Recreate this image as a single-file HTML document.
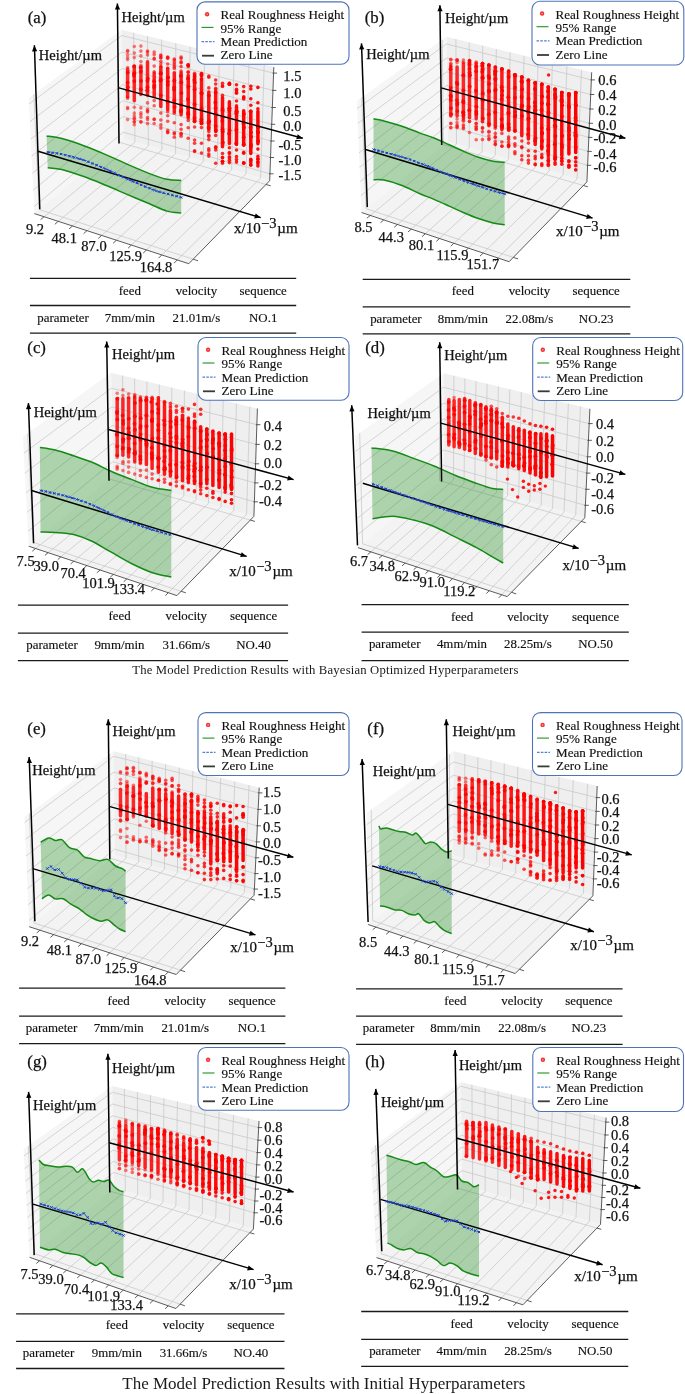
<!DOCTYPE html>
<html><head><meta charset="utf-8"><title>Model Prediction Results</title>
<style>html,body{margin:0;padding:0;background:#fff;width:685px;height:1394px;overflow:hidden}svg{display:block}text{font-family:"Liberation Serif","Times New Roman",serif}</style>
</head><body>
<svg width="685" height="1394" viewBox="0 0 685 1394" font-family="&quot;Liberation Serif&quot;,&quot;Times New Roman&quot;,serif">
<polygon points="28.7,97.9 121.6,29.8 123.4,138.8 34.4,213.6" fill="#f6f6f6"/>
<polygon points="121.6,29.8 273.8,67.1 269.7,180.7 123.4,138.8" fill="#efefef"/>
<polygon points="34.4,213.6 123.4,138.8 269.7,180.7 188.8,263.7" fill="#f3f3f3"/>
<g><line x1="135.0" y1="142.1" x2="133.6" y2="32.7" stroke="#c4c4c4" stroke-width="0.7"/><line x1="44.0" y1="216.8" x2="135.0" y2="142.1" stroke="#c4c4c4" stroke-width="0.7"/><line x1="148.4" y1="146.0" x2="147.5" y2="36.1" stroke="#c4c4c4" stroke-width="0.7"/><line x1="58.2" y1="221.4" x2="148.4" y2="146.0" stroke="#c4c4c4" stroke-width="0.7"/><line x1="161.9" y1="149.8" x2="161.6" y2="39.6" stroke="#c4c4c4" stroke-width="0.7"/><line x1="72.5" y1="226.0" x2="161.9" y2="149.8" stroke="#c4c4c4" stroke-width="0.7"/><line x1="175.6" y1="153.7" x2="175.8" y2="43.1" stroke="#c4c4c4" stroke-width="0.7"/><line x1="86.9" y1="230.7" x2="175.6" y2="153.7" stroke="#c4c4c4" stroke-width="0.7"/><line x1="189.4" y1="157.7" x2="190.1" y2="46.6" stroke="#c4c4c4" stroke-width="0.7"/><line x1="101.6" y1="235.4" x2="189.4" y2="157.7" stroke="#c4c4c4" stroke-width="0.7"/><line x1="203.3" y1="161.7" x2="204.6" y2="50.1" stroke="#c4c4c4" stroke-width="0.7"/><line x1="116.4" y1="240.2" x2="203.3" y2="161.7" stroke="#c4c4c4" stroke-width="0.7"/><line x1="217.4" y1="165.7" x2="219.3" y2="53.7" stroke="#c4c4c4" stroke-width="0.7"/><line x1="131.3" y1="245.1" x2="217.4" y2="165.7" stroke="#c4c4c4" stroke-width="0.7"/><line x1="231.6" y1="169.8" x2="234.1" y2="57.4" stroke="#c4c4c4" stroke-width="0.7"/><line x1="146.4" y1="250.0" x2="231.6" y2="169.8" stroke="#c4c4c4" stroke-width="0.7"/><line x1="246.0" y1="173.9" x2="249.1" y2="61.1" stroke="#c4c4c4" stroke-width="0.7"/><line x1="161.7" y1="255.0" x2="246.0" y2="173.9" stroke="#c4c4c4" stroke-width="0.7"/><line x1="260.6" y1="178.1" x2="264.2" y2="64.8" stroke="#c4c4c4" stroke-width="0.7"/><line x1="177.2" y1="260.0" x2="260.6" y2="178.1" stroke="#c4c4c4" stroke-width="0.7"/><line x1="123.3" y1="132.2" x2="270.0" y2="173.8" stroke="#c4c4c4" stroke-width="0.7"/><line x1="34.1" y1="206.6" x2="123.3" y2="132.2" stroke="#c4c4c4" stroke-width="0.7"/><line x1="123.0" y1="116.5" x2="270.6" y2="157.5" stroke="#c4c4c4" stroke-width="0.7"/><line x1="33.2" y1="190.1" x2="123.0" y2="116.5" stroke="#c4c4c4" stroke-width="0.7"/><line x1="122.8" y1="100.7" x2="271.1" y2="141.0" stroke="#c4c4c4" stroke-width="0.7"/><line x1="32.4" y1="173.3" x2="122.8" y2="100.7" stroke="#c4c4c4" stroke-width="0.7"/><line x1="122.5" y1="84.7" x2="271.7" y2="124.3" stroke="#c4c4c4" stroke-width="0.7"/><line x1="31.6" y1="156.3" x2="122.5" y2="84.7" stroke="#c4c4c4" stroke-width="0.7"/><line x1="122.2" y1="68.5" x2="272.3" y2="107.5" stroke="#c4c4c4" stroke-width="0.7"/><line x1="30.8" y1="139.1" x2="122.2" y2="68.5" stroke="#c4c4c4" stroke-width="0.7"/><line x1="122.0" y1="52.1" x2="272.9" y2="90.4" stroke="#c4c4c4" stroke-width="0.7"/><line x1="29.9" y1="121.7" x2="122.0" y2="52.1" stroke="#c4c4c4" stroke-width="0.7"/><line x1="121.7" y1="35.5" x2="273.5" y2="73.1" stroke="#c4c4c4" stroke-width="0.7"/><line x1="29.0" y1="104.0" x2="121.7" y2="35.5" stroke="#c4c4c4" stroke-width="0.7"/><line x1="39.2" y1="209.6" x2="33.8" y2="94.2" stroke="#c4c4c4" stroke-width="0.7"/><line x1="39.2" y1="209.6" x2="193.2" y2="259.2" stroke="#c4c4c4" stroke-width="0.7"/><line x1="119.3" y1="142.3" x2="117.3" y2="32.9" stroke="#c4c4c4" stroke-width="0.7"/><line x1="119.3" y1="142.3" x2="266.0" y2="184.5" stroke="#c4c4c4" stroke-width="0.7"/></g>
<line x1="34.4" y1="213.6" x2="188.8" y2="263.7" stroke="#4a4a4a" stroke-width="0.9"/>
<line x1="188.8" y1="263.7" x2="269.7" y2="180.7" stroke="#4a4a4a" stroke-width="0.9"/>
<line x1="269.7" y1="180.7" x2="273.8" y2="67.1" stroke="#4a4a4a" stroke-width="0.9"/>
<line x1="44.0" y1="216.8" x2="40.6" y2="219.6" stroke="#4a4a4a" stroke-width="0.9"/>
<line x1="58.2" y1="221.4" x2="54.8" y2="224.3" stroke="#4a4a4a" stroke-width="0.9"/>
<line x1="72.5" y1="226.0" x2="69.1" y2="228.9" stroke="#4a4a4a" stroke-width="0.9"/>
<line x1="86.9" y1="230.7" x2="83.6" y2="233.7" stroke="#4a4a4a" stroke-width="0.9"/>
<line x1="101.6" y1="235.4" x2="98.3" y2="238.4" stroke="#4a4a4a" stroke-width="0.9"/>
<line x1="116.4" y1="240.2" x2="113.1" y2="243.3" stroke="#4a4a4a" stroke-width="0.9"/>
<line x1="131.3" y1="245.1" x2="128.1" y2="248.2" stroke="#4a4a4a" stroke-width="0.9"/>
<line x1="146.4" y1="250.0" x2="143.2" y2="253.1" stroke="#4a4a4a" stroke-width="0.9"/>
<line x1="161.7" y1="255.0" x2="158.6" y2="258.1" stroke="#4a4a4a" stroke-width="0.9"/>
<line x1="177.2" y1="260.0" x2="174.1" y2="263.2" stroke="#4a4a4a" stroke-width="0.9"/>
<line x1="269.0" y1="173.8" x2="273.5" y2="173.8" stroke="#4a4a4a" stroke-width="0.9"/>
<line x1="269.6" y1="157.5" x2="274.1" y2="157.5" stroke="#4a4a4a" stroke-width="0.9"/>
<line x1="270.1" y1="141.0" x2="274.6" y2="141.0" stroke="#4a4a4a" stroke-width="0.9"/>
<line x1="270.7" y1="124.3" x2="275.2" y2="124.3" stroke="#4a4a4a" stroke-width="0.9"/>
<line x1="271.3" y1="107.5" x2="275.8" y2="107.5" stroke="#4a4a4a" stroke-width="0.9"/>
<line x1="271.9" y1="90.4" x2="276.4" y2="90.4" stroke="#4a4a4a" stroke-width="0.9"/>
<line x1="272.5" y1="73.1" x2="277.0" y2="73.1" stroke="#4a4a4a" stroke-width="0.9"/>
<line x1="193.2" y1="259.2" x2="198.1" y2="260.8" stroke="#4a4a4a" stroke-width="0.9"/>
<line x1="266.0" y1="184.5" x2="270.7" y2="185.8" stroke="#4a4a4a" stroke-width="0.9"/>
<path d="M46.6,136.0 C49.1,136.4 55.7,137.0 61.9,138.6 C68.1,140.2 76.5,143.1 83.8,145.8 C91.1,148.5 98.4,151.5 105.7,154.6 C113.0,157.7 120.3,161.2 127.6,164.4 C134.9,167.6 142.9,171.1 149.5,173.6 C156.1,176.1 161.7,178.2 167.0,179.3 C172.3,180.4 178.8,180.2 181.2,180.4 L181.2,213.0 L181.2,213.0 C178.8,212.7 172.3,212.6 167.0,211.1 C161.7,209.6 156.1,206.6 149.5,203.8 C142.9,201.1 134.9,197.7 127.6,194.6 C120.3,191.5 113.0,188.2 105.7,185.2 C98.4,182.2 91.1,179.1 83.8,176.5 C76.5,173.9 67.9,171.0 61.9,169.5 C55.9,168.0 50.1,168.0 47.7,167.7 Z" fill="rgb(0,128,0)" fill-opacity="0.3"/>
<path d="M46.6,136.0 C49.1,136.4 55.7,137.0 61.9,138.6 C68.1,140.2 76.5,143.1 83.8,145.8 C91.1,148.5 98.4,151.5 105.7,154.6 C113.0,157.7 120.3,161.2 127.6,164.4 C134.9,167.6 142.9,171.1 149.5,173.6 C156.1,176.1 161.7,178.2 167.0,179.3 C172.3,180.4 178.8,180.2 181.2,180.4" fill="none" stroke="#158a15" stroke-width="1.5"/>
<path d="M47.7,167.7 C50.1,168.0 55.9,168.0 61.9,169.5 C67.9,171.0 76.5,173.9 83.8,176.5 C91.1,179.1 98.4,182.2 105.7,185.2 C113.0,188.2 120.3,191.5 127.6,194.6 C134.9,197.7 142.9,201.1 149.5,203.8 C156.1,206.6 161.7,209.6 167.0,211.1 C172.3,212.6 178.8,212.7 181.2,213.0" fill="none" stroke="#158a15" stroke-width="1.5"/>
<g><line x1="127.6" y1="69.0" x2="127.6" y2="96.6" stroke="rgba(255,0,0,0.82)" stroke-width="3.5" stroke-linecap="round"/><circle cx="127.8" cy="72.4" r="1.95" fill="rgba(255,0,0,0.82)"/><circle cx="127.4" cy="90.4" r="1.95" fill="rgba(255,0,0,0.82)"/><circle cx="127.6" cy="82.7" r="1.95" fill="rgba(255,0,0,0.82)"/><circle cx="127.8" cy="87.2" r="1.95" fill="rgba(255,0,0,0.82)"/><circle cx="127.6" cy="67.5" r="1.8" fill="rgba(255,0,0,0.50)"/><circle cx="127.6" cy="108.7" r="1.8" fill="rgba(255,0,0,0.50)"/><circle cx="127.6" cy="97.3" r="1.8" fill="rgba(255,0,0,0.50)"/><circle cx="127.6" cy="54.8" r="1.8" fill="rgba(255,0,0,0.50)"/><circle cx="127.6" cy="51.4" r="1.8" fill="rgba(255,0,0,0.50)"/><circle cx="127.6" cy="98.5" r="1.8" fill="rgba(255,0,0,0.50)"/><circle cx="127.6" cy="57.6" r="1.8" fill="rgba(255,0,0,0.50)"/><circle cx="127.6" cy="107.5" r="1.8" fill="rgba(255,0,0,0.50)"/><circle cx="127.6" cy="59.6" r="1.8" fill="rgba(255,0,0,0.50)"/><circle cx="127.6" cy="50.6" r="1.8" fill="rgba(255,0,0,0.50)"/><circle cx="127.6" cy="119.6" r="1.8" fill="rgba(255,0,0,0.50)"/><line x1="134.3" y1="65.9" x2="134.3" y2="100.7" stroke="rgba(255,0,0,0.83)" stroke-width="3.5" stroke-linecap="round"/><circle cx="134.1" cy="66.4" r="1.95" fill="rgba(255,0,0,0.83)"/><circle cx="134.3" cy="81.1" r="1.95" fill="rgba(255,0,0,0.83)"/><circle cx="134.1" cy="73.7" r="1.95" fill="rgba(255,0,0,0.83)"/><circle cx="134.3" cy="73.2" r="1.95" fill="rgba(255,0,0,0.83)"/><circle cx="134.0" cy="75.8" r="1.95" fill="rgba(255,0,0,0.83)"/><circle cx="134.3" cy="115.9" r="1.8" fill="rgba(255,0,0,0.52)"/><circle cx="134.3" cy="107.3" r="1.8" fill="rgba(255,0,0,0.52)"/><circle cx="134.3" cy="122.0" r="1.8" fill="rgba(255,0,0,0.52)"/><circle cx="134.3" cy="57.6" r="1.8" fill="rgba(255,0,0,0.52)"/><circle cx="134.3" cy="119.1" r="1.8" fill="rgba(255,0,0,0.52)"/><circle cx="134.3" cy="113.0" r="1.8" fill="rgba(255,0,0,0.52)"/><circle cx="134.3" cy="118.3" r="1.8" fill="rgba(255,0,0,0.52)"/><circle cx="134.3" cy="53.1" r="1.8" fill="rgba(255,0,0,0.52)"/><circle cx="134.3" cy="121.8" r="1.8" fill="rgba(255,0,0,0.52)"/><circle cx="134.3" cy="46.5" r="1.8" fill="rgba(255,0,0,0.52)"/><circle cx="134.3" cy="124.7" r="1.8" fill="rgba(255,0,0,0.52)"/><line x1="140.9" y1="66.9" x2="140.9" y2="94.5" stroke="rgba(255,0,0,0.84)" stroke-width="3.5" stroke-linecap="round"/><circle cx="141.0" cy="80.9" r="1.95" fill="rgba(255,0,0,0.84)"/><circle cx="140.7" cy="67.4" r="1.95" fill="rgba(255,0,0,0.84)"/><circle cx="140.8" cy="89.2" r="1.95" fill="rgba(255,0,0,0.84)"/><circle cx="140.9" cy="71.4" r="1.95" fill="rgba(255,0,0,0.84)"/><circle cx="140.9" cy="114.8" r="1.8" fill="rgba(255,0,0,0.55)"/><circle cx="140.9" cy="55.9" r="1.8" fill="rgba(255,0,0,0.55)"/><circle cx="140.9" cy="117.2" r="1.8" fill="rgba(255,0,0,0.55)"/><circle cx="140.9" cy="107.9" r="1.8" fill="rgba(255,0,0,0.55)"/><circle cx="140.9" cy="65.2" r="1.8" fill="rgba(255,0,0,0.55)"/><circle cx="140.9" cy="51.1" r="1.8" fill="rgba(255,0,0,0.55)"/><circle cx="140.9" cy="112.9" r="1.8" fill="rgba(255,0,0,0.55)"/><circle cx="140.9" cy="61.5" r="1.8" fill="rgba(255,0,0,0.55)"/><circle cx="140.9" cy="121.7" r="1.8" fill="rgba(255,0,0,0.55)"/><circle cx="140.9" cy="46.1" r="1.8" fill="rgba(255,0,0,0.55)"/><circle cx="140.9" cy="122.1" r="1.8" fill="rgba(255,0,0,0.55)"/><line x1="147.5" y1="61.8" x2="147.5" y2="94.5" stroke="rgba(255,0,0,0.85)" stroke-width="3.5" stroke-linecap="round"/><circle cx="147.5" cy="87.2" r="1.95" fill="rgba(255,0,0,0.85)"/><circle cx="147.3" cy="90.3" r="1.95" fill="rgba(255,0,0,0.85)"/><circle cx="147.8" cy="78.6" r="1.95" fill="rgba(255,0,0,0.85)"/><circle cx="147.5" cy="80.7" r="1.95" fill="rgba(255,0,0,0.85)"/><circle cx="147.5" cy="54.9" r="1.8" fill="rgba(255,0,0,0.57)"/><circle cx="147.5" cy="95.4" r="1.8" fill="rgba(255,0,0,0.57)"/><circle cx="147.5" cy="119.4" r="1.8" fill="rgba(255,0,0,0.57)"/><circle cx="147.5" cy="117.5" r="1.8" fill="rgba(255,0,0,0.57)"/><circle cx="147.5" cy="111.9" r="1.8" fill="rgba(255,0,0,0.57)"/><circle cx="147.5" cy="109.4" r="1.8" fill="rgba(255,0,0,0.57)"/><circle cx="147.5" cy="52.1" r="1.8" fill="rgba(255,0,0,0.57)"/><circle cx="147.5" cy="102.9" r="1.8" fill="rgba(255,0,0,0.57)"/><circle cx="147.5" cy="111.0" r="1.8" fill="rgba(255,0,0,0.57)"/><circle cx="147.5" cy="51.0" r="1.8" fill="rgba(255,0,0,0.57)"/><circle cx="147.5" cy="123.6" r="1.8" fill="rgba(255,0,0,0.57)"/><line x1="154.2" y1="72.9" x2="154.2" y2="96.4" stroke="rgba(255,0,0,0.86)" stroke-width="3.5" stroke-linecap="round"/><circle cx="154.1" cy="81.2" r="1.95" fill="rgba(255,0,0,0.86)"/><circle cx="154.3" cy="85.6" r="1.95" fill="rgba(255,0,0,0.86)"/><circle cx="154.2" cy="87.4" r="1.95" fill="rgba(255,0,0,0.86)"/><circle cx="154.2" cy="66.1" r="1.8" fill="rgba(255,0,0,0.59)"/><circle cx="154.2" cy="59.1" r="1.8" fill="rgba(255,0,0,0.59)"/><circle cx="154.2" cy="119.1" r="1.8" fill="rgba(255,0,0,0.59)"/><circle cx="154.2" cy="119.5" r="1.8" fill="rgba(255,0,0,0.59)"/><circle cx="154.2" cy="54.6" r="1.8" fill="rgba(255,0,0,0.59)"/><circle cx="154.2" cy="100.6" r="1.8" fill="rgba(255,0,0,0.59)"/><circle cx="154.2" cy="71.7" r="1.8" fill="rgba(255,0,0,0.59)"/><circle cx="154.2" cy="105.7" r="1.8" fill="rgba(255,0,0,0.59)"/><circle cx="154.2" cy="58.4" r="1.8" fill="rgba(255,0,0,0.59)"/><circle cx="154.2" cy="52.0" r="1.8" fill="rgba(255,0,0,0.59)"/><circle cx="154.2" cy="123.5" r="1.8" fill="rgba(255,0,0,0.59)"/><line x1="160.8" y1="67.3" x2="160.8" y2="106.6" stroke="rgba(255,0,0,0.87)" stroke-width="3.5" stroke-linecap="round"/><circle cx="160.5" cy="80.6" r="1.95" fill="rgba(255,0,0,0.87)"/><circle cx="160.8" cy="73.2" r="1.95" fill="rgba(255,0,0,0.87)"/><circle cx="160.6" cy="73.5" r="1.95" fill="rgba(255,0,0,0.87)"/><circle cx="160.8" cy="95.4" r="1.95" fill="rgba(255,0,0,0.87)"/><circle cx="160.8" cy="79.7" r="1.95" fill="rgba(255,0,0,0.87)"/><circle cx="160.8" cy="61.2" r="1.8" fill="rgba(255,0,0,0.62)"/><circle cx="160.8" cy="63.7" r="1.8" fill="rgba(255,0,0,0.62)"/><circle cx="160.8" cy="55.9" r="1.8" fill="rgba(255,0,0,0.62)"/><circle cx="160.8" cy="113.1" r="1.8" fill="rgba(255,0,0,0.62)"/><circle cx="160.8" cy="124.9" r="1.8" fill="rgba(255,0,0,0.62)"/><circle cx="160.8" cy="66.3" r="1.8" fill="rgba(255,0,0,0.62)"/><circle cx="160.8" cy="57.7" r="1.8" fill="rgba(255,0,0,0.62)"/><circle cx="160.8" cy="57.8" r="1.8" fill="rgba(255,0,0,0.62)"/><circle cx="160.8" cy="120.0" r="1.8" fill="rgba(255,0,0,0.62)"/><circle cx="160.8" cy="55.0" r="1.8" fill="rgba(255,0,0,0.62)"/><circle cx="160.8" cy="128.1" r="1.8" fill="rgba(255,0,0,0.62)"/><line x1="167.7" y1="68.8" x2="167.7" y2="109.7" stroke="rgba(255,0,0,0.88)" stroke-width="3.5" stroke-linecap="round"/><circle cx="168.0" cy="77.5" r="1.95" fill="rgba(255,0,0,0.88)"/><circle cx="167.7" cy="101.7" r="1.95" fill="rgba(255,0,0,0.88)"/><circle cx="167.8" cy="77.6" r="1.95" fill="rgba(255,0,0,0.88)"/><circle cx="167.8" cy="84.8" r="1.95" fill="rgba(255,0,0,0.88)"/><circle cx="167.8" cy="81.7" r="1.95" fill="rgba(255,0,0,0.88)"/><circle cx="167.7" cy="64.0" r="1.8" fill="rgba(255,0,0,0.64)"/><circle cx="167.7" cy="130.4" r="1.8" fill="rgba(255,0,0,0.64)"/><circle cx="167.7" cy="58.4" r="1.8" fill="rgba(255,0,0,0.64)"/><circle cx="167.7" cy="57.6" r="1.8" fill="rgba(255,0,0,0.64)"/><circle cx="167.7" cy="121.3" r="1.8" fill="rgba(255,0,0,0.64)"/><circle cx="167.7" cy="68.0" r="1.8" fill="rgba(255,0,0,0.64)"/><circle cx="167.7" cy="111.8" r="1.8" fill="rgba(255,0,0,0.64)"/><circle cx="167.7" cy="132.0" r="1.8" fill="rgba(255,0,0,0.64)"/><circle cx="167.7" cy="115.7" r="1.8" fill="rgba(255,0,0,0.64)"/><circle cx="167.7" cy="57.1" r="1.8" fill="rgba(255,0,0,0.64)"/><circle cx="167.7" cy="132.7" r="1.8" fill="rgba(255,0,0,0.64)"/><line x1="174.3" y1="72.8" x2="174.3" y2="111.7" stroke="rgba(255,0,0,0.89)" stroke-width="3.5" stroke-linecap="round"/><circle cx="174.6" cy="106.9" r="1.95" fill="rgba(255,0,0,0.89)"/><circle cx="174.3" cy="100.4" r="1.95" fill="rgba(255,0,0,0.89)"/><circle cx="174.2" cy="87.4" r="1.95" fill="rgba(255,0,0,0.89)"/><circle cx="174.4" cy="80.5" r="1.95" fill="rgba(255,0,0,0.89)"/><circle cx="174.1" cy="89.6" r="1.95" fill="rgba(255,0,0,0.89)"/><circle cx="174.3" cy="62.7" r="1.8" fill="rgba(255,0,0,0.67)"/><circle cx="174.3" cy="64.7" r="1.8" fill="rgba(255,0,0,0.67)"/><circle cx="174.3" cy="60.4" r="1.8" fill="rgba(255,0,0,0.67)"/><circle cx="174.3" cy="113.2" r="1.8" fill="rgba(255,0,0,0.67)"/><circle cx="174.3" cy="66.8" r="1.8" fill="rgba(255,0,0,0.67)"/><circle cx="174.3" cy="132.7" r="1.8" fill="rgba(255,0,0,0.67)"/><circle cx="174.3" cy="68.4" r="1.8" fill="rgba(255,0,0,0.67)"/><circle cx="174.3" cy="133.9" r="1.8" fill="rgba(255,0,0,0.67)"/><circle cx="174.3" cy="122.8" r="1.8" fill="rgba(255,0,0,0.67)"/><circle cx="174.3" cy="59.0" r="1.8" fill="rgba(255,0,0,0.67)"/><circle cx="174.3" cy="137.2" r="1.8" fill="rgba(255,0,0,0.67)"/><line x1="181.1" y1="72.8" x2="181.1" y2="114.7" stroke="rgba(255,0,0,0.90)" stroke-width="3.5" stroke-linecap="round"/><circle cx="181.2" cy="110.1" r="1.95" fill="rgba(255,0,0,0.90)"/><circle cx="181.4" cy="93.1" r="1.95" fill="rgba(255,0,0,0.90)"/><circle cx="181.3" cy="82.3" r="1.95" fill="rgba(255,0,0,0.90)"/><circle cx="180.9" cy="75.9" r="1.95" fill="rgba(255,0,0,0.90)"/><circle cx="180.9" cy="111.4" r="1.95" fill="rgba(255,0,0,0.90)"/><circle cx="181.2" cy="104.8" r="1.95" fill="rgba(255,0,0,0.90)"/><circle cx="181.1" cy="124.6" r="1.8" fill="rgba(255,0,0,0.69)"/><circle cx="181.1" cy="66.6" r="1.8" fill="rgba(255,0,0,0.69)"/><circle cx="181.1" cy="129.2" r="1.8" fill="rgba(255,0,0,0.69)"/><circle cx="181.1" cy="134.3" r="1.8" fill="rgba(255,0,0,0.69)"/><circle cx="181.1" cy="62.8" r="1.8" fill="rgba(255,0,0,0.69)"/><circle cx="181.1" cy="71.1" r="1.8" fill="rgba(255,0,0,0.69)"/><circle cx="181.1" cy="58.6" r="1.8" fill="rgba(255,0,0,0.69)"/><circle cx="181.1" cy="133.2" r="1.8" fill="rgba(255,0,0,0.69)"/><circle cx="181.1" cy="61.9" r="1.8" fill="rgba(255,0,0,0.69)"/><circle cx="181.1" cy="57.0" r="1.8" fill="rgba(255,0,0,0.69)"/><circle cx="181.1" cy="136.2" r="1.8" fill="rgba(255,0,0,0.69)"/><line x1="188.2" y1="75.5" x2="188.2" y2="116.9" stroke="rgba(255,0,0,0.91)" stroke-width="3.5" stroke-linecap="round"/><circle cx="188.1" cy="108.1" r="1.95" fill="rgba(255,0,0,0.91)"/><circle cx="188.0" cy="99.2" r="1.95" fill="rgba(255,0,0,0.91)"/><circle cx="188.0" cy="78.4" r="1.95" fill="rgba(255,0,0,0.91)"/><circle cx="188.2" cy="112.7" r="1.95" fill="rgba(255,0,0,0.91)"/><circle cx="188.2" cy="114.2" r="1.95" fill="rgba(255,0,0,0.91)"/><circle cx="188.4" cy="86.7" r="1.95" fill="rgba(255,0,0,0.91)"/><circle cx="188.2" cy="118.0" r="1.8" fill="rgba(255,0,0,0.71)"/><circle cx="188.2" cy="120.4" r="1.8" fill="rgba(255,0,0,0.71)"/><circle cx="188.2" cy="65.6" r="1.8" fill="rgba(255,0,0,0.71)"/><circle cx="188.2" cy="71.7" r="1.8" fill="rgba(255,0,0,0.71)"/><circle cx="188.2" cy="127.8" r="1.8" fill="rgba(255,0,0,0.71)"/><circle cx="188.2" cy="72.5" r="1.8" fill="rgba(255,0,0,0.71)"/><circle cx="188.2" cy="66.8" r="1.8" fill="rgba(255,0,0,0.71)"/><circle cx="188.2" cy="65.4" r="1.8" fill="rgba(255,0,0,0.71)"/><circle cx="188.2" cy="64.9" r="1.8" fill="rgba(255,0,0,0.71)"/><circle cx="188.2" cy="64.7" r="1.8" fill="rgba(255,0,0,0.71)"/><circle cx="188.2" cy="138.3" r="1.8" fill="rgba(255,0,0,0.71)"/><line x1="194.6" y1="78.6" x2="194.6" y2="121.4" stroke="rgba(255,0,0,0.91)" stroke-width="3.5" stroke-linecap="round"/><circle cx="194.5" cy="118.0" r="1.95" fill="rgba(255,0,0,0.91)"/><circle cx="194.6" cy="89.2" r="1.95" fill="rgba(255,0,0,0.91)"/><circle cx="194.7" cy="82.5" r="1.95" fill="rgba(255,0,0,0.91)"/><circle cx="194.3" cy="79.9" r="1.95" fill="rgba(255,0,0,0.91)"/><circle cx="194.5" cy="121.2" r="1.95" fill="rgba(255,0,0,0.91)"/><circle cx="194.6" cy="104.3" r="1.95" fill="rgba(255,0,0,0.91)"/><circle cx="194.6" cy="77.6" r="1.8" fill="rgba(255,0,0,0.74)"/><circle cx="194.6" cy="150.8" r="1.8" fill="rgba(255,0,0,0.74)"/><circle cx="194.6" cy="127.0" r="1.8" fill="rgba(255,0,0,0.74)"/><circle cx="194.6" cy="74.8" r="1.8" fill="rgba(255,0,0,0.74)"/><circle cx="194.6" cy="140.1" r="1.8" fill="rgba(255,0,0,0.74)"/><circle cx="194.6" cy="143.2" r="1.8" fill="rgba(255,0,0,0.74)"/><circle cx="194.6" cy="75.1" r="1.8" fill="rgba(255,0,0,0.74)"/><circle cx="194.6" cy="76.5" r="1.8" fill="rgba(255,0,0,0.74)"/><circle cx="194.6" cy="76.4" r="1.8" fill="rgba(255,0,0,0.74)"/><circle cx="194.6" cy="73.2" r="1.8" fill="rgba(255,0,0,0.74)"/><circle cx="194.6" cy="151.5" r="1.8" fill="rgba(255,0,0,0.74)"/><line x1="201.5" y1="79.7" x2="201.5" y2="123.6" stroke="rgba(255,0,0,0.92)" stroke-width="3.5" stroke-linecap="round"/><circle cx="201.5" cy="123.4" r="1.95" fill="rgba(255,0,0,0.92)"/><circle cx="201.6" cy="108.5" r="1.95" fill="rgba(255,0,0,0.92)"/><circle cx="201.4" cy="121.5" r="1.95" fill="rgba(255,0,0,0.92)"/><circle cx="201.4" cy="93.0" r="1.95" fill="rgba(255,0,0,0.92)"/><circle cx="201.7" cy="93.5" r="1.95" fill="rgba(255,0,0,0.92)"/><circle cx="201.4" cy="119.4" r="1.95" fill="rgba(255,0,0,0.92)"/><circle cx="201.5" cy="75.6" r="1.8" fill="rgba(255,0,0,0.76)"/><circle cx="201.5" cy="143.3" r="1.8" fill="rgba(255,0,0,0.76)"/><circle cx="201.5" cy="79.0" r="1.8" fill="rgba(255,0,0,0.76)"/><circle cx="201.5" cy="78.5" r="1.8" fill="rgba(255,0,0,0.76)"/><circle cx="201.5" cy="127.6" r="1.8" fill="rgba(255,0,0,0.76)"/><circle cx="201.5" cy="75.1" r="1.8" fill="rgba(255,0,0,0.76)"/><circle cx="201.5" cy="74.3" r="1.8" fill="rgba(255,0,0,0.76)"/><circle cx="201.5" cy="73.9" r="1.8" fill="rgba(255,0,0,0.76)"/><circle cx="201.5" cy="75.8" r="1.8" fill="rgba(255,0,0,0.76)"/><circle cx="201.5" cy="73.2" r="1.8" fill="rgba(255,0,0,0.76)"/><circle cx="201.5" cy="153.1" r="1.8" fill="rgba(255,0,0,0.76)"/><line x1="208.8" y1="92.0" x2="208.8" y2="129.3" stroke="rgba(255,0,0,0.93)" stroke-width="3.5" stroke-linecap="round"/><circle cx="208.5" cy="121.9" r="1.95" fill="rgba(255,0,0,0.93)"/><circle cx="208.6" cy="127.8" r="1.95" fill="rgba(255,0,0,0.93)"/><circle cx="209.1" cy="121.2" r="1.95" fill="rgba(255,0,0,0.93)"/><circle cx="208.7" cy="122.9" r="1.95" fill="rgba(255,0,0,0.93)"/><circle cx="208.8" cy="95.6" r="1.95" fill="rgba(255,0,0,0.93)"/><circle cx="208.8" cy="139.6" r="1.8" fill="rgba(255,0,0,0.78)"/><circle cx="208.8" cy="135.3" r="1.8" fill="rgba(255,0,0,0.78)"/><circle cx="208.8" cy="131.4" r="1.8" fill="rgba(255,0,0,0.78)"/><circle cx="208.8" cy="77.3" r="1.8" fill="rgba(255,0,0,0.78)"/><circle cx="208.8" cy="154.1" r="1.8" fill="rgba(255,0,0,0.78)"/><circle cx="208.8" cy="150.6" r="1.8" fill="rgba(255,0,0,0.78)"/><circle cx="208.8" cy="136.4" r="1.8" fill="rgba(255,0,0,0.78)"/><circle cx="208.8" cy="87.9" r="1.8" fill="rgba(255,0,0,0.78)"/><circle cx="208.8" cy="148.8" r="1.8" fill="rgba(255,0,0,0.78)"/><circle cx="208.8" cy="76.1" r="1.8" fill="rgba(255,0,0,0.78)"/><circle cx="208.8" cy="156.1" r="1.8" fill="rgba(255,0,0,0.78)"/><line x1="215.7" y1="93.0" x2="215.7" y2="131.5" stroke="rgba(255,0,0,0.94)" stroke-width="3.5" stroke-linecap="round"/><circle cx="215.4" cy="102.5" r="1.95" fill="rgba(255,0,0,0.94)"/><circle cx="215.9" cy="130.5" r="1.95" fill="rgba(255,0,0,0.94)"/><circle cx="215.7" cy="114.2" r="1.95" fill="rgba(255,0,0,0.94)"/><circle cx="215.7" cy="126.1" r="1.95" fill="rgba(255,0,0,0.94)"/><circle cx="215.6" cy="108.1" r="1.95" fill="rgba(255,0,0,0.94)"/><circle cx="215.7" cy="91.8" r="1.8" fill="rgba(255,0,0,0.81)"/><circle cx="215.7" cy="147.5" r="1.8" fill="rgba(255,0,0,0.81)"/><circle cx="215.7" cy="135.4" r="1.8" fill="rgba(255,0,0,0.81)"/><circle cx="215.7" cy="89.9" r="1.8" fill="rgba(255,0,0,0.81)"/><circle cx="215.7" cy="88.2" r="1.8" fill="rgba(255,0,0,0.81)"/><circle cx="215.7" cy="146.9" r="1.8" fill="rgba(255,0,0,0.81)"/><circle cx="215.7" cy="84.0" r="1.8" fill="rgba(255,0,0,0.81)"/><circle cx="215.7" cy="92.2" r="1.8" fill="rgba(255,0,0,0.81)"/><circle cx="215.7" cy="149.9" r="1.8" fill="rgba(255,0,0,0.81)"/><circle cx="215.7" cy="80.0" r="1.8" fill="rgba(255,0,0,0.81)"/><circle cx="215.7" cy="163.2" r="1.8" fill="rgba(255,0,0,0.81)"/><line x1="222.5" y1="97.4" x2="222.5" y2="146.8" stroke="rgba(255,0,0,0.95)" stroke-width="3.5" stroke-linecap="round"/><circle cx="222.5" cy="129.6" r="1.95" fill="rgba(255,0,0,0.95)"/><circle cx="222.7" cy="131.5" r="1.95" fill="rgba(255,0,0,0.95)"/><circle cx="222.5" cy="108.9" r="1.95" fill="rgba(255,0,0,0.95)"/><circle cx="222.3" cy="121.0" r="1.95" fill="rgba(255,0,0,0.95)"/><circle cx="222.5" cy="117.6" r="1.95" fill="rgba(255,0,0,0.95)"/><circle cx="222.8" cy="142.6" r="1.95" fill="rgba(255,0,0,0.95)"/><circle cx="222.6" cy="110.7" r="1.95" fill="rgba(255,0,0,0.95)"/><circle cx="222.5" cy="95.2" r="1.8" fill="rgba(255,0,0,0.83)"/><circle cx="222.5" cy="161.6" r="1.8" fill="rgba(255,0,0,0.83)"/><circle cx="222.5" cy="85.8" r="1.8" fill="rgba(255,0,0,0.83)"/><circle cx="222.5" cy="153.5" r="1.8" fill="rgba(255,0,0,0.83)"/><circle cx="222.5" cy="161.2" r="1.8" fill="rgba(255,0,0,0.83)"/><circle cx="222.5" cy="86.5" r="1.8" fill="rgba(255,0,0,0.83)"/><circle cx="222.5" cy="157.8" r="1.8" fill="rgba(255,0,0,0.83)"/><circle cx="222.5" cy="161.8" r="1.8" fill="rgba(255,0,0,0.83)"/><circle cx="222.5" cy="157.4" r="1.8" fill="rgba(255,0,0,0.83)"/><circle cx="222.5" cy="83.2" r="1.8" fill="rgba(255,0,0,0.83)"/><circle cx="222.5" cy="163.2" r="1.8" fill="rgba(255,0,0,0.83)"/><line x1="229.4" y1="101.8" x2="229.4" y2="143.5" stroke="rgba(255,0,0,0.96)" stroke-width="3.5" stroke-linecap="round"/><circle cx="229.2" cy="108.8" r="1.95" fill="rgba(255,0,0,0.96)"/><circle cx="229.4" cy="110.6" r="1.95" fill="rgba(255,0,0,0.96)"/><circle cx="229.1" cy="133.6" r="1.95" fill="rgba(255,0,0,0.96)"/><circle cx="229.6" cy="130.4" r="1.95" fill="rgba(255,0,0,0.96)"/><circle cx="229.4" cy="116.1" r="1.95" fill="rgba(255,0,0,0.96)"/><circle cx="229.6" cy="108.3" r="1.95" fill="rgba(255,0,0,0.96)"/><circle cx="229.4" cy="83.4" r="1.8" fill="rgba(255,0,0,0.86)"/><circle cx="229.4" cy="156.8" r="1.8" fill="rgba(255,0,0,0.86)"/><circle cx="229.4" cy="84.4" r="1.8" fill="rgba(255,0,0,0.86)"/><circle cx="229.4" cy="147.8" r="1.8" fill="rgba(255,0,0,0.86)"/><circle cx="229.4" cy="160.2" r="1.8" fill="rgba(255,0,0,0.86)"/><circle cx="229.4" cy="158.0" r="1.8" fill="rgba(255,0,0,0.86)"/><circle cx="229.4" cy="84.3" r="1.8" fill="rgba(255,0,0,0.86)"/><circle cx="229.4" cy="152.6" r="1.8" fill="rgba(255,0,0,0.86)"/><circle cx="229.4" cy="153.5" r="1.8" fill="rgba(255,0,0,0.86)"/><circle cx="229.4" cy="83.2" r="1.8" fill="rgba(255,0,0,0.86)"/><circle cx="229.4" cy="162.6" r="1.8" fill="rgba(255,0,0,0.86)"/><line x1="236.5" y1="107.3" x2="236.5" y2="144.6" stroke="rgba(255,0,0,0.97)" stroke-width="3.5" stroke-linecap="round"/><circle cx="236.4" cy="113.2" r="1.95" fill="rgba(255,0,0,0.97)"/><circle cx="236.8" cy="111.7" r="1.95" fill="rgba(255,0,0,0.97)"/><circle cx="236.2" cy="143.6" r="1.95" fill="rgba(255,0,0,0.97)"/><circle cx="236.4" cy="129.8" r="1.95" fill="rgba(255,0,0,0.97)"/><circle cx="236.4" cy="111.4" r="1.95" fill="rgba(255,0,0,0.97)"/><circle cx="236.5" cy="89.3" r="1.8" fill="rgba(255,0,0,0.88)"/><circle cx="236.5" cy="101.0" r="1.8" fill="rgba(255,0,0,0.88)"/><circle cx="236.5" cy="105.8" r="1.8" fill="rgba(255,0,0,0.88)"/><circle cx="236.5" cy="156.5" r="1.8" fill="rgba(255,0,0,0.88)"/><circle cx="236.5" cy="150.0" r="1.8" fill="rgba(255,0,0,0.88)"/><circle cx="236.5" cy="93.3" r="1.8" fill="rgba(255,0,0,0.88)"/><circle cx="236.5" cy="92.4" r="1.8" fill="rgba(255,0,0,0.88)"/><circle cx="236.5" cy="90.5" r="1.8" fill="rgba(255,0,0,0.88)"/><circle cx="236.5" cy="159.5" r="1.8" fill="rgba(255,0,0,0.88)"/><circle cx="236.5" cy="84.7" r="1.8" fill="rgba(255,0,0,0.88)"/><circle cx="236.5" cy="162.1" r="1.8" fill="rgba(255,0,0,0.88)"/><line x1="243.7" y1="110.7" x2="243.7" y2="144.7" stroke="rgba(255,0,0,0.98)" stroke-width="3.5" stroke-linecap="round"/><circle cx="243.7" cy="144.3" r="1.95" fill="rgba(255,0,0,0.98)"/><circle cx="243.9" cy="127.4" r="1.95" fill="rgba(255,0,0,0.98)"/><circle cx="243.7" cy="137.2" r="1.95" fill="rgba(255,0,0,0.98)"/><circle cx="243.5" cy="123.7" r="1.95" fill="rgba(255,0,0,0.98)"/><circle cx="243.9" cy="114.0" r="1.95" fill="rgba(255,0,0,0.98)"/><circle cx="243.7" cy="91.5" r="1.8" fill="rgba(255,0,0,0.90)"/><circle cx="243.7" cy="162.8" r="1.8" fill="rgba(255,0,0,0.90)"/><circle cx="243.7" cy="163.0" r="1.8" fill="rgba(255,0,0,0.90)"/><circle cx="243.7" cy="96.7" r="1.8" fill="rgba(255,0,0,0.90)"/><circle cx="243.7" cy="152.4" r="1.8" fill="rgba(255,0,0,0.90)"/><circle cx="243.7" cy="153.2" r="1.8" fill="rgba(255,0,0,0.90)"/><circle cx="243.7" cy="145.3" r="1.8" fill="rgba(255,0,0,0.90)"/><circle cx="243.7" cy="97.8" r="1.8" fill="rgba(255,0,0,0.90)"/><circle cx="243.7" cy="98.9" r="1.8" fill="rgba(255,0,0,0.90)"/><circle cx="243.7" cy="86.6" r="1.8" fill="rgba(255,0,0,0.90)"/><circle cx="243.7" cy="163.3" r="1.8" fill="rgba(255,0,0,0.90)"/><line x1="250.8" y1="111.9" x2="250.8" y2="153.6" stroke="rgba(255,0,0,0.99)" stroke-width="3.5" stroke-linecap="round"/><circle cx="250.9" cy="144.8" r="1.95" fill="rgba(255,0,0,0.99)"/><circle cx="250.9" cy="132.4" r="1.95" fill="rgba(255,0,0,0.99)"/><circle cx="250.6" cy="127.5" r="1.95" fill="rgba(255,0,0,0.99)"/><circle cx="250.6" cy="111.6" r="1.95" fill="rgba(255,0,0,0.99)"/><circle cx="251.1" cy="136.9" r="1.95" fill="rgba(255,0,0,0.99)"/><circle cx="250.8" cy="146.8" r="1.95" fill="rgba(255,0,0,0.99)"/><circle cx="250.8" cy="160.0" r="1.8" fill="rgba(255,0,0,0.93)"/><circle cx="250.8" cy="159.4" r="1.8" fill="rgba(255,0,0,0.93)"/><circle cx="250.8" cy="164.9" r="1.8" fill="rgba(255,0,0,0.93)"/><circle cx="250.8" cy="105.3" r="1.8" fill="rgba(255,0,0,0.93)"/><circle cx="250.8" cy="160.7" r="1.8" fill="rgba(255,0,0,0.93)"/><circle cx="250.8" cy="111.1" r="1.8" fill="rgba(255,0,0,0.93)"/><circle cx="250.8" cy="98.7" r="1.8" fill="rgba(255,0,0,0.93)"/><circle cx="250.8" cy="89.0" r="1.8" fill="rgba(255,0,0,0.93)"/><circle cx="250.8" cy="162.6" r="1.8" fill="rgba(255,0,0,0.93)"/><circle cx="250.8" cy="86.2" r="1.8" fill="rgba(255,0,0,0.93)"/><circle cx="250.8" cy="165.0" r="1.8" fill="rgba(255,0,0,0.93)"/><line x1="257.9" y1="111.4" x2="257.9" y2="143.8" stroke="rgba(255,0,0,1.00)" stroke-width="3.5" stroke-linecap="round"/><circle cx="258.1" cy="140.9" r="1.95" fill="rgba(255,0,0,1.00)"/><circle cx="258.1" cy="127.3" r="1.95" fill="rgba(255,0,0,1.00)"/><circle cx="258.0" cy="132.3" r="1.95" fill="rgba(255,0,0,1.00)"/><circle cx="257.8" cy="131.9" r="1.95" fill="rgba(255,0,0,1.00)"/><circle cx="257.9" cy="159.3" r="1.8" fill="rgba(255,0,0,0.95)"/><circle cx="257.9" cy="162.1" r="1.8" fill="rgba(255,0,0,0.95)"/><circle cx="257.9" cy="161.8" r="1.8" fill="rgba(255,0,0,0.95)"/><circle cx="257.9" cy="158.8" r="1.8" fill="rgba(255,0,0,0.95)"/><circle cx="257.9" cy="102.8" r="1.8" fill="rgba(255,0,0,0.95)"/><circle cx="257.9" cy="163.8" r="1.8" fill="rgba(255,0,0,0.95)"/><circle cx="257.9" cy="149.1" r="1.8" fill="rgba(255,0,0,0.95)"/><circle cx="257.9" cy="156.4" r="1.8" fill="rgba(255,0,0,0.95)"/><circle cx="257.9" cy="108.9" r="1.8" fill="rgba(255,0,0,0.95)"/><circle cx="257.9" cy="87.4" r="1.8" fill="rgba(255,0,0,0.95)"/><circle cx="257.9" cy="166.0" r="1.8" fill="rgba(255,0,0,0.95)"/></g>
<line x1="39.8" y1="209.2" x2="34.4" y2="45.3" stroke="#000" stroke-width="1.5"/>
<polygon points="34.4,45.3 37.2,51.2 32.0,51.4" fill="#000"/>
<line x1="119.0" y1="143.5" x2="117.4" y2="3.5" stroke="#000" stroke-width="1.5"/>
<polygon points="117.4,3.5 120.1,9.5 114.9,9.5" fill="#000"/>
<line x1="38.0" y1="151.2" x2="260.7" y2="217.6" stroke="#000" stroke-width="1.5"/>
<polygon points="260.7,217.6 254.2,218.4 255.7,213.4" fill="#000"/>
<line x1="118.0" y1="87.6" x2="302.8" y2="138.3" stroke="#000" stroke-width="1.5"/>
<polygon points="302.8,138.3 296.3,139.2 297.7,134.2" fill="#000"/>
<path d="M47.7,152.0 C50.1,152.4 55.9,152.8 61.9,154.2 C67.9,155.5 76.5,157.6 83.8,160.1 C91.1,162.6 99.1,166.1 105.7,168.9 C112.3,171.8 117.7,174.7 123.2,177.2 C128.7,179.7 132.7,181.4 138.5,183.8 C144.3,186.2 151.1,189.2 158.2,191.5 C165.3,193.8 177.4,196.4 181.2,197.4" fill="none" stroke="#2a44d4" stroke-width="1.5" stroke-dasharray="2.6 1.5"/>
<path d="M46.6,150.9l2.2,2.2m0,-2.2l-2.2,2.2M51.1,151.6l2.2,2.2m0,-2.2l-2.2,2.2M55.5,152.3l2.2,2.2m0,-2.2l-2.2,2.2M60.0,153.0l2.2,2.2m0,-2.2l-2.2,2.2M64.4,154.1l2.2,2.2m0,-2.2l-2.2,2.2M68.9,155.3l2.2,2.2m0,-2.2l-2.2,2.2M73.3,156.5l2.2,2.2m0,-2.2l-2.2,2.2M77.8,157.7l2.2,2.2m0,-2.2l-2.2,2.2M82.2,158.9l2.2,2.2m0,-2.2l-2.2,2.2M86.7,160.6l2.2,2.2m0,-2.2l-2.2,2.2M91.1,162.4l2.2,2.2m0,-2.2l-2.2,2.2M95.6,164.2l2.2,2.2m0,-2.2l-2.2,2.2M100.0,166.0l2.2,2.2m0,-2.2l-2.2,2.2M104.5,167.7l2.2,2.2m0,-2.2l-2.2,2.2M108.9,169.8l2.2,2.2m0,-2.2l-2.2,2.2M113.4,172.0l2.2,2.2m0,-2.2l-2.2,2.2M117.8,174.1l2.2,2.2m0,-2.2l-2.2,2.2M122.3,176.2l2.2,2.2m0,-2.2l-2.2,2.2M126.7,178.1l2.2,2.2m0,-2.2l-2.2,2.2M131.2,180.0l2.2,2.2m0,-2.2l-2.2,2.2M135.6,181.9l2.2,2.2m0,-2.2l-2.2,2.2M140.1,183.7l2.2,2.2m0,-2.2l-2.2,2.2M144.5,185.5l2.2,2.2m0,-2.2l-2.2,2.2M149.0,187.2l2.2,2.2m0,-2.2l-2.2,2.2M153.4,189.0l2.2,2.2m0,-2.2l-2.2,2.2M157.8,190.6l2.2,2.2m0,-2.2l-2.2,2.2M162.3,191.7l2.2,2.2m0,-2.2l-2.2,2.2M166.8,192.9l2.2,2.2m0,-2.2l-2.2,2.2M171.2,194.0l2.2,2.2m0,-2.2l-2.2,2.2M175.7,195.2l2.2,2.2m0,-2.2l-2.2,2.2M180.1,196.3l2.2,2.2m0,-2.2l-2.2,2.2" stroke="#2040d0" stroke-width="1.0" fill="none"/>
<g fill="#111" stroke="#111" stroke-width="0.25"><text x="27.7" y="22.9" font-size="16.8" text-anchor="start">(a)</text><text x="38.8" y="59.6" font-size="14.5" text-anchor="start">Height/µm</text><text x="121.6" y="22.4" font-size="14.5" text-anchor="start">Height/µm</text><text x="25.9" y="233.7" font-size="14.5" text-anchor="start">9.2</text><text x="51.6" y="243.0" font-size="14.5" text-anchor="start">48.1</text><text x="81.3" y="251.2" font-size="14.5" text-anchor="start">87.0</text><text x="109.3" y="260.5" font-size="14.5" text-anchor="start">125.9</text><text x="139.7" y="271.8" font-size="14.5" text-anchor="start">164.8</text><text x="301.4" y="80.7" font-size="14.5" text-anchor="end">1.5</text><text x="301.4" y="98.4" font-size="14.5" text-anchor="end">1.0</text><text x="301.4" y="116.0" font-size="14.5" text-anchor="end">0.5</text><text x="301.4" y="131.4" font-size="14.5" text-anchor="end">0.0</text><text x="301.4" y="150.0" font-size="14.5" text-anchor="end">-0.5</text><text x="301.4" y="165.4" font-size="14.5" text-anchor="end">-1.0</text><text x="301.4" y="180.3" font-size="14.5" text-anchor="end">-1.5</text></g>
<text x="234.1" y="232.7" font-size="15" fill="#111" stroke="#111" stroke-width="0.25">x/10<tspan dy="-5" dx="0.3" font-size="14.5">−3</tspan><tspan dy="5" dx="0.8" font-size="15">µm</tspan></text>
<rect x="197.0" y="1.9" width="152.0" height="62.3" rx="8" ry="8" fill="#fff" stroke="#4f73b8" stroke-width="1.1"/><circle cx="207.1" cy="14.2" r="2.2" fill="#f43030"/><circle cx="207.1" cy="14.2" r="0.8" fill="#f9a0a0"/><text x="220.5" y="19.2" font-size="13.1" fill="#111" stroke="#111" stroke-width="0.15">Real Roughness Height</text><line x1="201.5" y1="27.4" x2="213.5" y2="27.4" stroke="#229022" stroke-width="1.1"/><text x="220.5" y="32.6" font-size="13.1" fill="#111" stroke="#111" stroke-width="0.15">95% Range</text><line x1="201.5" y1="41.6" x2="214.5" y2="41.6" stroke="#4f7fdc" stroke-width="1.2" stroke-dasharray="2.6 1.2"/><text x="220.5" y="46.0" font-size="13.1" fill="#111" stroke="#111" stroke-width="0.15">Mean Prediction</text><line x1="202.0" y1="55.7" x2="214.0" y2="55.7" stroke="#3a3a3a" stroke-width="1.8"/><text x="220.5" y="59.4" font-size="13.1" fill="#111" stroke="#111" stroke-width="0.15">Zero Line</text>
<line x1="29.9" y1="278.3" x2="296.2" y2="278.3" stroke="#1a1a1a" stroke-width="1.3"/><line x1="29.9" y1="305.5" x2="296.2" y2="305.5" stroke="#1a1a1a" stroke-width="1.3"/><line x1="29.9" y1="333.2" x2="296.2" y2="333.2" stroke="#1a1a1a" stroke-width="1.3"/><g fill="#111" stroke="#111" stroke-width="0.15"><text x="129.9" y="294.5" font-size="12.9" text-anchor="middle">feed</text><text x="196.4" y="294.5" font-size="12.9" text-anchor="middle">velocity</text><text x="263.2" y="294.5" font-size="12.9" text-anchor="middle">sequence</text><text x="63.0" y="321.6" font-size="12.9" text-anchor="middle">parameter</text><text x="129.9" y="321.6" font-size="12.9" text-anchor="middle">7mm/min</text><text x="196.4" y="321.6" font-size="12.9" text-anchor="middle">21.01m/s</text><text x="263.2" y="321.6" font-size="12.9" text-anchor="middle">NO.1</text></g>
<polygon points="356.8,100.9 446.5,36.8 447.4,141.4 361.5,212.5" fill="#f6f6f6"/>
<polygon points="446.5,36.8 591.7,72.3 586.9,181.9 447.4,141.4" fill="#efefef"/>
<polygon points="361.5,212.5 447.4,141.4 586.9,181.9 509.1,261.7" fill="#f3f3f3"/>
<g><line x1="456.5" y1="144.1" x2="455.9" y2="39.1" stroke="#c4c4c4" stroke-width="0.7"/><line x1="370.2" y1="215.5" x2="456.5" y2="144.1" stroke="#c4c4c4" stroke-width="0.7"/><line x1="469.3" y1="147.8" x2="469.2" y2="42.4" stroke="#c4c4c4" stroke-width="0.7"/><line x1="383.7" y1="220.0" x2="469.3" y2="147.8" stroke="#c4c4c4" stroke-width="0.7"/><line x1="482.2" y1="151.5" x2="482.7" y2="45.7" stroke="#c4c4c4" stroke-width="0.7"/><line x1="397.4" y1="224.5" x2="482.2" y2="151.5" stroke="#c4c4c4" stroke-width="0.7"/><line x1="495.3" y1="155.3" x2="496.3" y2="49.0" stroke="#c4c4c4" stroke-width="0.7"/><line x1="411.2" y1="229.1" x2="495.3" y2="155.3" stroke="#c4c4c4" stroke-width="0.7"/><line x1="508.6" y1="159.2" x2="510.1" y2="52.4" stroke="#c4c4c4" stroke-width="0.7"/><line x1="425.2" y1="233.8" x2="508.6" y2="159.2" stroke="#c4c4c4" stroke-width="0.7"/><line x1="522.0" y1="163.0" x2="524.0" y2="55.8" stroke="#c4c4c4" stroke-width="0.7"/><line x1="439.4" y1="238.5" x2="522.0" y2="163.0" stroke="#c4c4c4" stroke-width="0.7"/><line x1="535.5" y1="167.0" x2="538.1" y2="59.2" stroke="#c4c4c4" stroke-width="0.7"/><line x1="453.8" y1="243.3" x2="535.5" y2="167.0" stroke="#c4c4c4" stroke-width="0.7"/><line x1="549.2" y1="170.9" x2="552.4" y2="62.7" stroke="#c4c4c4" stroke-width="0.7"/><line x1="468.3" y1="248.2" x2="549.2" y2="170.9" stroke="#c4c4c4" stroke-width="0.7"/><line x1="563.1" y1="175.0" x2="566.9" y2="66.3" stroke="#c4c4c4" stroke-width="0.7"/><line x1="483.1" y1="253.1" x2="563.1" y2="175.0" stroke="#c4c4c4" stroke-width="0.7"/><line x1="577.1" y1="179.0" x2="581.5" y2="69.8" stroke="#c4c4c4" stroke-width="0.7"/><line x1="498.0" y1="258.0" x2="577.1" y2="179.0" stroke="#c4c4c4" stroke-width="0.7"/><line x1="447.2" y1="125.6" x2="587.7" y2="165.3" stroke="#c4c4c4" stroke-width="0.7"/><line x1="360.8" y1="195.7" x2="447.2" y2="125.6" stroke="#c4c4c4" stroke-width="0.7"/><line x1="447.1" y1="112.3" x2="588.3" y2="151.4" stroke="#c4c4c4" stroke-width="0.7"/><line x1="360.2" y1="181.6" x2="447.1" y2="112.3" stroke="#c4c4c4" stroke-width="0.7"/><line x1="447.0" y1="98.9" x2="588.9" y2="137.4" stroke="#c4c4c4" stroke-width="0.7"/><line x1="359.6" y1="167.3" x2="447.0" y2="98.9" stroke="#c4c4c4" stroke-width="0.7"/><line x1="446.9" y1="85.4" x2="589.5" y2="123.3" stroke="#c4c4c4" stroke-width="0.7"/><line x1="359.0" y1="152.9" x2="446.9" y2="85.4" stroke="#c4c4c4" stroke-width="0.7"/><line x1="446.8" y1="71.8" x2="590.1" y2="109.0" stroke="#c4c4c4" stroke-width="0.7"/><line x1="358.4" y1="138.3" x2="446.8" y2="71.8" stroke="#c4c4c4" stroke-width="0.7"/><line x1="446.6" y1="58.0" x2="590.8" y2="94.5" stroke="#c4c4c4" stroke-width="0.7"/><line x1="357.7" y1="123.5" x2="446.6" y2="58.0" stroke="#c4c4c4" stroke-width="0.7"/><line x1="446.5" y1="44.0" x2="591.4" y2="79.9" stroke="#c4c4c4" stroke-width="0.7"/><line x1="357.1" y1="108.6" x2="446.5" y2="44.0" stroke="#c4c4c4" stroke-width="0.7"/><line x1="366.1" y1="208.7" x2="361.7" y2="97.4" stroke="#c4c4c4" stroke-width="0.7"/><line x1="366.1" y1="208.7" x2="513.3" y2="257.4" stroke="#c4c4c4" stroke-width="0.7"/><line x1="443.4" y1="144.7" x2="442.3" y2="39.8" stroke="#c4c4c4" stroke-width="0.7"/><line x1="443.4" y1="144.7" x2="583.4" y2="185.5" stroke="#c4c4c4" stroke-width="0.7"/></g>
<line x1="361.5" y1="212.5" x2="509.1" y2="261.7" stroke="#4a4a4a" stroke-width="0.9"/>
<line x1="509.1" y1="261.7" x2="586.9" y2="181.9" stroke="#4a4a4a" stroke-width="0.9"/>
<line x1="586.9" y1="181.9" x2="591.7" y2="72.3" stroke="#4a4a4a" stroke-width="0.9"/>
<line x1="370.2" y1="215.5" x2="366.9" y2="218.2" stroke="#4a4a4a" stroke-width="0.9"/>
<line x1="383.7" y1="220.0" x2="380.5" y2="222.7" stroke="#4a4a4a" stroke-width="0.9"/>
<line x1="397.4" y1="224.5" x2="394.2" y2="227.3" stroke="#4a4a4a" stroke-width="0.9"/>
<line x1="411.2" y1="229.1" x2="408.0" y2="232.0" stroke="#4a4a4a" stroke-width="0.9"/>
<line x1="425.2" y1="233.8" x2="422.1" y2="236.7" stroke="#4a4a4a" stroke-width="0.9"/>
<line x1="439.4" y1="238.5" x2="436.3" y2="241.4" stroke="#4a4a4a" stroke-width="0.9"/>
<line x1="453.8" y1="243.3" x2="450.7" y2="246.3" stroke="#4a4a4a" stroke-width="0.9"/>
<line x1="468.3" y1="248.2" x2="465.3" y2="251.1" stroke="#4a4a4a" stroke-width="0.9"/>
<line x1="483.1" y1="253.1" x2="480.0" y2="256.1" stroke="#4a4a4a" stroke-width="0.9"/>
<line x1="498.0" y1="258.0" x2="495.0" y2="261.1" stroke="#4a4a4a" stroke-width="0.9"/>
<line x1="586.7" y1="165.3" x2="591.2" y2="165.3" stroke="#4a4a4a" stroke-width="0.9"/>
<line x1="587.3" y1="151.4" x2="591.8" y2="151.4" stroke="#4a4a4a" stroke-width="0.9"/>
<line x1="587.9" y1="137.4" x2="592.4" y2="137.4" stroke="#4a4a4a" stroke-width="0.9"/>
<line x1="588.5" y1="123.3" x2="593.0" y2="123.3" stroke="#4a4a4a" stroke-width="0.9"/>
<line x1="589.1" y1="109.0" x2="593.6" y2="109.0" stroke="#4a4a4a" stroke-width="0.9"/>
<line x1="589.8" y1="94.5" x2="594.3" y2="94.5" stroke="#4a4a4a" stroke-width="0.9"/>
<line x1="590.4" y1="79.9" x2="594.9" y2="79.9" stroke="#4a4a4a" stroke-width="0.9"/>
<line x1="513.3" y1="257.4" x2="518.1" y2="258.9" stroke="#4a4a4a" stroke-width="0.9"/>
<line x1="583.4" y1="185.5" x2="587.8" y2="186.8" stroke="#4a4a4a" stroke-width="0.9"/>
<path d="M373.5,118.8 C375.2,119.2 379.3,119.7 383.9,120.9 C388.5,122.1 395.3,124.0 401.3,126.0 C407.3,128.0 414.4,131.1 420.0,133.1 C425.6,135.1 429.7,136.2 434.6,138.2 C439.5,140.1 444.3,142.6 449.2,144.8 C454.1,147.0 458.9,149.3 463.8,151.4 C468.7,153.5 473.5,155.6 478.4,157.2 C483.3,158.8 488.6,160.3 493.0,161.2 C497.4,162.0 502.8,162.1 504.7,162.3 L504.7,224.8 L504.7,224.8 C502.8,224.5 497.4,224.0 493.0,222.9 C488.6,221.8 483.3,220.2 478.4,218.5 C473.5,216.8 468.7,214.8 463.8,212.7 C458.9,210.6 454.1,208.3 449.2,206.1 C444.3,203.9 439.5,201.7 434.6,199.6 C429.7,197.5 425.6,196.1 420.0,193.7 C414.4,191.3 407.3,187.6 401.3,185.3 C395.3,183.0 388.5,181.0 383.9,180.1 C379.3,179.2 375.2,179.8 373.5,179.7 Z" fill="rgb(0,128,0)" fill-opacity="0.3"/>
<path d="M373.5,118.8 C375.2,119.2 379.3,119.7 383.9,120.9 C388.5,122.1 395.3,124.0 401.3,126.0 C407.3,128.0 414.4,131.1 420.0,133.1 C425.6,135.1 429.7,136.2 434.6,138.2 C439.5,140.1 444.3,142.6 449.2,144.8 C454.1,147.0 458.9,149.3 463.8,151.4 C468.7,153.5 473.5,155.6 478.4,157.2 C483.3,158.8 488.6,160.3 493.0,161.2 C497.4,162.0 502.8,162.1 504.7,162.3" fill="none" stroke="#158a15" stroke-width="1.5"/>
<path d="M373.5,179.7 C375.2,179.8 379.3,179.2 383.9,180.1 C388.5,181.0 395.3,183.0 401.3,185.3 C407.3,187.6 414.4,191.3 420.0,193.7 C425.6,196.1 429.7,197.5 434.6,199.6 C439.5,201.7 444.3,203.9 449.2,206.1 C454.1,208.3 458.9,210.6 463.8,212.7 C468.7,214.8 473.5,216.8 478.4,218.5 C483.3,220.2 488.6,221.8 493.0,222.9 C497.4,224.0 502.8,224.5 504.7,224.8" fill="none" stroke="#158a15" stroke-width="1.5"/>
<g><line x1="450.8" y1="67.0" x2="450.8" y2="116.0" stroke="rgba(255,0,0,0.82)" stroke-width="3.5" stroke-linecap="round"/><circle cx="451.1" cy="114.3" r="1.95" fill="rgba(255,0,0,0.82)"/><circle cx="450.5" cy="69.3" r="1.95" fill="rgba(255,0,0,0.82)"/><circle cx="451.0" cy="108.3" r="1.95" fill="rgba(255,0,0,0.82)"/><circle cx="450.7" cy="100.0" r="1.95" fill="rgba(255,0,0,0.82)"/><circle cx="450.9" cy="96.8" r="1.95" fill="rgba(255,0,0,0.82)"/><circle cx="450.6" cy="95.5" r="1.95" fill="rgba(255,0,0,0.82)"/><circle cx="450.7" cy="88.0" r="1.95" fill="rgba(255,0,0,0.82)"/><circle cx="450.8" cy="127.7" r="1.8" fill="rgba(255,0,0,0.50)"/><circle cx="450.8" cy="123.4" r="1.8" fill="rgba(255,0,0,0.50)"/><circle cx="450.8" cy="64.0" r="1.8" fill="rgba(255,0,0,0.50)"/><circle cx="450.8" cy="66.1" r="1.8" fill="rgba(255,0,0,0.50)"/><circle cx="450.8" cy="63.6" r="1.8" fill="rgba(255,0,0,0.50)"/><circle cx="450.8" cy="59.9" r="1.8" fill="rgba(255,0,0,0.50)"/><circle cx="450.8" cy="123.6" r="1.8" fill="rgba(255,0,0,0.50)"/><circle cx="450.8" cy="66.1" r="1.8" fill="rgba(255,0,0,0.50)"/><circle cx="450.8" cy="59.3" r="1.8" fill="rgba(255,0,0,0.50)"/><circle cx="450.8" cy="127.8" r="1.8" fill="rgba(255,0,0,0.50)"/><line x1="457.1" y1="66.9" x2="457.1" y2="115.9" stroke="rgba(255,0,0,0.83)" stroke-width="3.5" stroke-linecap="round"/><circle cx="456.8" cy="82.7" r="1.95" fill="rgba(255,0,0,0.83)"/><circle cx="457.4" cy="91.9" r="1.95" fill="rgba(255,0,0,0.83)"/><circle cx="456.9" cy="100.1" r="1.95" fill="rgba(255,0,0,0.83)"/><circle cx="457.3" cy="111.1" r="1.95" fill="rgba(255,0,0,0.83)"/><circle cx="457.4" cy="103.1" r="1.95" fill="rgba(255,0,0,0.83)"/><circle cx="457.3" cy="104.5" r="1.95" fill="rgba(255,0,0,0.83)"/><circle cx="457.4" cy="84.1" r="1.95" fill="rgba(255,0,0,0.83)"/><circle cx="457.1" cy="119.0" r="1.8" fill="rgba(255,0,0,0.52)"/><circle cx="457.1" cy="125.0" r="1.8" fill="rgba(255,0,0,0.52)"/><circle cx="457.1" cy="62.4" r="1.8" fill="rgba(255,0,0,0.52)"/><circle cx="457.1" cy="60.1" r="1.8" fill="rgba(255,0,0,0.52)"/><circle cx="457.1" cy="126.1" r="1.8" fill="rgba(255,0,0,0.52)"/><circle cx="457.1" cy="60.3" r="1.8" fill="rgba(255,0,0,0.52)"/><circle cx="457.1" cy="122.5" r="1.8" fill="rgba(255,0,0,0.52)"/><circle cx="457.1" cy="127.0" r="1.8" fill="rgba(255,0,0,0.52)"/><circle cx="457.1" cy="59.7" r="1.8" fill="rgba(255,0,0,0.52)"/><circle cx="457.1" cy="127.7" r="1.8" fill="rgba(255,0,0,0.52)"/><line x1="463.4" y1="63.7" x2="463.4" y2="116.8" stroke="rgba(255,0,0,0.84)" stroke-width="3.5" stroke-linecap="round"/><circle cx="463.4" cy="102.4" r="1.95" fill="rgba(255,0,0,0.84)"/><circle cx="463.3" cy="75.2" r="1.95" fill="rgba(255,0,0,0.84)"/><circle cx="463.2" cy="101.1" r="1.95" fill="rgba(255,0,0,0.84)"/><circle cx="463.2" cy="112.3" r="1.95" fill="rgba(255,0,0,0.84)"/><circle cx="463.3" cy="112.5" r="1.95" fill="rgba(255,0,0,0.84)"/><circle cx="463.5" cy="115.0" r="1.95" fill="rgba(255,0,0,0.84)"/><circle cx="463.4" cy="90.5" r="1.95" fill="rgba(255,0,0,0.84)"/><circle cx="463.4" cy="124.7" r="1.8" fill="rgba(255,0,0,0.55)"/><circle cx="463.4" cy="62.3" r="1.8" fill="rgba(255,0,0,0.55)"/><circle cx="463.4" cy="128.0" r="1.8" fill="rgba(255,0,0,0.55)"/><circle cx="463.4" cy="118.7" r="1.8" fill="rgba(255,0,0,0.55)"/><circle cx="463.4" cy="126.1" r="1.8" fill="rgba(255,0,0,0.55)"/><circle cx="463.4" cy="120.3" r="1.8" fill="rgba(255,0,0,0.55)"/><circle cx="463.4" cy="118.5" r="1.8" fill="rgba(255,0,0,0.55)"/><circle cx="463.4" cy="121.3" r="1.8" fill="rgba(255,0,0,0.55)"/><circle cx="463.4" cy="60.1" r="1.8" fill="rgba(255,0,0,0.55)"/><circle cx="463.4" cy="128.6" r="1.8" fill="rgba(255,0,0,0.55)"/><line x1="469.5" y1="63.6" x2="469.5" y2="117.8" stroke="rgba(255,0,0,0.85)" stroke-width="3.5" stroke-linecap="round"/><circle cx="469.8" cy="75.6" r="1.95" fill="rgba(255,0,0,0.85)"/><circle cx="469.5" cy="68.9" r="1.95" fill="rgba(255,0,0,0.85)"/><circle cx="469.3" cy="110.2" r="1.95" fill="rgba(255,0,0,0.85)"/><circle cx="469.8" cy="74.7" r="1.95" fill="rgba(255,0,0,0.85)"/><circle cx="469.7" cy="86.4" r="1.95" fill="rgba(255,0,0,0.85)"/><circle cx="469.4" cy="64.8" r="1.95" fill="rgba(255,0,0,0.85)"/><circle cx="469.6" cy="72.6" r="1.95" fill="rgba(255,0,0,0.85)"/><circle cx="469.5" cy="60.6" r="1.8" fill="rgba(255,0,0,0.57)"/><circle cx="469.5" cy="61.1" r="1.8" fill="rgba(255,0,0,0.57)"/><circle cx="469.5" cy="62.2" r="1.8" fill="rgba(255,0,0,0.57)"/><circle cx="469.5" cy="121.5" r="1.8" fill="rgba(255,0,0,0.57)"/><circle cx="469.5" cy="61.1" r="1.8" fill="rgba(255,0,0,0.57)"/><circle cx="469.5" cy="62.9" r="1.8" fill="rgba(255,0,0,0.57)"/><circle cx="469.5" cy="121.4" r="1.8" fill="rgba(255,0,0,0.57)"/><circle cx="469.5" cy="62.0" r="1.8" fill="rgba(255,0,0,0.57)"/><circle cx="469.5" cy="60.5" r="1.8" fill="rgba(255,0,0,0.57)"/><circle cx="469.5" cy="132.6" r="1.8" fill="rgba(255,0,0,0.57)"/><line x1="476.2" y1="65.6" x2="476.2" y2="118.8" stroke="rgba(255,0,0,0.86)" stroke-width="3.5" stroke-linecap="round"/><circle cx="476.4" cy="98.4" r="1.95" fill="rgba(255,0,0,0.86)"/><circle cx="476.1" cy="71.2" r="1.95" fill="rgba(255,0,0,0.86)"/><circle cx="476.2" cy="66.8" r="1.95" fill="rgba(255,0,0,0.86)"/><circle cx="476.4" cy="106.6" r="1.95" fill="rgba(255,0,0,0.86)"/><circle cx="476.4" cy="114.0" r="1.95" fill="rgba(255,0,0,0.86)"/><circle cx="476.3" cy="111.8" r="1.95" fill="rgba(255,0,0,0.86)"/><circle cx="476.0" cy="90.7" r="1.95" fill="rgba(255,0,0,0.86)"/><circle cx="476.2" cy="127.4" r="1.8" fill="rgba(255,0,0,0.59)"/><circle cx="476.2" cy="63.5" r="1.8" fill="rgba(255,0,0,0.59)"/><circle cx="476.2" cy="123.2" r="1.8" fill="rgba(255,0,0,0.59)"/><circle cx="476.2" cy="129.0" r="1.8" fill="rgba(255,0,0,0.59)"/><circle cx="476.2" cy="123.6" r="1.8" fill="rgba(255,0,0,0.59)"/><circle cx="476.2" cy="126.2" r="1.8" fill="rgba(255,0,0,0.59)"/><circle cx="476.2" cy="129.5" r="1.8" fill="rgba(255,0,0,0.59)"/><circle cx="476.2" cy="63.2" r="1.8" fill="rgba(255,0,0,0.59)"/><circle cx="476.2" cy="62.1" r="1.8" fill="rgba(255,0,0,0.59)"/><circle cx="476.2" cy="139.7" r="1.8" fill="rgba(255,0,0,0.59)"/><line x1="482.5" y1="64.0" x2="482.5" y2="121.8" stroke="rgba(255,0,0,0.87)" stroke-width="3.5" stroke-linecap="round"/><circle cx="482.2" cy="71.8" r="1.95" fill="rgba(255,0,0,0.87)"/><circle cx="482.3" cy="65.5" r="1.95" fill="rgba(255,0,0,0.87)"/><circle cx="482.6" cy="69.2" r="1.95" fill="rgba(255,0,0,0.87)"/><circle cx="482.8" cy="93.4" r="1.95" fill="rgba(255,0,0,0.87)"/><circle cx="482.8" cy="118.4" r="1.95" fill="rgba(255,0,0,0.87)"/><circle cx="482.5" cy="77.2" r="1.95" fill="rgba(255,0,0,0.87)"/><circle cx="482.6" cy="78.3" r="1.95" fill="rgba(255,0,0,0.87)"/><circle cx="482.7" cy="100.2" r="1.95" fill="rgba(255,0,0,0.87)"/><circle cx="482.5" cy="128.1" r="1.8" fill="rgba(255,0,0,0.62)"/><circle cx="482.5" cy="63.5" r="1.8" fill="rgba(255,0,0,0.62)"/><circle cx="482.5" cy="63.5" r="1.8" fill="rgba(255,0,0,0.62)"/><circle cx="482.5" cy="63.5" r="1.8" fill="rgba(255,0,0,0.62)"/><circle cx="482.5" cy="127.9" r="1.8" fill="rgba(255,0,0,0.62)"/><circle cx="482.5" cy="63.5" r="1.8" fill="rgba(255,0,0,0.62)"/><circle cx="482.5" cy="63.5" r="1.8" fill="rgba(255,0,0,0.62)"/><circle cx="482.5" cy="131.7" r="1.8" fill="rgba(255,0,0,0.62)"/><circle cx="482.5" cy="139.6" r="1.8" fill="rgba(255,0,0,0.62)"/><line x1="488.9" y1="65.5" x2="488.9" y2="125.8" stroke="rgba(255,0,0,0.88)" stroke-width="3.5" stroke-linecap="round"/><circle cx="489.0" cy="83.9" r="1.95" fill="rgba(255,0,0,0.88)"/><circle cx="489.2" cy="78.0" r="1.95" fill="rgba(255,0,0,0.88)"/><circle cx="489.1" cy="124.0" r="1.95" fill="rgba(255,0,0,0.88)"/><circle cx="488.9" cy="91.6" r="1.95" fill="rgba(255,0,0,0.88)"/><circle cx="488.6" cy="100.6" r="1.95" fill="rgba(255,0,0,0.88)"/><circle cx="488.9" cy="90.6" r="1.95" fill="rgba(255,0,0,0.88)"/><circle cx="488.6" cy="76.1" r="1.95" fill="rgba(255,0,0,0.88)"/><circle cx="488.8" cy="114.2" r="1.95" fill="rgba(255,0,0,0.88)"/><circle cx="488.9" cy="138.7" r="1.8" fill="rgba(255,0,0,0.64)"/><circle cx="488.9" cy="131.2" r="1.8" fill="rgba(255,0,0,0.64)"/><circle cx="488.9" cy="132.3" r="1.8" fill="rgba(255,0,0,0.64)"/><circle cx="488.9" cy="65.0" r="1.8" fill="rgba(255,0,0,0.64)"/><circle cx="488.9" cy="65.0" r="1.8" fill="rgba(255,0,0,0.64)"/><circle cx="488.9" cy="135.9" r="1.8" fill="rgba(255,0,0,0.64)"/><circle cx="488.9" cy="65.0" r="1.8" fill="rgba(255,0,0,0.64)"/><circle cx="488.9" cy="65.0" r="1.8" fill="rgba(255,0,0,0.64)"/><circle cx="488.9" cy="139.6" r="1.8" fill="rgba(255,0,0,0.64)"/><line x1="495.3" y1="67.5" x2="495.3" y2="126.8" stroke="rgba(255,0,0,0.89)" stroke-width="3.5" stroke-linecap="round"/><circle cx="495.4" cy="79.6" r="1.95" fill="rgba(255,0,0,0.89)"/><circle cx="495.1" cy="71.5" r="1.95" fill="rgba(255,0,0,0.89)"/><circle cx="495.6" cy="89.5" r="1.95" fill="rgba(255,0,0,0.89)"/><circle cx="495.5" cy="71.6" r="1.95" fill="rgba(255,0,0,0.89)"/><circle cx="495.4" cy="78.6" r="1.95" fill="rgba(255,0,0,0.89)"/><circle cx="495.3" cy="90.6" r="1.95" fill="rgba(255,0,0,0.89)"/><circle cx="495.2" cy="112.4" r="1.95" fill="rgba(255,0,0,0.89)"/><circle cx="495.0" cy="74.3" r="1.95" fill="rgba(255,0,0,0.89)"/><circle cx="495.3" cy="67.0" r="1.8" fill="rgba(255,0,0,0.67)"/><circle cx="495.3" cy="144.0" r="1.8" fill="rgba(255,0,0,0.67)"/><circle cx="495.3" cy="128.2" r="1.8" fill="rgba(255,0,0,0.67)"/><circle cx="495.3" cy="141.4" r="1.8" fill="rgba(255,0,0,0.67)"/><circle cx="495.3" cy="137.2" r="1.8" fill="rgba(255,0,0,0.67)"/><circle cx="495.3" cy="67.0" r="1.8" fill="rgba(255,0,0,0.67)"/><circle cx="495.3" cy="133.4" r="1.8" fill="rgba(255,0,0,0.67)"/><circle cx="495.3" cy="136.9" r="1.8" fill="rgba(255,0,0,0.67)"/><circle cx="495.3" cy="144.6" r="1.8" fill="rgba(255,0,0,0.67)"/><line x1="501.9" y1="69.5" x2="501.9" y2="129.8" stroke="rgba(255,0,0,0.90)" stroke-width="3.5" stroke-linecap="round"/><circle cx="502.1" cy="127.5" r="1.95" fill="rgba(255,0,0,0.90)"/><circle cx="502.1" cy="126.1" r="1.95" fill="rgba(255,0,0,0.90)"/><circle cx="501.7" cy="87.2" r="1.95" fill="rgba(255,0,0,0.90)"/><circle cx="501.7" cy="99.0" r="1.95" fill="rgba(255,0,0,0.90)"/><circle cx="502.0" cy="95.2" r="1.95" fill="rgba(255,0,0,0.90)"/><circle cx="502.0" cy="125.3" r="1.95" fill="rgba(255,0,0,0.90)"/><circle cx="501.6" cy="119.1" r="1.95" fill="rgba(255,0,0,0.90)"/><circle cx="502.2" cy="90.8" r="1.95" fill="rgba(255,0,0,0.90)"/><circle cx="501.9" cy="69.0" r="1.8" fill="rgba(255,0,0,0.69)"/><circle cx="501.9" cy="69.0" r="1.8" fill="rgba(255,0,0,0.69)"/><circle cx="501.9" cy="146.1" r="1.8" fill="rgba(255,0,0,0.69)"/><circle cx="501.9" cy="133.4" r="1.8" fill="rgba(255,0,0,0.69)"/><circle cx="501.9" cy="69.0" r="1.8" fill="rgba(255,0,0,0.69)"/><circle cx="501.9" cy="142.0" r="1.8" fill="rgba(255,0,0,0.69)"/><circle cx="501.9" cy="69.0" r="1.8" fill="rgba(255,0,0,0.69)"/><circle cx="501.9" cy="69.0" r="1.8" fill="rgba(255,0,0,0.69)"/><circle cx="501.9" cy="146.2" r="1.8" fill="rgba(255,0,0,0.69)"/><line x1="508.6" y1="71.6" x2="508.6" y2="129.8" stroke="rgba(255,0,0,0.91)" stroke-width="3.5" stroke-linecap="round"/><circle cx="508.8" cy="127.4" r="1.95" fill="rgba(255,0,0,0.91)"/><circle cx="508.6" cy="76.8" r="1.95" fill="rgba(255,0,0,0.91)"/><circle cx="508.4" cy="113.5" r="1.95" fill="rgba(255,0,0,0.91)"/><circle cx="508.6" cy="124.1" r="1.95" fill="rgba(255,0,0,0.91)"/><circle cx="508.5" cy="112.8" r="1.95" fill="rgba(255,0,0,0.91)"/><circle cx="508.8" cy="130.0" r="1.95" fill="rgba(255,0,0,0.91)"/><circle cx="508.4" cy="105.1" r="1.95" fill="rgba(255,0,0,0.91)"/><circle cx="508.3" cy="97.2" r="1.95" fill="rgba(255,0,0,0.91)"/><circle cx="508.6" cy="145.2" r="1.8" fill="rgba(255,0,0,0.71)"/><circle cx="508.6" cy="71.1" r="1.8" fill="rgba(255,0,0,0.71)"/><circle cx="508.6" cy="71.1" r="1.8" fill="rgba(255,0,0,0.71)"/><circle cx="508.6" cy="145.9" r="1.8" fill="rgba(255,0,0,0.71)"/><circle cx="508.6" cy="139.3" r="1.8" fill="rgba(255,0,0,0.71)"/><circle cx="508.6" cy="137.1" r="1.8" fill="rgba(255,0,0,0.71)"/><circle cx="508.6" cy="142.1" r="1.8" fill="rgba(255,0,0,0.71)"/><circle cx="508.6" cy="144.8" r="1.8" fill="rgba(255,0,0,0.71)"/><circle cx="508.6" cy="146.7" r="1.8" fill="rgba(255,0,0,0.71)"/><line x1="514.9" y1="75.3" x2="514.9" y2="131.3" stroke="rgba(255,0,0,0.91)" stroke-width="3.5" stroke-linecap="round"/><circle cx="515.0" cy="87.7" r="1.95" fill="rgba(255,0,0,0.91)"/><circle cx="515.0" cy="97.8" r="1.95" fill="rgba(255,0,0,0.91)"/><circle cx="515.0" cy="130.6" r="1.95" fill="rgba(255,0,0,0.91)"/><circle cx="514.9" cy="75.5" r="1.95" fill="rgba(255,0,0,0.91)"/><circle cx="515.2" cy="115.4" r="1.95" fill="rgba(255,0,0,0.91)"/><circle cx="515.1" cy="111.9" r="1.95" fill="rgba(255,0,0,0.91)"/><circle cx="515.2" cy="75.8" r="1.95" fill="rgba(255,0,0,0.91)"/><circle cx="515.0" cy="116.4" r="1.95" fill="rgba(255,0,0,0.91)"/><circle cx="514.9" cy="151.7" r="1.8" fill="rgba(255,0,0,0.74)"/><circle cx="514.9" cy="74.8" r="1.8" fill="rgba(255,0,0,0.74)"/><circle cx="514.9" cy="137.9" r="1.8" fill="rgba(255,0,0,0.74)"/><circle cx="514.9" cy="146.1" r="1.8" fill="rgba(255,0,0,0.74)"/><circle cx="514.9" cy="74.8" r="1.8" fill="rgba(255,0,0,0.74)"/><circle cx="514.9" cy="74.8" r="1.8" fill="rgba(255,0,0,0.74)"/><circle cx="514.9" cy="74.8" r="1.8" fill="rgba(255,0,0,0.74)"/><circle cx="514.9" cy="143.8" r="1.8" fill="rgba(255,0,0,0.74)"/><circle cx="514.9" cy="153.7" r="1.8" fill="rgba(255,0,0,0.74)"/><line x1="521.8" y1="77.6" x2="521.8" y2="135.7" stroke="rgba(255,0,0,0.92)" stroke-width="3.5" stroke-linecap="round"/><circle cx="522.1" cy="89.2" r="1.95" fill="rgba(255,0,0,0.92)"/><circle cx="521.5" cy="81.4" r="1.95" fill="rgba(255,0,0,0.92)"/><circle cx="522.0" cy="105.8" r="1.95" fill="rgba(255,0,0,0.92)"/><circle cx="522.0" cy="116.0" r="1.95" fill="rgba(255,0,0,0.92)"/><circle cx="521.9" cy="105.8" r="1.95" fill="rgba(255,0,0,0.92)"/><circle cx="521.6" cy="96.9" r="1.95" fill="rgba(255,0,0,0.92)"/><circle cx="521.5" cy="106.8" r="1.95" fill="rgba(255,0,0,0.92)"/><circle cx="522.0" cy="81.8" r="1.95" fill="rgba(255,0,0,0.92)"/><circle cx="521.8" cy="77.1" r="1.8" fill="rgba(255,0,0,0.76)"/><circle cx="521.8" cy="147.7" r="1.8" fill="rgba(255,0,0,0.76)"/><circle cx="521.8" cy="155.7" r="1.8" fill="rgba(255,0,0,0.76)"/><circle cx="521.8" cy="141.0" r="1.8" fill="rgba(255,0,0,0.76)"/><circle cx="521.8" cy="77.1" r="1.8" fill="rgba(255,0,0,0.76)"/><circle cx="521.8" cy="77.1" r="1.8" fill="rgba(255,0,0,0.76)"/><circle cx="521.8" cy="77.1" r="1.8" fill="rgba(255,0,0,0.76)"/><circle cx="521.8" cy="146.8" r="1.8" fill="rgba(255,0,0,0.76)"/><circle cx="521.8" cy="159.8" r="1.8" fill="rgba(255,0,0,0.76)"/><line x1="528.4" y1="80.9" x2="528.4" y2="139.0" stroke="rgba(255,0,0,0.93)" stroke-width="3.5" stroke-linecap="round"/><circle cx="528.3" cy="112.2" r="1.95" fill="rgba(255,0,0,0.93)"/><circle cx="528.7" cy="106.6" r="1.95" fill="rgba(255,0,0,0.93)"/><circle cx="528.5" cy="98.7" r="1.95" fill="rgba(255,0,0,0.93)"/><circle cx="528.4" cy="109.0" r="1.95" fill="rgba(255,0,0,0.93)"/><circle cx="528.1" cy="134.5" r="1.95" fill="rgba(255,0,0,0.93)"/><circle cx="528.3" cy="129.1" r="1.95" fill="rgba(255,0,0,0.93)"/><circle cx="528.6" cy="118.6" r="1.95" fill="rgba(255,0,0,0.93)"/><circle cx="528.3" cy="119.0" r="1.95" fill="rgba(255,0,0,0.93)"/><circle cx="528.4" cy="143.1" r="1.8" fill="rgba(255,0,0,0.78)"/><circle cx="528.4" cy="150.7" r="1.8" fill="rgba(255,0,0,0.78)"/><circle cx="528.4" cy="160.3" r="1.8" fill="rgba(255,0,0,0.78)"/><circle cx="528.4" cy="155.8" r="1.8" fill="rgba(255,0,0,0.78)"/><circle cx="528.4" cy="80.4" r="1.8" fill="rgba(255,0,0,0.78)"/><circle cx="528.4" cy="80.4" r="1.8" fill="rgba(255,0,0,0.78)"/><circle cx="528.4" cy="80.4" r="1.8" fill="rgba(255,0,0,0.78)"/><circle cx="528.4" cy="80.4" r="1.8" fill="rgba(255,0,0,0.78)"/><circle cx="528.4" cy="163.1" r="1.8" fill="rgba(255,0,0,0.78)"/><line x1="535.2" y1="83.2" x2="535.2" y2="144.6" stroke="rgba(255,0,0,0.94)" stroke-width="3.5" stroke-linecap="round"/><circle cx="535.1" cy="106.3" r="1.95" fill="rgba(255,0,0,0.94)"/><circle cx="534.9" cy="102.5" r="1.95" fill="rgba(255,0,0,0.94)"/><circle cx="535.0" cy="111.2" r="1.95" fill="rgba(255,0,0,0.94)"/><circle cx="535.1" cy="110.3" r="1.95" fill="rgba(255,0,0,0.94)"/><circle cx="535.5" cy="138.5" r="1.95" fill="rgba(255,0,0,0.94)"/><circle cx="535.3" cy="110.3" r="1.95" fill="rgba(255,0,0,0.94)"/><circle cx="535.1" cy="140.7" r="1.95" fill="rgba(255,0,0,0.94)"/><circle cx="535.0" cy="88.9" r="1.95" fill="rgba(255,0,0,0.94)"/><circle cx="535.2" cy="82.7" r="1.8" fill="rgba(255,0,0,0.81)"/><circle cx="535.2" cy="82.7" r="1.8" fill="rgba(255,0,0,0.81)"/><circle cx="535.2" cy="151.2" r="1.8" fill="rgba(255,0,0,0.81)"/><circle cx="535.2" cy="158.7" r="1.8" fill="rgba(255,0,0,0.81)"/><circle cx="535.2" cy="82.7" r="1.8" fill="rgba(255,0,0,0.81)"/><circle cx="535.2" cy="82.7" r="1.8" fill="rgba(255,0,0,0.81)"/><circle cx="535.2" cy="156.4" r="1.8" fill="rgba(255,0,0,0.81)"/><circle cx="535.2" cy="164.0" r="1.8" fill="rgba(255,0,0,0.81)"/><circle cx="535.2" cy="164.8" r="1.8" fill="rgba(255,0,0,0.81)"/><line x1="541.8" y1="84.8" x2="541.8" y2="149.0" stroke="rgba(255,0,0,0.95)" stroke-width="3.5" stroke-linecap="round"/><circle cx="542.0" cy="132.7" r="1.95" fill="rgba(255,0,0,0.95)"/><circle cx="542.1" cy="141.0" r="1.95" fill="rgba(255,0,0,0.95)"/><circle cx="542.1" cy="133.4" r="1.95" fill="rgba(255,0,0,0.95)"/><circle cx="541.9" cy="103.3" r="1.95" fill="rgba(255,0,0,0.95)"/><circle cx="541.7" cy="128.0" r="1.95" fill="rgba(255,0,0,0.95)"/><circle cx="541.6" cy="110.0" r="1.95" fill="rgba(255,0,0,0.95)"/><circle cx="541.7" cy="146.7" r="1.95" fill="rgba(255,0,0,0.95)"/><circle cx="542.1" cy="115.4" r="1.95" fill="rgba(255,0,0,0.95)"/><circle cx="542.1" cy="96.4" r="1.95" fill="rgba(255,0,0,0.95)"/><circle cx="541.8" cy="84.3" r="1.8" fill="rgba(255,0,0,0.83)"/><circle cx="541.8" cy="84.3" r="1.8" fill="rgba(255,0,0,0.83)"/><circle cx="541.8" cy="163.9" r="1.8" fill="rgba(255,0,0,0.83)"/><circle cx="541.8" cy="157.7" r="1.8" fill="rgba(255,0,0,0.83)"/><circle cx="541.8" cy="154.5" r="1.8" fill="rgba(255,0,0,0.83)"/><circle cx="541.8" cy="157.0" r="1.8" fill="rgba(255,0,0,0.83)"/><circle cx="541.8" cy="84.3" r="1.8" fill="rgba(255,0,0,0.83)"/><circle cx="541.8" cy="84.3" r="1.8" fill="rgba(255,0,0,0.83)"/><circle cx="541.8" cy="165.4" r="1.8" fill="rgba(255,0,0,0.83)"/><line x1="548.3" y1="87.6" x2="548.3" y2="155.6" stroke="rgba(255,0,0,0.96)" stroke-width="3.5" stroke-linecap="round"/><circle cx="548.0" cy="151.0" r="1.95" fill="rgba(255,0,0,0.96)"/><circle cx="548.1" cy="96.9" r="1.95" fill="rgba(255,0,0,0.96)"/><circle cx="548.2" cy="104.4" r="1.95" fill="rgba(255,0,0,0.96)"/><circle cx="548.2" cy="104.3" r="1.95" fill="rgba(255,0,0,0.96)"/><circle cx="548.1" cy="104.1" r="1.95" fill="rgba(255,0,0,0.96)"/><circle cx="548.2" cy="129.2" r="1.95" fill="rgba(255,0,0,0.96)"/><circle cx="548.5" cy="112.8" r="1.95" fill="rgba(255,0,0,0.96)"/><circle cx="548.1" cy="91.3" r="1.95" fill="rgba(255,0,0,0.96)"/><circle cx="548.3" cy="145.8" r="1.95" fill="rgba(255,0,0,0.96)"/><circle cx="548.3" cy="157.9" r="1.8" fill="rgba(255,0,0,0.86)"/><circle cx="548.3" cy="164.2" r="1.8" fill="rgba(255,0,0,0.86)"/><circle cx="548.3" cy="87.1" r="1.8" fill="rgba(255,0,0,0.86)"/><circle cx="548.3" cy="160.5" r="1.8" fill="rgba(255,0,0,0.86)"/><circle cx="548.3" cy="160.4" r="1.8" fill="rgba(255,0,0,0.86)"/><circle cx="548.3" cy="87.1" r="1.8" fill="rgba(255,0,0,0.86)"/><circle cx="548.3" cy="87.1" r="1.8" fill="rgba(255,0,0,0.86)"/><circle cx="548.3" cy="162.1" r="1.8" fill="rgba(255,0,0,0.86)"/><circle cx="548.3" cy="165.4" r="1.8" fill="rgba(255,0,0,0.86)"/><line x1="555.1" y1="89.8" x2="555.1" y2="157.7" stroke="rgba(255,0,0,0.97)" stroke-width="3.5" stroke-linecap="round"/><circle cx="555.4" cy="126.4" r="1.95" fill="rgba(255,0,0,0.97)"/><circle cx="555.3" cy="157.4" r="1.95" fill="rgba(255,0,0,0.97)"/><circle cx="555.0" cy="120.6" r="1.95" fill="rgba(255,0,0,0.97)"/><circle cx="554.8" cy="125.5" r="1.95" fill="rgba(255,0,0,0.97)"/><circle cx="555.4" cy="96.8" r="1.95" fill="rgba(255,0,0,0.97)"/><circle cx="555.4" cy="98.1" r="1.95" fill="rgba(255,0,0,0.97)"/><circle cx="555.4" cy="136.1" r="1.95" fill="rgba(255,0,0,0.97)"/><circle cx="555.0" cy="94.6" r="1.95" fill="rgba(255,0,0,0.97)"/><circle cx="554.8" cy="144.3" r="1.95" fill="rgba(255,0,0,0.97)"/><circle cx="555.1" cy="89.3" r="1.8" fill="rgba(255,0,0,0.88)"/><circle cx="555.1" cy="89.3" r="1.8" fill="rgba(255,0,0,0.88)"/><circle cx="555.1" cy="159.1" r="1.8" fill="rgba(255,0,0,0.88)"/><circle cx="555.1" cy="162.5" r="1.8" fill="rgba(255,0,0,0.88)"/><circle cx="555.1" cy="89.3" r="1.8" fill="rgba(255,0,0,0.88)"/><circle cx="555.1" cy="89.3" r="1.8" fill="rgba(255,0,0,0.88)"/><circle cx="555.1" cy="159.5" r="1.8" fill="rgba(255,0,0,0.88)"/><circle cx="555.1" cy="158.8" r="1.8" fill="rgba(255,0,0,0.88)"/><circle cx="555.1" cy="164.3" r="1.8" fill="rgba(255,0,0,0.88)"/><line x1="561.8" y1="93.0" x2="561.8" y2="155.6" stroke="rgba(255,0,0,0.98)" stroke-width="3.5" stroke-linecap="round"/><circle cx="562.1" cy="105.2" r="1.95" fill="rgba(255,0,0,0.98)"/><circle cx="561.8" cy="144.8" r="1.95" fill="rgba(255,0,0,0.98)"/><circle cx="562.1" cy="135.9" r="1.95" fill="rgba(255,0,0,0.98)"/><circle cx="561.8" cy="101.4" r="1.95" fill="rgba(255,0,0,0.98)"/><circle cx="561.5" cy="100.9" r="1.95" fill="rgba(255,0,0,0.98)"/><circle cx="561.6" cy="99.4" r="1.95" fill="rgba(255,0,0,0.98)"/><circle cx="561.6" cy="95.9" r="1.95" fill="rgba(255,0,0,0.98)"/><circle cx="561.9" cy="116.6" r="1.95" fill="rgba(255,0,0,0.98)"/><circle cx="562.1" cy="147.1" r="1.95" fill="rgba(255,0,0,0.98)"/><circle cx="561.8" cy="160.9" r="1.8" fill="rgba(255,0,0,0.90)"/><circle cx="561.8" cy="158.1" r="1.8" fill="rgba(255,0,0,0.90)"/><circle cx="561.8" cy="92.5" r="1.8" fill="rgba(255,0,0,0.90)"/><circle cx="561.8" cy="158.5" r="1.8" fill="rgba(255,0,0,0.90)"/><circle cx="561.8" cy="92.5" r="1.8" fill="rgba(255,0,0,0.90)"/><circle cx="561.8" cy="92.5" r="1.8" fill="rgba(255,0,0,0.90)"/><circle cx="561.8" cy="92.5" r="1.8" fill="rgba(255,0,0,0.90)"/><circle cx="561.8" cy="161.3" r="1.8" fill="rgba(255,0,0,0.90)"/><circle cx="561.8" cy="164.3" r="1.8" fill="rgba(255,0,0,0.90)"/><line x1="568.9" y1="94.3" x2="568.9" y2="152.5" stroke="rgba(255,0,0,0.99)" stroke-width="3.5" stroke-linecap="round"/><circle cx="568.7" cy="121.8" r="1.95" fill="rgba(255,0,0,0.99)"/><circle cx="569.2" cy="139.1" r="1.95" fill="rgba(255,0,0,0.99)"/><circle cx="569.0" cy="107.3" r="1.95" fill="rgba(255,0,0,0.99)"/><circle cx="569.0" cy="135.1" r="1.95" fill="rgba(255,0,0,0.99)"/><circle cx="568.9" cy="95.6" r="1.95" fill="rgba(255,0,0,0.99)"/><circle cx="568.7" cy="105.7" r="1.95" fill="rgba(255,0,0,0.99)"/><circle cx="569.0" cy="128.1" r="1.95" fill="rgba(255,0,0,0.99)"/><circle cx="569.1" cy="130.8" r="1.95" fill="rgba(255,0,0,0.99)"/><circle cx="568.9" cy="160.8" r="1.8" fill="rgba(255,0,0,0.93)"/><circle cx="568.9" cy="93.8" r="1.8" fill="rgba(255,0,0,0.93)"/><circle cx="568.9" cy="165.3" r="1.8" fill="rgba(255,0,0,0.93)"/><circle cx="568.9" cy="154.0" r="1.8" fill="rgba(255,0,0,0.93)"/><circle cx="568.9" cy="93.8" r="1.8" fill="rgba(255,0,0,0.93)"/><circle cx="568.9" cy="161.7" r="1.8" fill="rgba(255,0,0,0.93)"/><circle cx="568.9" cy="93.8" r="1.8" fill="rgba(255,0,0,0.93)"/><circle cx="568.9" cy="166.0" r="1.8" fill="rgba(255,0,0,0.93)"/><circle cx="568.9" cy="167.2" r="1.8" fill="rgba(255,0,0,0.93)"/><line x1="575.7" y1="93.2" x2="575.7" y2="152.5" stroke="rgba(255,0,0,1.00)" stroke-width="3.5" stroke-linecap="round"/><circle cx="575.6" cy="120.7" r="1.95" fill="rgba(255,0,0,1.00)"/><circle cx="575.9" cy="105.3" r="1.95" fill="rgba(255,0,0,1.00)"/><circle cx="575.5" cy="135.0" r="1.95" fill="rgba(255,0,0,1.00)"/><circle cx="575.7" cy="147.1" r="1.95" fill="rgba(255,0,0,1.00)"/><circle cx="575.6" cy="117.6" r="1.95" fill="rgba(255,0,0,1.00)"/><circle cx="575.7" cy="136.2" r="1.95" fill="rgba(255,0,0,1.00)"/><circle cx="575.4" cy="132.5" r="1.95" fill="rgba(255,0,0,1.00)"/><circle cx="575.5" cy="135.1" r="1.95" fill="rgba(255,0,0,1.00)"/><circle cx="575.7" cy="157.9" r="1.8" fill="rgba(255,0,0,0.95)"/><circle cx="575.7" cy="92.7" r="1.8" fill="rgba(255,0,0,0.95)"/><circle cx="575.7" cy="92.7" r="1.8" fill="rgba(255,0,0,0.95)"/><circle cx="575.7" cy="157.7" r="1.8" fill="rgba(255,0,0,0.95)"/><circle cx="575.7" cy="165.6" r="1.8" fill="rgba(255,0,0,0.95)"/><circle cx="575.7" cy="161.9" r="1.8" fill="rgba(255,0,0,0.95)"/><circle cx="575.7" cy="92.7" r="1.8" fill="rgba(255,0,0,0.95)"/><circle cx="575.7" cy="92.7" r="1.8" fill="rgba(255,0,0,0.95)"/><circle cx="575.7" cy="169.9" r="1.8" fill="rgba(255,0,0,0.95)"/></g>
<circle cx="548.6" cy="75.0" r="1.7" fill="rgba(255,0,0,0.9)"/>
<line x1="367.3" y1="207.1" x2="361.5" y2="43.4" stroke="#000" stroke-width="1.5"/>
<polygon points="361.5,43.4 364.3,49.3 359.1,49.5" fill="#000"/>
<line x1="441.7" y1="145.0" x2="439.9" y2="5.3" stroke="#000" stroke-width="1.5"/>
<polygon points="439.9,5.3 442.6,11.3 437.4,11.3" fill="#000"/>
<line x1="365.5" y1="149.5" x2="592.6" y2="218.1" stroke="#000" stroke-width="1.5"/>
<polygon points="592.6,218.1 586.1,218.9 587.6,213.9" fill="#000"/>
<line x1="441.2" y1="87.9" x2="625.4" y2="138.3" stroke="#000" stroke-width="1.5"/>
<polygon points="625.4,138.3 618.9,139.2 620.3,134.2" fill="#000"/>
<path d="M373.5,149.5 C375.6,150.0 380.6,151.2 386.2,152.7 C391.8,154.2 400.2,156.3 407.3,158.6 C414.4,160.9 422.9,164.3 428.5,166.5 C434.1,168.7 437.0,170.1 441.2,171.8 C445.4,173.6 449.0,175.1 453.9,177.0 C458.8,178.9 465.1,181.4 470.8,183.4 C476.5,185.4 482.2,187.3 487.8,189.1 C493.4,190.9 501.9,193.2 504.7,194.0" fill="none" stroke="#2a44d4" stroke-width="1.5" stroke-dasharray="2.6 1.5"/>
<path d="M372.4,148.4l2.2,2.2m0,-2.2l-2.2,2.2M376.9,149.5l2.2,2.2m0,-2.2l-2.2,2.2M381.4,150.7l2.2,2.2m0,-2.2l-2.2,2.2M386.0,151.8l2.2,2.2m0,-2.2l-2.2,2.2M390.5,153.1l2.2,2.2m0,-2.2l-2.2,2.2M395.0,154.4l2.2,2.2m0,-2.2l-2.2,2.2M399.5,155.6l2.2,2.2m0,-2.2l-2.2,2.2M404.1,156.9l2.2,2.2m0,-2.2l-2.2,2.2M408.6,158.4l2.2,2.2m0,-2.2l-2.2,2.2M413.1,160.1l2.2,2.2m0,-2.2l-2.2,2.2M417.6,161.8l2.2,2.2m0,-2.2l-2.2,2.2M422.2,163.4l2.2,2.2m0,-2.2l-2.2,2.2M426.7,165.1l2.2,2.2m0,-2.2l-2.2,2.2M431.2,167.0l2.2,2.2m0,-2.2l-2.2,2.2M435.7,168.9l2.2,2.2m0,-2.2l-2.2,2.2M440.3,170.8l2.2,2.2m0,-2.2l-2.2,2.2M444.8,172.6l2.2,2.2m0,-2.2l-2.2,2.2M449.3,174.5l2.2,2.2m0,-2.2l-2.2,2.2M453.8,176.3l2.2,2.2m0,-2.2l-2.2,2.2M458.4,178.0l2.2,2.2m0,-2.2l-2.2,2.2M462.9,179.7l2.2,2.2m0,-2.2l-2.2,2.2M467.4,181.4l2.2,2.2m0,-2.2l-2.2,2.2M471.9,183.0l2.2,2.2m0,-2.2l-2.2,2.2M476.5,184.6l2.2,2.2m0,-2.2l-2.2,2.2M481.0,186.1l2.2,2.2m0,-2.2l-2.2,2.2M485.5,187.6l2.2,2.2m0,-2.2l-2.2,2.2M490.0,189.0l2.2,2.2m0,-2.2l-2.2,2.2M494.6,190.3l2.2,2.2m0,-2.2l-2.2,2.2M499.1,191.6l2.2,2.2m0,-2.2l-2.2,2.2M503.6,192.9l2.2,2.2m0,-2.2l-2.2,2.2" stroke="#2040d0" stroke-width="1.0" fill="none"/>
<g fill="#111" stroke="#111" stroke-width="0.25"><text x="364.7" y="23.2" font-size="16.8" text-anchor="start">(b)</text><text x="366.3" y="59.1" font-size="14.5" text-anchor="start">Height/µm</text><text x="445.1" y="23.1" font-size="14.5" text-anchor="start">Height/µm</text><text x="354.4" y="232.0" font-size="14.5" text-anchor="start">8.5</text><text x="378.6" y="241.8" font-size="14.5" text-anchor="start">44.3</text><text x="408.8" y="249.9" font-size="14.5" text-anchor="start">80.1</text><text x="436.4" y="260.4" font-size="14.5" text-anchor="start">115.9</text><text x="466.6" y="269.4" font-size="14.5" text-anchor="start">151.7</text><text x="616.4" y="85.0" font-size="14.5" text-anchor="end">0.6</text><text x="616.4" y="100.1" font-size="14.5" text-anchor="end">0.4</text><text x="616.4" y="115.0" font-size="14.5" text-anchor="end">0.2</text><text x="616.4" y="129.6" font-size="14.5" text-anchor="end">0.0</text><text x="616.4" y="142.7" font-size="14.5" text-anchor="end">-0.2</text><text x="616.4" y="158.8" font-size="14.5" text-anchor="end">-0.4</text><text x="616.4" y="171.9" font-size="14.5" text-anchor="end">-0.6</text></g>
<text x="556.0" y="236.1" font-size="15" fill="#111" stroke="#111" stroke-width="0.25">x/10<tspan dy="-5" dx="0.3" font-size="14.5">−3</tspan><tspan dy="5" dx="0.8" font-size="15">µm</tspan></text>
<rect x="532.0" y="1.2" width="151.8" height="63.8" rx="8" ry="8" fill="#fff" stroke="#4f73b8" stroke-width="1.1"/><circle cx="542.1" cy="13.5" r="2.2" fill="#f43030"/><circle cx="542.1" cy="13.5" r="0.8" fill="#f9a0a0"/><text x="555.5" y="18.5" font-size="13.1" fill="#111" stroke="#111" stroke-width="0.15">Real Roughness Height</text><line x1="536.5" y1="26.7" x2="548.5" y2="26.7" stroke="#229022" stroke-width="1.1"/><text x="555.5" y="31.9" font-size="13.1" fill="#111" stroke="#111" stroke-width="0.15">95% Range</text><line x1="536.5" y1="40.9" x2="549.5" y2="40.9" stroke="#4f7fdc" stroke-width="1.2" stroke-dasharray="2.6 1.2"/><text x="555.5" y="45.3" font-size="13.1" fill="#111" stroke="#111" stroke-width="0.15">Mean Prediction</text><line x1="537.0" y1="55.0" x2="549.0" y2="55.0" stroke="#3a3a3a" stroke-width="1.8"/><text x="555.5" y="58.7" font-size="13.1" fill="#111" stroke="#111" stroke-width="0.15">Zero Line</text>
<line x1="362.7" y1="279.3" x2="630.3" y2="279.3" stroke="#1a1a1a" stroke-width="1.3"/><line x1="362.7" y1="306.8" x2="630.3" y2="306.8" stroke="#1a1a1a" stroke-width="1.3"/><line x1="362.7" y1="333.9" x2="630.3" y2="333.9" stroke="#1a1a1a" stroke-width="1.3"/><g fill="#111" stroke="#111" stroke-width="0.15"><text x="462.8" y="295.4" font-size="12.9" text-anchor="middle">feed</text><text x="529.4" y="295.4" font-size="12.9" text-anchor="middle">velocity</text><text x="596.2" y="295.4" font-size="12.9" text-anchor="middle">sequence</text><text x="395.9" y="322.9" font-size="12.9" text-anchor="middle">parameter</text><text x="462.8" y="322.9" font-size="12.9" text-anchor="middle">8mm/min</text><text x="529.4" y="322.9" font-size="12.9" text-anchor="middle">22.08m/s</text><text x="596.2" y="322.9" font-size="12.9" text-anchor="middle">NO.23</text></g>
<polygon points="22.9,436.8 111.1,372.7 113.1,475.7 28.7,546.2" fill="#f6f6f6"/>
<polygon points="111.1,372.7 257.4,408.5 253.9,516.4 113.1,475.7" fill="#efefef"/>
<polygon points="28.7,546.2 113.1,475.7 253.9,516.4 176.9,595.6" fill="#f3f3f3"/>
<g><line x1="124.1" y1="478.8" x2="122.5" y2="375.5" stroke="#c4c4c4" stroke-width="0.7"/><line x1="35.5" y1="548.5" x2="124.1" y2="478.8" stroke="#c4c4c4" stroke-width="0.7"/><line x1="135.8" y1="482.2" x2="134.6" y2="378.5" stroke="#c4c4c4" stroke-width="0.7"/><line x1="48.1" y1="552.7" x2="135.8" y2="482.2" stroke="#c4c4c4" stroke-width="0.7"/><line x1="147.6" y1="485.6" x2="146.9" y2="381.5" stroke="#c4c4c4" stroke-width="0.7"/><line x1="60.8" y1="556.9" x2="147.6" y2="485.6" stroke="#c4c4c4" stroke-width="0.7"/><line x1="159.5" y1="489.1" x2="159.3" y2="384.5" stroke="#c4c4c4" stroke-width="0.7"/><line x1="73.7" y1="561.2" x2="159.5" y2="489.1" stroke="#c4c4c4" stroke-width="0.7"/><line x1="171.6" y1="492.6" x2="171.8" y2="387.6" stroke="#c4c4c4" stroke-width="0.7"/><line x1="86.8" y1="565.6" x2="171.6" y2="492.6" stroke="#c4c4c4" stroke-width="0.7"/><line x1="183.8" y1="496.1" x2="184.4" y2="390.6" stroke="#c4c4c4" stroke-width="0.7"/><line x1="100.0" y1="570.0" x2="183.8" y2="496.1" stroke="#c4c4c4" stroke-width="0.7"/><line x1="196.1" y1="499.7" x2="197.2" y2="393.8" stroke="#c4c4c4" stroke-width="0.7"/><line x1="113.3" y1="574.4" x2="196.1" y2="499.7" stroke="#c4c4c4" stroke-width="0.7"/><line x1="208.5" y1="503.3" x2="210.1" y2="396.9" stroke="#c4c4c4" stroke-width="0.7"/><line x1="126.8" y1="578.9" x2="208.5" y2="503.3" stroke="#c4c4c4" stroke-width="0.7"/><line x1="221.1" y1="506.9" x2="223.2" y2="400.1" stroke="#c4c4c4" stroke-width="0.7"/><line x1="140.5" y1="583.5" x2="221.1" y2="506.9" stroke="#c4c4c4" stroke-width="0.7"/><line x1="233.8" y1="510.6" x2="236.4" y2="403.4" stroke="#c4c4c4" stroke-width="0.7"/><line x1="154.3" y1="588.1" x2="233.8" y2="510.6" stroke="#c4c4c4" stroke-width="0.7"/><line x1="246.6" y1="514.3" x2="249.8" y2="406.6" stroke="#c4c4c4" stroke-width="0.7"/><line x1="168.3" y1="592.7" x2="246.6" y2="514.3" stroke="#c4c4c4" stroke-width="0.7"/><line x1="112.9" y1="461.7" x2="254.4" y2="501.8" stroke="#c4c4c4" stroke-width="0.7"/><line x1="27.9" y1="531.4" x2="112.9" y2="461.7" stroke="#c4c4c4" stroke-width="0.7"/><line x1="112.5" y1="443.7" x2="255.0" y2="482.9" stroke="#c4c4c4" stroke-width="0.7"/><line x1="26.9" y1="512.3" x2="112.5" y2="443.7" stroke="#c4c4c4" stroke-width="0.7"/><line x1="112.2" y1="425.4" x2="255.6" y2="463.8" stroke="#c4c4c4" stroke-width="0.7"/><line x1="25.9" y1="492.9" x2="112.2" y2="425.4" stroke="#c4c4c4" stroke-width="0.7"/><line x1="111.8" y1="406.9" x2="256.3" y2="444.4" stroke="#c4c4c4" stroke-width="0.7"/><line x1="24.8" y1="473.2" x2="111.8" y2="406.9" stroke="#c4c4c4" stroke-width="0.7"/><line x1="111.4" y1="388.2" x2="256.9" y2="424.7" stroke="#c4c4c4" stroke-width="0.7"/><line x1="23.8" y1="453.2" x2="111.4" y2="388.2" stroke="#c4c4c4" stroke-width="0.7"/><line x1="33.2" y1="542.4" x2="27.7" y2="433.3" stroke="#c4c4c4" stroke-width="0.7"/><line x1="33.2" y1="542.4" x2="181.1" y2="591.3" stroke="#c4c4c4" stroke-width="0.7"/><line x1="109.2" y1="478.9" x2="107.1" y2="375.7" stroke="#c4c4c4" stroke-width="0.7"/><line x1="109.2" y1="478.9" x2="250.4" y2="520.1" stroke="#c4c4c4" stroke-width="0.7"/></g>
<line x1="28.7" y1="546.2" x2="176.9" y2="595.6" stroke="#4a4a4a" stroke-width="0.9"/>
<line x1="176.9" y1="595.6" x2="253.9" y2="516.4" stroke="#4a4a4a" stroke-width="0.9"/>
<line x1="253.9" y1="516.4" x2="257.4" y2="408.5" stroke="#4a4a4a" stroke-width="0.9"/>
<line x1="35.5" y1="548.5" x2="32.3" y2="551.2" stroke="#4a4a4a" stroke-width="0.9"/>
<line x1="48.1" y1="552.7" x2="44.9" y2="555.4" stroke="#4a4a4a" stroke-width="0.9"/>
<line x1="60.8" y1="556.9" x2="57.7" y2="559.7" stroke="#4a4a4a" stroke-width="0.9"/>
<line x1="73.7" y1="561.2" x2="70.6" y2="564.0" stroke="#4a4a4a" stroke-width="0.9"/>
<line x1="86.8" y1="565.6" x2="83.6" y2="568.4" stroke="#4a4a4a" stroke-width="0.9"/>
<line x1="100.0" y1="570.0" x2="96.8" y2="572.8" stroke="#4a4a4a" stroke-width="0.9"/>
<line x1="113.3" y1="574.4" x2="110.2" y2="577.3" stroke="#4a4a4a" stroke-width="0.9"/>
<line x1="126.8" y1="578.9" x2="123.7" y2="581.8" stroke="#4a4a4a" stroke-width="0.9"/>
<line x1="140.5" y1="583.5" x2="137.4" y2="586.4" stroke="#4a4a4a" stroke-width="0.9"/>
<line x1="154.3" y1="588.1" x2="151.3" y2="591.0" stroke="#4a4a4a" stroke-width="0.9"/>
<line x1="168.3" y1="592.7" x2="165.3" y2="595.7" stroke="#4a4a4a" stroke-width="0.9"/>
<line x1="253.4" y1="501.8" x2="257.9" y2="501.8" stroke="#4a4a4a" stroke-width="0.9"/>
<line x1="254.0" y1="482.9" x2="258.5" y2="482.9" stroke="#4a4a4a" stroke-width="0.9"/>
<line x1="254.6" y1="463.8" x2="259.1" y2="463.8" stroke="#4a4a4a" stroke-width="0.9"/>
<line x1="255.3" y1="444.4" x2="259.8" y2="444.4" stroke="#4a4a4a" stroke-width="0.9"/>
<line x1="255.9" y1="424.7" x2="260.4" y2="424.7" stroke="#4a4a4a" stroke-width="0.9"/>
<line x1="181.1" y1="591.3" x2="185.8" y2="592.8" stroke="#4a4a4a" stroke-width="0.9"/>
<line x1="250.4" y1="520.1" x2="254.9" y2="521.4" stroke="#4a4a4a" stroke-width="0.9"/>
<path d="M39.9,447.4 C42.5,447.8 49.6,448.6 55.2,450.0 C60.8,451.4 67.5,453.8 73.6,455.8 C79.7,457.9 85.9,459.8 92.0,462.3 C98.1,464.8 103.8,468.1 110.4,471.0 C117.0,473.9 124.4,476.7 131.4,479.4 C138.4,482.1 145.8,485.4 152.4,487.3 C159.1,489.2 168.2,490.0 171.3,490.5 L171.3,577.0 L171.3,577.0 C168.2,576.3 159.1,575.0 152.4,572.7 C145.8,570.5 138.4,567.0 131.4,563.5 C124.4,560.0 117.0,555.4 110.4,551.7 C103.8,548.0 98.1,544.1 92.0,541.2 C85.9,538.4 79.7,536.1 73.6,534.6 C67.5,533.1 60.7,532.9 55.2,532.5 C49.7,532.1 43.0,532.1 40.5,532.0 Z" fill="rgb(0,128,0)" fill-opacity="0.3"/>
<path d="M39.9,447.4 C42.5,447.8 49.6,448.6 55.2,450.0 C60.8,451.4 67.5,453.8 73.6,455.8 C79.7,457.9 85.9,459.8 92.0,462.3 C98.1,464.8 103.8,468.1 110.4,471.0 C117.0,473.9 124.4,476.7 131.4,479.4 C138.4,482.1 145.8,485.4 152.4,487.3 C159.1,489.2 168.2,490.0 171.3,490.5" fill="none" stroke="#158a15" stroke-width="1.5"/>
<path d="M40.5,532.0 C43.0,532.1 49.7,532.1 55.2,532.5 C60.7,532.9 67.5,533.1 73.6,534.6 C79.7,536.1 85.9,538.4 92.0,541.2 C98.1,544.1 103.8,548.0 110.4,551.7 C117.0,555.4 124.4,560.0 131.4,563.5 C138.4,567.0 145.8,570.5 152.4,572.7 C159.1,575.0 168.2,576.3 171.3,577.0" fill="none" stroke="#158a15" stroke-width="1.5"/>
<g><line x1="117.2" y1="398.5" x2="117.2" y2="455.4" stroke="rgba(255,0,0,0.82)" stroke-width="3.5" stroke-linecap="round"/><circle cx="117.2" cy="411.8" r="1.95" fill="rgba(255,0,0,0.82)"/><circle cx="117.3" cy="419.4" r="1.95" fill="rgba(255,0,0,0.82)"/><circle cx="116.9" cy="434.2" r="1.95" fill="rgba(255,0,0,0.82)"/><circle cx="117.4" cy="398.8" r="1.95" fill="rgba(255,0,0,0.82)"/><circle cx="117.0" cy="413.0" r="1.95" fill="rgba(255,0,0,0.82)"/><circle cx="117.2" cy="455.6" r="1.95" fill="rgba(255,0,0,0.82)"/><circle cx="117.2" cy="446.4" r="1.95" fill="rgba(255,0,0,0.82)"/><circle cx="117.0" cy="435.0" r="1.95" fill="rgba(255,0,0,0.82)"/><circle cx="117.2" cy="467.8" r="1.8" fill="rgba(255,0,0,0.50)"/><circle cx="117.2" cy="466.4" r="1.8" fill="rgba(255,0,0,0.50)"/><circle cx="117.2" cy="457.4" r="1.8" fill="rgba(255,0,0,0.50)"/><circle cx="117.2" cy="393.3" r="1.8" fill="rgba(255,0,0,0.50)"/><circle cx="117.2" cy="469.2" r="1.8" fill="rgba(255,0,0,0.50)"/><line x1="122.9" y1="398.4" x2="122.9" y2="455.3" stroke="rgba(255,0,0,0.83)" stroke-width="3.5" stroke-linecap="round"/><circle cx="123.0" cy="441.8" r="1.95" fill="rgba(255,0,0,0.83)"/><circle cx="122.6" cy="415.4" r="1.95" fill="rgba(255,0,0,0.83)"/><circle cx="122.9" cy="448.0" r="1.95" fill="rgba(255,0,0,0.83)"/><circle cx="123.2" cy="439.5" r="1.95" fill="rgba(255,0,0,0.83)"/><circle cx="123.2" cy="439.3" r="1.95" fill="rgba(255,0,0,0.83)"/><circle cx="123.1" cy="420.8" r="1.95" fill="rgba(255,0,0,0.83)"/><circle cx="123.2" cy="423.7" r="1.95" fill="rgba(255,0,0,0.83)"/><circle cx="122.6" cy="448.8" r="1.95" fill="rgba(255,0,0,0.83)"/><circle cx="122.9" cy="395.5" r="1.8" fill="rgba(255,0,0,0.52)"/><circle cx="122.9" cy="463.4" r="1.8" fill="rgba(255,0,0,0.52)"/><circle cx="122.9" cy="461.5" r="1.8" fill="rgba(255,0,0,0.52)"/><circle cx="122.9" cy="389.8" r="1.8" fill="rgba(255,0,0,0.52)"/><circle cx="122.9" cy="470.6" r="1.8" fill="rgba(255,0,0,0.52)"/><line x1="128.6" y1="398.3" x2="128.6" y2="457.1" stroke="rgba(255,0,0,0.84)" stroke-width="3.5" stroke-linecap="round"/><circle cx="128.5" cy="428.2" r="1.95" fill="rgba(255,0,0,0.84)"/><circle cx="128.7" cy="418.8" r="1.95" fill="rgba(255,0,0,0.84)"/><circle cx="128.9" cy="432.8" r="1.95" fill="rgba(255,0,0,0.84)"/><circle cx="128.9" cy="438.6" r="1.95" fill="rgba(255,0,0,0.84)"/><circle cx="128.9" cy="449.0" r="1.95" fill="rgba(255,0,0,0.84)"/><circle cx="128.4" cy="438.0" r="1.95" fill="rgba(255,0,0,0.84)"/><circle cx="128.9" cy="449.3" r="1.95" fill="rgba(255,0,0,0.84)"/><circle cx="128.6" cy="451.9" r="1.95" fill="rgba(255,0,0,0.84)"/><circle cx="128.6" cy="461.9" r="1.8" fill="rgba(255,0,0,0.55)"/><circle cx="128.6" cy="467.1" r="1.8" fill="rgba(255,0,0,0.55)"/><circle cx="128.6" cy="397.4" r="1.8" fill="rgba(255,0,0,0.55)"/><circle cx="128.6" cy="394.0" r="1.8" fill="rgba(255,0,0,0.55)"/><circle cx="128.6" cy="472.4" r="1.8" fill="rgba(255,0,0,0.55)"/><line x1="134.7" y1="397.8" x2="134.7" y2="460.9" stroke="rgba(255,0,0,0.85)" stroke-width="3.5" stroke-linecap="round"/><circle cx="135.0" cy="452.1" r="1.95" fill="rgba(255,0,0,0.85)"/><circle cx="134.9" cy="403.0" r="1.95" fill="rgba(255,0,0,0.85)"/><circle cx="134.5" cy="423.7" r="1.95" fill="rgba(255,0,0,0.85)"/><circle cx="134.9" cy="416.2" r="1.95" fill="rgba(255,0,0,0.85)"/><circle cx="134.4" cy="453.3" r="1.95" fill="rgba(255,0,0,0.85)"/><circle cx="134.4" cy="436.7" r="1.95" fill="rgba(255,0,0,0.85)"/><circle cx="134.6" cy="443.4" r="1.95" fill="rgba(255,0,0,0.85)"/><circle cx="135.0" cy="453.8" r="1.95" fill="rgba(255,0,0,0.85)"/><circle cx="135.0" cy="429.7" r="1.95" fill="rgba(255,0,0,0.85)"/><circle cx="134.7" cy="397.0" r="1.8" fill="rgba(255,0,0,0.57)"/><circle cx="134.7" cy="462.2" r="1.8" fill="rgba(255,0,0,0.57)"/><circle cx="134.7" cy="396.1" r="1.8" fill="rgba(255,0,0,0.57)"/><circle cx="134.7" cy="394.8" r="1.8" fill="rgba(255,0,0,0.57)"/><circle cx="134.7" cy="474.1" r="1.8" fill="rgba(255,0,0,0.57)"/><line x1="140.4" y1="398.3" x2="140.4" y2="462.8" stroke="rgba(255,0,0,0.86)" stroke-width="3.5" stroke-linecap="round"/><circle cx="140.2" cy="437.7" r="1.95" fill="rgba(255,0,0,0.86)"/><circle cx="140.7" cy="400.5" r="1.95" fill="rgba(255,0,0,0.86)"/><circle cx="140.7" cy="418.3" r="1.95" fill="rgba(255,0,0,0.86)"/><circle cx="140.3" cy="456.5" r="1.95" fill="rgba(255,0,0,0.86)"/><circle cx="140.4" cy="427.9" r="1.95" fill="rgba(255,0,0,0.86)"/><circle cx="140.5" cy="439.9" r="1.95" fill="rgba(255,0,0,0.86)"/><circle cx="140.5" cy="434.4" r="1.95" fill="rgba(255,0,0,0.86)"/><circle cx="140.4" cy="459.4" r="1.95" fill="rgba(255,0,0,0.86)"/><circle cx="140.6" cy="426.0" r="1.95" fill="rgba(255,0,0,0.86)"/><circle cx="140.4" cy="397.0" r="1.8" fill="rgba(255,0,0,0.59)"/><circle cx="140.4" cy="470.6" r="1.8" fill="rgba(255,0,0,0.59)"/><circle cx="140.4" cy="463.6" r="1.8" fill="rgba(255,0,0,0.59)"/><circle cx="140.4" cy="475.6" r="1.8" fill="rgba(255,0,0,0.59)"/><line x1="146.4" y1="399.2" x2="146.4" y2="464.6" stroke="rgba(255,0,0,0.87)" stroke-width="3.5" stroke-linecap="round"/><circle cx="146.5" cy="426.3" r="1.95" fill="rgba(255,0,0,0.87)"/><circle cx="146.5" cy="400.1" r="1.95" fill="rgba(255,0,0,0.87)"/><circle cx="146.1" cy="440.7" r="1.95" fill="rgba(255,0,0,0.87)"/><circle cx="146.4" cy="440.4" r="1.95" fill="rgba(255,0,0,0.87)"/><circle cx="146.3" cy="443.9" r="1.95" fill="rgba(255,0,0,0.87)"/><circle cx="146.6" cy="445.7" r="1.95" fill="rgba(255,0,0,0.87)"/><circle cx="146.1" cy="400.2" r="1.95" fill="rgba(255,0,0,0.87)"/><circle cx="146.7" cy="443.6" r="1.95" fill="rgba(255,0,0,0.87)"/><circle cx="146.4" cy="415.4" r="1.95" fill="rgba(255,0,0,0.87)"/><circle cx="146.4" cy="470.1" r="1.8" fill="rgba(255,0,0,0.62)"/><circle cx="146.4" cy="398.0" r="1.8" fill="rgba(255,0,0,0.62)"/><circle cx="146.4" cy="397.4" r="1.8" fill="rgba(255,0,0,0.62)"/><circle cx="146.4" cy="477.4" r="1.8" fill="rgba(255,0,0,0.62)"/><line x1="152.1" y1="399.2" x2="152.1" y2="468.4" stroke="rgba(255,0,0,0.88)" stroke-width="3.5" stroke-linecap="round"/><circle cx="152.0" cy="419.7" r="1.95" fill="rgba(255,0,0,0.88)"/><circle cx="151.8" cy="452.9" r="1.95" fill="rgba(255,0,0,0.88)"/><circle cx="152.3" cy="438.6" r="1.95" fill="rgba(255,0,0,0.88)"/><circle cx="151.9" cy="420.4" r="1.95" fill="rgba(255,0,0,0.88)"/><circle cx="151.9" cy="455.1" r="1.95" fill="rgba(255,0,0,0.88)"/><circle cx="152.1" cy="411.8" r="1.95" fill="rgba(255,0,0,0.88)"/><circle cx="151.8" cy="447.7" r="1.95" fill="rgba(255,0,0,0.88)"/><circle cx="152.0" cy="421.3" r="1.95" fill="rgba(255,0,0,0.88)"/><circle cx="152.1" cy="457.2" r="1.95" fill="rgba(255,0,0,0.88)"/><circle cx="151.9" cy="458.7" r="1.95" fill="rgba(255,0,0,0.88)"/><circle cx="152.1" cy="397.2" r="1.8" fill="rgba(255,0,0,0.64)"/><circle cx="152.1" cy="474.1" r="1.8" fill="rgba(255,0,0,0.64)"/><circle cx="152.1" cy="398.3" r="1.8" fill="rgba(255,0,0,0.64)"/><circle cx="152.1" cy="478.8" r="1.8" fill="rgba(255,0,0,0.64)"/><line x1="158.4" y1="400.1" x2="158.4" y2="472.2" stroke="rgba(255,0,0,0.89)" stroke-width="3.5" stroke-linecap="round"/><circle cx="158.2" cy="438.3" r="1.95" fill="rgba(255,0,0,0.89)"/><circle cx="158.6" cy="458.6" r="1.95" fill="rgba(255,0,0,0.89)"/><circle cx="158.2" cy="413.1" r="1.95" fill="rgba(255,0,0,0.89)"/><circle cx="158.5" cy="458.6" r="1.95" fill="rgba(255,0,0,0.89)"/><circle cx="158.3" cy="458.6" r="1.95" fill="rgba(255,0,0,0.89)"/><circle cx="158.3" cy="409.1" r="1.95" fill="rgba(255,0,0,0.89)"/><circle cx="158.2" cy="457.7" r="1.95" fill="rgba(255,0,0,0.89)"/><circle cx="158.3" cy="425.0" r="1.95" fill="rgba(255,0,0,0.89)"/><circle cx="158.3" cy="430.3" r="1.95" fill="rgba(255,0,0,0.89)"/><circle cx="158.2" cy="466.9" r="1.95" fill="rgba(255,0,0,0.89)"/><circle cx="158.4" cy="397.8" r="1.8" fill="rgba(255,0,0,0.67)"/><circle cx="158.4" cy="480.3" r="1.8" fill="rgba(255,0,0,0.67)"/><circle cx="158.4" cy="397.8" r="1.8" fill="rgba(255,0,0,0.67)"/><circle cx="158.4" cy="480.3" r="1.8" fill="rgba(255,0,0,0.67)"/><line x1="164.5" y1="405.0" x2="164.5" y2="474.2" stroke="rgba(255,0,0,0.90)" stroke-width="3.5" stroke-linecap="round"/><circle cx="164.3" cy="469.6" r="1.95" fill="rgba(255,0,0,0.90)"/><circle cx="164.7" cy="456.8" r="1.95" fill="rgba(255,0,0,0.90)"/><circle cx="164.5" cy="451.0" r="1.95" fill="rgba(255,0,0,0.90)"/><circle cx="164.4" cy="424.7" r="1.95" fill="rgba(255,0,0,0.90)"/><circle cx="164.2" cy="420.4" r="1.95" fill="rgba(255,0,0,0.90)"/><circle cx="164.4" cy="445.8" r="1.95" fill="rgba(255,0,0,0.90)"/><circle cx="164.2" cy="461.3" r="1.95" fill="rgba(255,0,0,0.90)"/><circle cx="164.6" cy="467.9" r="1.95" fill="rgba(255,0,0,0.90)"/><circle cx="164.8" cy="469.3" r="1.95" fill="rgba(255,0,0,0.90)"/><circle cx="164.6" cy="467.6" r="1.95" fill="rgba(255,0,0,0.90)"/><circle cx="164.5" cy="402.2" r="1.8" fill="rgba(255,0,0,0.69)"/><circle cx="164.5" cy="403.3" r="1.8" fill="rgba(255,0,0,0.69)"/><circle cx="164.5" cy="479.2" r="1.8" fill="rgba(255,0,0,0.69)"/><circle cx="164.5" cy="401.6" r="1.8" fill="rgba(255,0,0,0.69)"/><circle cx="164.5" cy="482.3" r="1.8" fill="rgba(255,0,0,0.69)"/><line x1="170.4" y1="410.6" x2="170.4" y2="476.0" stroke="rgba(255,0,0,0.91)" stroke-width="3.5" stroke-linecap="round"/><circle cx="170.7" cy="437.6" r="1.95" fill="rgba(255,0,0,0.91)"/><circle cx="170.3" cy="450.8" r="1.95" fill="rgba(255,0,0,0.91)"/><circle cx="170.7" cy="426.9" r="1.95" fill="rgba(255,0,0,0.91)"/><circle cx="170.6" cy="441.8" r="1.95" fill="rgba(255,0,0,0.91)"/><circle cx="170.2" cy="433.5" r="1.95" fill="rgba(255,0,0,0.91)"/><circle cx="170.6" cy="445.6" r="1.95" fill="rgba(255,0,0,0.91)"/><circle cx="170.6" cy="421.5" r="1.95" fill="rgba(255,0,0,0.91)"/><circle cx="170.6" cy="471.3" r="1.95" fill="rgba(255,0,0,0.91)"/><circle cx="170.1" cy="464.8" r="1.95" fill="rgba(255,0,0,0.91)"/><circle cx="170.4" cy="483.6" r="1.8" fill="rgba(255,0,0,0.71)"/><circle cx="170.4" cy="407.8" r="1.8" fill="rgba(255,0,0,0.71)"/><circle cx="170.4" cy="406.1" r="1.8" fill="rgba(255,0,0,0.71)"/><circle cx="170.4" cy="403.4" r="1.8" fill="rgba(255,0,0,0.71)"/><circle cx="170.4" cy="484.5" r="1.8" fill="rgba(255,0,0,0.71)"/><line x1="176.4" y1="417.2" x2="176.4" y2="477.9" stroke="rgba(255,0,0,0.91)" stroke-width="3.5" stroke-linecap="round"/><circle cx="176.4" cy="442.8" r="1.95" fill="rgba(255,0,0,0.91)"/><circle cx="176.1" cy="464.6" r="1.95" fill="rgba(255,0,0,0.91)"/><circle cx="176.1" cy="420.1" r="1.95" fill="rgba(255,0,0,0.91)"/><circle cx="176.1" cy="424.4" r="1.95" fill="rgba(255,0,0,0.91)"/><circle cx="176.6" cy="476.9" r="1.95" fill="rgba(255,0,0,0.91)"/><circle cx="176.4" cy="422.0" r="1.95" fill="rgba(255,0,0,0.91)"/><circle cx="176.3" cy="436.2" r="1.95" fill="rgba(255,0,0,0.91)"/><circle cx="176.5" cy="438.4" r="1.95" fill="rgba(255,0,0,0.91)"/><circle cx="176.4" cy="481.8" r="1.8" fill="rgba(255,0,0,0.74)"/><circle cx="176.4" cy="412.4" r="1.8" fill="rgba(255,0,0,0.74)"/><circle cx="176.4" cy="410.2" r="1.8" fill="rgba(255,0,0,0.74)"/><circle cx="176.4" cy="406.3" r="1.8" fill="rgba(255,0,0,0.74)"/><circle cx="176.4" cy="486.0" r="1.8" fill="rgba(255,0,0,0.74)"/><line x1="182.5" y1="415.3" x2="182.5" y2="480.7" stroke="rgba(255,0,0,0.92)" stroke-width="3.5" stroke-linecap="round"/><circle cx="182.4" cy="462.4" r="1.95" fill="rgba(255,0,0,0.92)"/><circle cx="182.3" cy="420.1" r="1.95" fill="rgba(255,0,0,0.92)"/><circle cx="182.6" cy="439.6" r="1.95" fill="rgba(255,0,0,0.92)"/><circle cx="182.4" cy="466.8" r="1.95" fill="rgba(255,0,0,0.92)"/><circle cx="182.6" cy="468.0" r="1.95" fill="rgba(255,0,0,0.92)"/><circle cx="182.4" cy="443.5" r="1.95" fill="rgba(255,0,0,0.92)"/><circle cx="182.6" cy="447.8" r="1.95" fill="rgba(255,0,0,0.92)"/><circle cx="182.6" cy="442.8" r="1.95" fill="rgba(255,0,0,0.92)"/><circle cx="182.3" cy="445.4" r="1.95" fill="rgba(255,0,0,0.92)"/><circle cx="182.5" cy="486.2" r="1.8" fill="rgba(255,0,0,0.76)"/><circle cx="182.5" cy="411.5" r="1.8" fill="rgba(255,0,0,0.76)"/><circle cx="182.5" cy="408.9" r="1.8" fill="rgba(255,0,0,0.76)"/><circle cx="182.5" cy="408.2" r="1.8" fill="rgba(255,0,0,0.76)"/><circle cx="182.5" cy="487.9" r="1.8" fill="rgba(255,0,0,0.76)"/><line x1="188.4" y1="421.0" x2="188.4" y2="481.7" stroke="rgba(255,0,0,0.93)" stroke-width="3.5" stroke-linecap="round"/><circle cx="188.3" cy="478.3" r="1.95" fill="rgba(255,0,0,0.93)"/><circle cx="188.6" cy="475.9" r="1.95" fill="rgba(255,0,0,0.93)"/><circle cx="188.4" cy="436.7" r="1.95" fill="rgba(255,0,0,0.93)"/><circle cx="188.6" cy="428.1" r="1.95" fill="rgba(255,0,0,0.93)"/><circle cx="188.7" cy="461.4" r="1.95" fill="rgba(255,0,0,0.93)"/><circle cx="188.5" cy="469.4" r="1.95" fill="rgba(255,0,0,0.93)"/><circle cx="188.4" cy="465.8" r="1.95" fill="rgba(255,0,0,0.93)"/><circle cx="188.5" cy="426.9" r="1.95" fill="rgba(255,0,0,0.93)"/><circle cx="188.4" cy="418.1" r="1.8" fill="rgba(255,0,0,0.78)"/><circle cx="188.4" cy="482.8" r="1.8" fill="rgba(255,0,0,0.78)"/><circle cx="188.4" cy="418.7" r="1.8" fill="rgba(255,0,0,0.78)"/><circle cx="188.4" cy="409.1" r="1.8" fill="rgba(255,0,0,0.78)"/><circle cx="188.4" cy="489.8" r="1.8" fill="rgba(255,0,0,0.78)"/><line x1="194.5" y1="421.0" x2="194.5" y2="483.6" stroke="rgba(255,0,0,0.94)" stroke-width="3.5" stroke-linecap="round"/><circle cx="194.3" cy="476.5" r="1.95" fill="rgba(255,0,0,0.94)"/><circle cx="194.7" cy="422.0" r="1.95" fill="rgba(255,0,0,0.94)"/><circle cx="194.7" cy="428.2" r="1.95" fill="rgba(255,0,0,0.94)"/><circle cx="194.7" cy="463.4" r="1.95" fill="rgba(255,0,0,0.94)"/><circle cx="194.6" cy="481.1" r="1.95" fill="rgba(255,0,0,0.94)"/><circle cx="194.2" cy="471.3" r="1.95" fill="rgba(255,0,0,0.94)"/><circle cx="194.5" cy="469.3" r="1.95" fill="rgba(255,0,0,0.94)"/><circle cx="194.2" cy="466.0" r="1.95" fill="rgba(255,0,0,0.94)"/><circle cx="194.8" cy="468.2" r="1.95" fill="rgba(255,0,0,0.94)"/><circle cx="194.5" cy="414.0" r="1.8" fill="rgba(255,0,0,0.81)"/><circle cx="194.5" cy="490.7" r="1.8" fill="rgba(255,0,0,0.81)"/><circle cx="194.5" cy="416.4" r="1.8" fill="rgba(255,0,0,0.81)"/><circle cx="194.5" cy="404.4" r="1.8" fill="rgba(255,0,0,0.81)"/><circle cx="194.5" cy="491.7" r="1.8" fill="rgba(255,0,0,0.81)"/><line x1="200.7" y1="426.8" x2="200.7" y2="484.6" stroke="rgba(255,0,0,0.95)" stroke-width="3.5" stroke-linecap="round"/><circle cx="200.8" cy="441.0" r="1.95" fill="rgba(255,0,0,0.95)"/><circle cx="200.6" cy="470.6" r="1.95" fill="rgba(255,0,0,0.95)"/><circle cx="200.6" cy="447.9" r="1.95" fill="rgba(255,0,0,0.95)"/><circle cx="200.6" cy="446.9" r="1.95" fill="rgba(255,0,0,0.95)"/><circle cx="200.7" cy="431.2" r="1.95" fill="rgba(255,0,0,0.95)"/><circle cx="200.6" cy="483.5" r="1.95" fill="rgba(255,0,0,0.95)"/><circle cx="200.5" cy="470.2" r="1.95" fill="rgba(255,0,0,0.95)"/><circle cx="200.9" cy="466.9" r="1.95" fill="rgba(255,0,0,0.95)"/><circle cx="200.7" cy="490.1" r="1.8" fill="rgba(255,0,0,0.83)"/><circle cx="200.7" cy="414.3" r="1.8" fill="rgba(255,0,0,0.83)"/><circle cx="200.7" cy="486.9" r="1.8" fill="rgba(255,0,0,0.83)"/><circle cx="200.7" cy="409.2" r="1.8" fill="rgba(255,0,0,0.83)"/><circle cx="200.7" cy="493.7" r="1.8" fill="rgba(255,0,0,0.83)"/><line x1="206.8" y1="429.6" x2="206.8" y2="483.7" stroke="rgba(255,0,0,0.96)" stroke-width="3.5" stroke-linecap="round"/><circle cx="207.0" cy="434.4" r="1.95" fill="rgba(255,0,0,0.96)"/><circle cx="206.8" cy="479.6" r="1.95" fill="rgba(255,0,0,0.96)"/><circle cx="207.0" cy="453.5" r="1.95" fill="rgba(255,0,0,0.96)"/><circle cx="206.6" cy="439.3" r="1.95" fill="rgba(255,0,0,0.96)"/><circle cx="206.9" cy="440.1" r="1.95" fill="rgba(255,0,0,0.96)"/><circle cx="206.6" cy="446.4" r="1.95" fill="rgba(255,0,0,0.96)"/><circle cx="207.1" cy="467.2" r="1.95" fill="rgba(255,0,0,0.96)"/><circle cx="206.8" cy="429.1" r="1.8" fill="rgba(255,0,0,0.86)"/><circle cx="206.8" cy="429.1" r="1.8" fill="rgba(255,0,0,0.86)"/><circle cx="206.8" cy="488.2" r="1.8" fill="rgba(255,0,0,0.86)"/><circle cx="206.8" cy="495.6" r="1.8" fill="rgba(255,0,0,0.86)"/><line x1="212.9" y1="431.5" x2="212.9" y2="485.6" stroke="rgba(255,0,0,0.97)" stroke-width="3.5" stroke-linecap="round"/><circle cx="212.6" cy="443.0" r="1.95" fill="rgba(255,0,0,0.97)"/><circle cx="212.8" cy="457.4" r="1.95" fill="rgba(255,0,0,0.97)"/><circle cx="212.8" cy="440.5" r="1.95" fill="rgba(255,0,0,0.97)"/><circle cx="213.1" cy="448.7" r="1.95" fill="rgba(255,0,0,0.97)"/><circle cx="213.2" cy="438.9" r="1.95" fill="rgba(255,0,0,0.97)"/><circle cx="213.0" cy="457.4" r="1.95" fill="rgba(255,0,0,0.97)"/><circle cx="213.1" cy="456.8" r="1.95" fill="rgba(255,0,0,0.97)"/><circle cx="212.9" cy="493.2" r="1.8" fill="rgba(255,0,0,0.88)"/><circle cx="212.9" cy="431.0" r="1.8" fill="rgba(255,0,0,0.88)"/><circle cx="212.9" cy="491.6" r="1.8" fill="rgba(255,0,0,0.88)"/><circle cx="212.9" cy="497.5" r="1.8" fill="rgba(255,0,0,0.88)"/><line x1="219.1" y1="433.5" x2="219.1" y2="487.6" stroke="rgba(255,0,0,0.98)" stroke-width="3.5" stroke-linecap="round"/><circle cx="219.4" cy="473.4" r="1.95" fill="rgba(255,0,0,0.98)"/><circle cx="218.9" cy="458.7" r="1.95" fill="rgba(255,0,0,0.98)"/><circle cx="219.3" cy="445.9" r="1.95" fill="rgba(255,0,0,0.98)"/><circle cx="219.4" cy="470.2" r="1.95" fill="rgba(255,0,0,0.98)"/><circle cx="218.9" cy="480.0" r="1.95" fill="rgba(255,0,0,0.98)"/><circle cx="218.9" cy="443.4" r="1.95" fill="rgba(255,0,0,0.98)"/><circle cx="219.2" cy="443.3" r="1.95" fill="rgba(255,0,0,0.98)"/><circle cx="219.1" cy="498.5" r="1.8" fill="rgba(255,0,0,0.90)"/><circle cx="219.1" cy="433.0" r="1.8" fill="rgba(255,0,0,0.90)"/><circle cx="219.1" cy="433.0" r="1.8" fill="rgba(255,0,0,0.90)"/><circle cx="219.1" cy="499.5" r="1.8" fill="rgba(255,0,0,0.90)"/><line x1="225.2" y1="434.5" x2="225.2" y2="489.5" stroke="rgba(255,0,0,0.99)" stroke-width="3.5" stroke-linecap="round"/><circle cx="224.9" cy="474.8" r="1.95" fill="rgba(255,0,0,0.99)"/><circle cx="225.4" cy="439.2" r="1.95" fill="rgba(255,0,0,0.99)"/><circle cx="225.1" cy="450.3" r="1.95" fill="rgba(255,0,0,0.99)"/><circle cx="225.3" cy="466.5" r="1.95" fill="rgba(255,0,0,0.99)"/><circle cx="225.1" cy="434.4" r="1.95" fill="rgba(255,0,0,0.99)"/><circle cx="225.2" cy="458.4" r="1.95" fill="rgba(255,0,0,0.99)"/><circle cx="225.3" cy="445.7" r="1.95" fill="rgba(255,0,0,0.99)"/><circle cx="225.1" cy="487.5" r="1.95" fill="rgba(255,0,0,0.99)"/><circle cx="225.2" cy="492.1" r="1.8" fill="rgba(255,0,0,0.93)"/><circle cx="225.2" cy="434.0" r="1.8" fill="rgba(255,0,0,0.93)"/><circle cx="225.2" cy="434.0" r="1.8" fill="rgba(255,0,0,0.93)"/><circle cx="225.2" cy="501.4" r="1.8" fill="rgba(255,0,0,0.93)"/><line x1="231.5" y1="434.5" x2="231.5" y2="489.5" stroke="rgba(255,0,0,1.00)" stroke-width="3.5" stroke-linecap="round"/><circle cx="231.2" cy="484.9" r="1.95" fill="rgba(255,0,0,1.00)"/><circle cx="231.4" cy="486.8" r="1.95" fill="rgba(255,0,0,1.00)"/><circle cx="231.7" cy="477.3" r="1.95" fill="rgba(255,0,0,1.00)"/><circle cx="231.6" cy="450.6" r="1.95" fill="rgba(255,0,0,1.00)"/><circle cx="231.7" cy="470.7" r="1.95" fill="rgba(255,0,0,1.00)"/><circle cx="231.7" cy="448.9" r="1.95" fill="rgba(255,0,0,1.00)"/><circle cx="231.6" cy="487.9" r="1.95" fill="rgba(255,0,0,1.00)"/><circle cx="231.2" cy="464.1" r="1.95" fill="rgba(255,0,0,1.00)"/><circle cx="231.5" cy="434.0" r="1.8" fill="rgba(255,0,0,0.95)"/><circle cx="231.5" cy="499.8" r="1.8" fill="rgba(255,0,0,0.95)"/><circle cx="231.5" cy="493.4" r="1.8" fill="rgba(255,0,0,0.95)"/><circle cx="231.5" cy="503.3" r="1.8" fill="rgba(255,0,0,0.95)"/></g>
<circle cx="151.0" cy="402.0" r="1.7" fill="rgba(255,0,0,0.9)"/>
<circle cx="157.0" cy="404.0" r="1.7" fill="rgba(255,0,0,0.9)"/>
<line x1="33.6" y1="543.3" x2="28.4" y2="403.1" stroke="#000" stroke-width="1.5"/>
<polygon points="28.4,403.1 31.2,409.0 26.0,409.2" fill="#000"/>
<line x1="109.0" y1="480.7" x2="106.7" y2="341.5" stroke="#000" stroke-width="1.5"/>
<polygon points="106.7,341.5 109.4,347.5 104.2,347.5" fill="#000"/>
<line x1="31.5" y1="490.5" x2="246.7" y2="556.4" stroke="#000" stroke-width="1.5"/>
<polygon points="246.7,556.4 240.2,557.1 241.7,552.2" fill="#000"/>
<line x1="108.5" y1="429.5" x2="293.6" y2="479.6" stroke="#000" stroke-width="1.5"/>
<polygon points="293.6,479.6 287.1,480.5 288.5,475.5" fill="#000"/>
<path d="M40.9,490.5 C44.5,491.3 55.5,493.4 62.8,495.3 C70.1,497.2 78.1,499.5 84.7,501.9 C91.3,504.3 96.8,507.1 102.3,509.6 C107.8,512.2 112.1,514.8 117.6,517.2 C123.1,519.6 129.3,521.7 135.1,523.8 C140.9,525.9 146.8,528.1 152.6,529.9 C158.4,531.7 167.2,533.9 170.1,534.7" fill="none" stroke="#2a44d4" stroke-width="1.5" stroke-dasharray="2.6 1.5"/>
<path d="M39.8,489.4l2.2,2.2m0,-2.2l-2.2,2.2M44.3,490.4l2.2,2.2m0,-2.2l-2.2,2.2M48.7,491.4l2.2,2.2m0,-2.2l-2.2,2.2M53.2,492.3l2.2,2.2m0,-2.2l-2.2,2.2M57.6,493.3l2.2,2.2m0,-2.2l-2.2,2.2M62.1,494.3l2.2,2.2m0,-2.2l-2.2,2.2M66.5,495.7l2.2,2.2m0,-2.2l-2.2,2.2M71.0,497.0l2.2,2.2m0,-2.2l-2.2,2.2M75.4,498.3l2.2,2.2m0,-2.2l-2.2,2.2M79.9,499.7l2.2,2.2m0,-2.2l-2.2,2.2M84.4,501.1l2.2,2.2m0,-2.2l-2.2,2.2M88.8,503.1l2.2,2.2m0,-2.2l-2.2,2.2M93.3,505.0l2.2,2.2m0,-2.2l-2.2,2.2M97.7,507.0l2.2,2.2m0,-2.2l-2.2,2.2M102.2,509.0l2.2,2.2m0,-2.2l-2.2,2.2M106.6,511.2l2.2,2.2m0,-2.2l-2.2,2.2M111.1,513.4l2.2,2.2m0,-2.2l-2.2,2.2M115.5,515.6l2.2,2.2m0,-2.2l-2.2,2.2M120.0,517.4l2.2,2.2m0,-2.2l-2.2,2.2M124.4,519.1l2.2,2.2m0,-2.2l-2.2,2.2M128.9,520.8l2.2,2.2m0,-2.2l-2.2,2.2M133.4,522.5l2.2,2.2m0,-2.2l-2.2,2.2M137.8,524.0l2.2,2.2m0,-2.2l-2.2,2.2M142.3,525.6l2.2,2.2m0,-2.2l-2.2,2.2M146.7,527.1l2.2,2.2m0,-2.2l-2.2,2.2M151.2,528.7l2.2,2.2m0,-2.2l-2.2,2.2M155.6,529.9l2.2,2.2m0,-2.2l-2.2,2.2M160.1,531.2l2.2,2.2m0,-2.2l-2.2,2.2M164.5,532.4l2.2,2.2m0,-2.2l-2.2,2.2M169.0,533.6l2.2,2.2m0,-2.2l-2.2,2.2" stroke="#2040d0" stroke-width="1.0" fill="none"/>
<g fill="#111" stroke="#111" stroke-width="0.25"><text x="27.3" y="353.4" font-size="16.8" text-anchor="start">(c)</text><text x="33.7" y="416.7" font-size="14.5" text-anchor="start">Height/µm</text><text x="112.0" y="359.1" font-size="14.5" text-anchor="start">Height/µm</text><text x="16.5" y="565.6" font-size="14.5" text-anchor="start">7.5</text><text x="33.6" y="571.4" font-size="14.5" text-anchor="start">39.0</text><text x="60.4" y="578.0" font-size="14.5" text-anchor="start">70.4</text><text x="82.2" y="587.7" font-size="14.5" text-anchor="start">101.9</text><text x="112.4" y="593.7" font-size="14.5" text-anchor="start">133.4</text><text x="281.9" y="430.6" font-size="14.5" text-anchor="end">0.4</text><text x="281.9" y="450.4" font-size="14.5" text-anchor="end">0.2</text><text x="281.9" y="468.0" font-size="14.5" text-anchor="end">0.0</text><text x="281.9" y="489.7" font-size="14.5" text-anchor="end">-0.2</text><text x="281.9" y="506.0" font-size="14.5" text-anchor="end">-0.4</text></g>
<text x="229.2" y="576.4" font-size="15" fill="#111" stroke="#111" stroke-width="0.25">x/10<tspan dy="-5" dx="0.3" font-size="14.5">−3</tspan><tspan dy="5" dx="0.8" font-size="15">µm</tspan></text>
<rect x="198.0" y="337.5" width="151.0" height="62.7" rx="8" ry="8" fill="#fff" stroke="#4f73b8" stroke-width="1.1"/><circle cx="208.1" cy="349.8" r="2.2" fill="#f43030"/><circle cx="208.1" cy="349.8" r="0.8" fill="#f9a0a0"/><text x="221.5" y="354.8" font-size="13.1" fill="#111" stroke="#111" stroke-width="0.15">Real Roughness Height</text><line x1="202.5" y1="363.0" x2="214.5" y2="363.0" stroke="#229022" stroke-width="1.1"/><text x="221.5" y="368.2" font-size="13.1" fill="#111" stroke="#111" stroke-width="0.15">95% Range</text><line x1="202.5" y1="377.2" x2="215.5" y2="377.2" stroke="#4f7fdc" stroke-width="1.2" stroke-dasharray="2.6 1.2"/><text x="221.5" y="381.6" font-size="13.1" fill="#111" stroke="#111" stroke-width="0.15">Mean Prediction</text><line x1="203.0" y1="391.3" x2="215.0" y2="391.3" stroke="#3a3a3a" stroke-width="1.8"/><text x="221.5" y="395.0" font-size="13.1" fill="#111" stroke="#111" stroke-width="0.15">Zero Line</text>
<line x1="17.9" y1="605.1" x2="288.1" y2="605.1" stroke="#1a1a1a" stroke-width="1.3"/><line x1="17.9" y1="633.1" x2="288.1" y2="633.1" stroke="#1a1a1a" stroke-width="1.3"/><line x1="17.9" y1="660.7" x2="288.1" y2="660.7" stroke="#1a1a1a" stroke-width="1.3"/><g fill="#111" stroke="#111" stroke-width="0.15"><text x="119.5" y="620.4" font-size="12.9" text-anchor="middle">feed</text><text x="186.3" y="620.4" font-size="12.9" text-anchor="middle">velocity</text><text x="253.5" y="620.4" font-size="12.9" text-anchor="middle">sequence</text><text x="52.0" y="648.9" font-size="12.9" text-anchor="middle">parameter</text><text x="119.5" y="648.9" font-size="12.9" text-anchor="middle">9mm/min</text><text x="186.3" y="648.9" font-size="12.9" text-anchor="middle">31.66m/s</text><text x="253.5" y="648.9" font-size="12.9" text-anchor="middle">NO.40</text></g>
<polygon points="354.8,436.4 443.6,373.2 443.5,477.2 357.9,547.6" fill="#f6f6f6"/>
<polygon points="443.6,373.2 589.9,408.8 584.8,517.8 443.5,477.2" fill="#efefef"/>
<polygon points="357.9,547.6 443.5,477.2 584.8,517.8 507.2,596.6" fill="#f3f3f3"/>
<g><line x1="453.5" y1="480.1" x2="453.9" y2="375.7" stroke="#c4c4c4" stroke-width="0.7"/><line x1="370.9" y1="551.9" x2="453.5" y2="480.1" stroke="#c4c4c4" stroke-width="0.7"/><line x1="464.1" y1="483.2" x2="464.9" y2="378.4" stroke="#c4c4c4" stroke-width="0.7"/><line x1="382.2" y1="555.6" x2="464.1" y2="483.2" stroke="#c4c4c4" stroke-width="0.7"/><line x1="474.8" y1="486.2" x2="476.0" y2="381.1" stroke="#c4c4c4" stroke-width="0.7"/><line x1="393.6" y1="559.3" x2="474.8" y2="486.2" stroke="#c4c4c4" stroke-width="0.7"/><line x1="485.6" y1="489.3" x2="487.1" y2="383.8" stroke="#c4c4c4" stroke-width="0.7"/><line x1="405.2" y1="563.1" x2="485.6" y2="489.3" stroke="#c4c4c4" stroke-width="0.7"/><line x1="496.5" y1="492.5" x2="498.4" y2="386.6" stroke="#c4c4c4" stroke-width="0.7"/><line x1="416.8" y1="566.9" x2="496.5" y2="492.5" stroke="#c4c4c4" stroke-width="0.7"/><line x1="507.5" y1="495.6" x2="509.8" y2="389.3" stroke="#c4c4c4" stroke-width="0.7"/><line x1="428.6" y1="570.8" x2="507.5" y2="495.6" stroke="#c4c4c4" stroke-width="0.7"/><line x1="518.6" y1="498.8" x2="521.3" y2="392.1" stroke="#c4c4c4" stroke-width="0.7"/><line x1="440.5" y1="574.7" x2="518.6" y2="498.8" stroke="#c4c4c4" stroke-width="0.7"/><line x1="529.8" y1="502.0" x2="532.9" y2="395.0" stroke="#c4c4c4" stroke-width="0.7"/><line x1="452.5" y1="578.7" x2="529.8" y2="502.0" stroke="#c4c4c4" stroke-width="0.7"/><line x1="541.1" y1="505.3" x2="544.7" y2="397.8" stroke="#c4c4c4" stroke-width="0.7"/><line x1="464.6" y1="582.6" x2="541.1" y2="505.3" stroke="#c4c4c4" stroke-width="0.7"/><line x1="552.5" y1="508.6" x2="556.5" y2="400.7" stroke="#c4c4c4" stroke-width="0.7"/><line x1="476.8" y1="586.7" x2="552.5" y2="508.6" stroke="#c4c4c4" stroke-width="0.7"/><line x1="564.1" y1="511.9" x2="568.4" y2="403.6" stroke="#c4c4c4" stroke-width="0.7"/><line x1="489.2" y1="590.7" x2="564.1" y2="511.9" stroke="#c4c4c4" stroke-width="0.7"/><line x1="575.7" y1="515.2" x2="580.5" y2="406.6" stroke="#c4c4c4" stroke-width="0.7"/><line x1="501.7" y1="594.8" x2="575.7" y2="515.2" stroke="#c4c4c4" stroke-width="0.7"/><line x1="443.5" y1="465.3" x2="585.3" y2="505.3" stroke="#c4c4c4" stroke-width="0.7"/><line x1="357.6" y1="534.8" x2="443.5" y2="465.3" stroke="#c4c4c4" stroke-width="0.7"/><line x1="443.5" y1="450.0" x2="586.1" y2="489.3" stroke="#c4c4c4" stroke-width="0.7"/><line x1="357.1" y1="518.5" x2="443.5" y2="450.0" stroke="#c4c4c4" stroke-width="0.7"/><line x1="443.5" y1="434.5" x2="586.9" y2="473.1" stroke="#c4c4c4" stroke-width="0.7"/><line x1="356.6" y1="502.0" x2="443.5" y2="434.5" stroke="#c4c4c4" stroke-width="0.7"/><line x1="443.5" y1="418.9" x2="587.6" y2="456.8" stroke="#c4c4c4" stroke-width="0.7"/><line x1="356.2" y1="485.4" x2="443.5" y2="418.9" stroke="#c4c4c4" stroke-width="0.7"/><line x1="443.5" y1="403.2" x2="588.4" y2="440.3" stroke="#c4c4c4" stroke-width="0.7"/><line x1="355.7" y1="468.5" x2="443.5" y2="403.2" stroke="#c4c4c4" stroke-width="0.7"/><line x1="443.6" y1="387.3" x2="589.2" y2="423.6" stroke="#c4c4c4" stroke-width="0.7"/><line x1="355.3" y1="451.5" x2="443.6" y2="387.3" stroke="#c4c4c4" stroke-width="0.7"/><line x1="362.6" y1="543.8" x2="359.7" y2="432.9" stroke="#c4c4c4" stroke-width="0.7"/><line x1="362.6" y1="543.8" x2="511.5" y2="592.3" stroke="#c4c4c4" stroke-width="0.7"/><line x1="439.5" y1="480.5" x2="439.5" y2="376.1" stroke="#c4c4c4" stroke-width="0.7"/><line x1="439.5" y1="480.5" x2="581.2" y2="521.4" stroke="#c4c4c4" stroke-width="0.7"/></g>
<line x1="357.9" y1="547.6" x2="507.2" y2="596.6" stroke="#4a4a4a" stroke-width="0.9"/>
<line x1="507.2" y1="596.6" x2="584.8" y2="517.8" stroke="#4a4a4a" stroke-width="0.9"/>
<line x1="584.8" y1="517.8" x2="589.9" y2="408.8" stroke="#4a4a4a" stroke-width="0.9"/>
<line x1="370.9" y1="551.9" x2="367.6" y2="554.6" stroke="#4a4a4a" stroke-width="0.9"/>
<line x1="382.2" y1="555.6" x2="379.0" y2="558.3" stroke="#4a4a4a" stroke-width="0.9"/>
<line x1="393.6" y1="559.3" x2="390.4" y2="562.1" stroke="#4a4a4a" stroke-width="0.9"/>
<line x1="405.2" y1="563.1" x2="402.0" y2="565.9" stroke="#4a4a4a" stroke-width="0.9"/>
<line x1="416.8" y1="566.9" x2="413.6" y2="569.8" stroke="#4a4a4a" stroke-width="0.9"/>
<line x1="428.6" y1="570.8" x2="425.4" y2="573.7" stroke="#4a4a4a" stroke-width="0.9"/>
<line x1="440.5" y1="574.7" x2="437.3" y2="577.6" stroke="#4a4a4a" stroke-width="0.9"/>
<line x1="452.5" y1="578.7" x2="449.4" y2="581.6" stroke="#4a4a4a" stroke-width="0.9"/>
<line x1="464.6" y1="582.6" x2="461.5" y2="585.6" stroke="#4a4a4a" stroke-width="0.9"/>
<line x1="476.8" y1="586.7" x2="473.8" y2="589.6" stroke="#4a4a4a" stroke-width="0.9"/>
<line x1="489.2" y1="590.7" x2="486.2" y2="593.7" stroke="#4a4a4a" stroke-width="0.9"/>
<line x1="501.7" y1="594.8" x2="498.7" y2="597.8" stroke="#4a4a4a" stroke-width="0.9"/>
<line x1="584.3" y1="505.3" x2="588.8" y2="505.3" stroke="#4a4a4a" stroke-width="0.9"/>
<line x1="585.1" y1="489.3" x2="589.6" y2="489.3" stroke="#4a4a4a" stroke-width="0.9"/>
<line x1="585.9" y1="473.1" x2="590.4" y2="473.1" stroke="#4a4a4a" stroke-width="0.9"/>
<line x1="586.6" y1="456.8" x2="591.1" y2="456.8" stroke="#4a4a4a" stroke-width="0.9"/>
<line x1="587.4" y1="440.3" x2="591.9" y2="440.3" stroke="#4a4a4a" stroke-width="0.9"/>
<line x1="588.2" y1="423.6" x2="592.7" y2="423.6" stroke="#4a4a4a" stroke-width="0.9"/>
<line x1="511.5" y1="592.3" x2="516.2" y2="593.9" stroke="#4a4a4a" stroke-width="0.9"/>
<line x1="581.2" y1="521.4" x2="585.7" y2="522.7" stroke="#4a4a4a" stroke-width="0.9"/>
<path d="M371.5,447.9 C375.0,448.4 385.6,449.2 392.6,451.0 C399.6,452.8 406.6,455.8 413.6,458.4 C420.6,460.9 427.6,463.4 434.6,466.3 C441.6,469.2 448.6,472.6 455.6,475.5 C462.6,478.4 470.5,481.2 476.6,483.4 C482.7,485.6 488.0,487.6 492.4,488.6 C496.8,489.6 501.4,489.3 503.2,489.4 L503.2,563.0 L503.2,563.0 C501.4,562.0 496.8,559.4 492.4,556.9 C488.0,554.4 482.7,551.0 476.6,547.7 C470.5,544.4 462.6,540.7 455.6,537.2 C448.6,533.7 441.6,529.6 434.6,526.7 C427.6,523.9 420.6,521.9 413.6,520.1 C406.6,518.4 399.5,516.4 392.6,516.2 C385.8,516.0 375.9,518.4 372.5,518.8 Z" fill="rgb(0,128,0)" fill-opacity="0.3"/>
<path d="M371.5,447.9 C375.0,448.4 385.6,449.2 392.6,451.0 C399.6,452.8 406.6,455.8 413.6,458.4 C420.6,460.9 427.6,463.4 434.6,466.3 C441.6,469.2 448.6,472.6 455.6,475.5 C462.6,478.4 470.5,481.2 476.6,483.4 C482.7,485.6 488.0,487.6 492.4,488.6 C496.8,489.6 501.4,489.3 503.2,489.4" fill="none" stroke="#158a15" stroke-width="1.5"/>
<path d="M372.5,518.8 C375.9,518.4 385.8,516.0 392.6,516.2 C399.5,516.4 406.6,518.4 413.6,520.1 C420.6,521.9 427.6,523.9 434.6,526.7 C441.6,529.6 448.6,533.7 455.6,537.2 C462.6,540.7 470.5,544.4 476.6,547.7 C482.7,551.0 488.0,554.4 492.4,556.9 C496.8,559.4 501.4,562.0 503.2,563.0" fill="none" stroke="#158a15" stroke-width="1.5"/>
<g><line x1="448.8" y1="399.6" x2="448.8" y2="445.0" stroke="rgba(255,0,0,0.82)" stroke-width="3.5" stroke-linecap="round"/><circle cx="448.5" cy="410.0" r="1.95" fill="rgba(255,0,0,0.82)"/><circle cx="448.6" cy="417.4" r="1.95" fill="rgba(255,0,0,0.82)"/><circle cx="448.7" cy="402.1" r="1.95" fill="rgba(255,0,0,0.82)"/><circle cx="449.0" cy="441.6" r="1.95" fill="rgba(255,0,0,0.82)"/><circle cx="448.6" cy="434.6" r="1.95" fill="rgba(255,0,0,0.82)"/><circle cx="448.6" cy="424.0" r="1.95" fill="rgba(255,0,0,0.82)"/><line x1="454.1" y1="400.4" x2="454.1" y2="446.7" stroke="rgba(255,0,0,0.83)" stroke-width="3.5" stroke-linecap="round"/><circle cx="453.8" cy="408.1" r="1.95" fill="rgba(255,0,0,0.83)"/><circle cx="454.4" cy="410.0" r="1.95" fill="rgba(255,0,0,0.83)"/><circle cx="454.3" cy="439.1" r="1.95" fill="rgba(255,0,0,0.83)"/><circle cx="453.9" cy="437.8" r="1.95" fill="rgba(255,0,0,0.83)"/><circle cx="454.2" cy="414.6" r="1.95" fill="rgba(255,0,0,0.83)"/><circle cx="454.3" cy="434.5" r="1.95" fill="rgba(255,0,0,0.83)"/><circle cx="454.1" cy="397.5" r="1.8" fill="rgba(255,0,0,0.52)"/><line x1="459.3" y1="399.4" x2="459.3" y2="447.5" stroke="rgba(255,0,0,0.84)" stroke-width="3.5" stroke-linecap="round"/><circle cx="459.0" cy="442.1" r="1.95" fill="rgba(255,0,0,0.84)"/><circle cx="459.4" cy="428.7" r="1.95" fill="rgba(255,0,0,0.84)"/><circle cx="459.1" cy="423.8" r="1.95" fill="rgba(255,0,0,0.84)"/><circle cx="459.0" cy="422.2" r="1.95" fill="rgba(255,0,0,0.84)"/><circle cx="459.6" cy="444.8" r="1.95" fill="rgba(255,0,0,0.84)"/><circle cx="459.2" cy="425.8" r="1.95" fill="rgba(255,0,0,0.84)"/><circle cx="459.4" cy="443.6" r="1.95" fill="rgba(255,0,0,0.84)"/><line x1="464.6" y1="398.5" x2="464.6" y2="449.2" stroke="rgba(255,0,0,0.85)" stroke-width="3.5" stroke-linecap="round"/><circle cx="464.8" cy="443.6" r="1.95" fill="rgba(255,0,0,0.85)"/><circle cx="464.5" cy="424.3" r="1.95" fill="rgba(255,0,0,0.85)"/><circle cx="464.6" cy="428.9" r="1.95" fill="rgba(255,0,0,0.85)"/><circle cx="464.5" cy="406.3" r="1.95" fill="rgba(255,0,0,0.85)"/><circle cx="464.3" cy="440.0" r="1.95" fill="rgba(255,0,0,0.85)"/><circle cx="464.7" cy="400.4" r="1.95" fill="rgba(255,0,0,0.85)"/><circle cx="464.6" cy="412.5" r="1.95" fill="rgba(255,0,0,0.85)"/><line x1="469.8" y1="400.6" x2="469.8" y2="450.0" stroke="rgba(255,0,0,0.86)" stroke-width="3.5" stroke-linecap="round"/><circle cx="469.7" cy="423.9" r="1.95" fill="rgba(255,0,0,0.86)"/><circle cx="469.6" cy="450.4" r="1.95" fill="rgba(255,0,0,0.86)"/><circle cx="469.6" cy="420.9" r="1.95" fill="rgba(255,0,0,0.86)"/><circle cx="469.6" cy="432.0" r="1.95" fill="rgba(255,0,0,0.86)"/><circle cx="470.0" cy="418.0" r="1.95" fill="rgba(255,0,0,0.86)"/><circle cx="469.8" cy="416.3" r="1.95" fill="rgba(255,0,0,0.86)"/><circle cx="469.5" cy="445.7" r="1.95" fill="rgba(255,0,0,0.86)"/><line x1="475.3" y1="402.8" x2="475.3" y2="453.5" stroke="rgba(255,0,0,0.87)" stroke-width="3.5" stroke-linecap="round"/><circle cx="475.1" cy="405.5" r="1.95" fill="rgba(255,0,0,0.87)"/><circle cx="475.4" cy="441.9" r="1.95" fill="rgba(255,0,0,0.87)"/><circle cx="475.2" cy="414.6" r="1.95" fill="rgba(255,0,0,0.87)"/><circle cx="475.3" cy="411.5" r="1.95" fill="rgba(255,0,0,0.87)"/><circle cx="475.4" cy="404.5" r="1.95" fill="rgba(255,0,0,0.87)"/><circle cx="475.6" cy="448.6" r="1.95" fill="rgba(255,0,0,0.87)"/><circle cx="475.6" cy="440.3" r="1.95" fill="rgba(255,0,0,0.87)"/><line x1="480.8" y1="404.6" x2="480.8" y2="455.2" stroke="rgba(255,0,0,0.88)" stroke-width="3.5" stroke-linecap="round"/><circle cx="480.7" cy="405.1" r="1.95" fill="rgba(255,0,0,0.88)"/><circle cx="481.0" cy="454.0" r="1.95" fill="rgba(255,0,0,0.88)"/><circle cx="481.1" cy="425.3" r="1.95" fill="rgba(255,0,0,0.88)"/><circle cx="481.0" cy="436.1" r="1.95" fill="rgba(255,0,0,0.88)"/><circle cx="480.6" cy="419.3" r="1.95" fill="rgba(255,0,0,0.88)"/><circle cx="480.5" cy="427.0" r="1.95" fill="rgba(255,0,0,0.88)"/><circle cx="481.1" cy="423.8" r="1.95" fill="rgba(255,0,0,0.88)"/><line x1="486.0" y1="406.7" x2="486.0" y2="456.9" stroke="rgba(255,0,0,0.89)" stroke-width="3.5" stroke-linecap="round"/><circle cx="485.7" cy="423.2" r="1.95" fill="rgba(255,0,0,0.89)"/><circle cx="485.8" cy="408.5" r="1.95" fill="rgba(255,0,0,0.89)"/><circle cx="485.9" cy="446.4" r="1.95" fill="rgba(255,0,0,0.89)"/><circle cx="485.7" cy="421.1" r="1.95" fill="rgba(255,0,0,0.89)"/><circle cx="485.9" cy="456.5" r="1.95" fill="rgba(255,0,0,0.89)"/><circle cx="485.7" cy="416.9" r="1.95" fill="rgba(255,0,0,0.89)"/><circle cx="485.8" cy="409.1" r="1.95" fill="rgba(255,0,0,0.89)"/><circle cx="486.0" cy="460.0" r="1.8" fill="rgba(255,0,0,0.67)"/><line x1="491.3" y1="408.8" x2="491.3" y2="457.8" stroke="rgba(255,0,0,0.90)" stroke-width="3.5" stroke-linecap="round"/><circle cx="491.1" cy="442.1" r="1.95" fill="rgba(255,0,0,0.90)"/><circle cx="491.3" cy="410.3" r="1.95" fill="rgba(255,0,0,0.90)"/><circle cx="491.6" cy="420.8" r="1.95" fill="rgba(255,0,0,0.90)"/><circle cx="491.3" cy="414.4" r="1.95" fill="rgba(255,0,0,0.90)"/><circle cx="491.2" cy="447.0" r="1.95" fill="rgba(255,0,0,0.90)"/><circle cx="491.3" cy="457.7" r="1.95" fill="rgba(255,0,0,0.90)"/><circle cx="491.2" cy="420.4" r="1.95" fill="rgba(255,0,0,0.90)"/><circle cx="491.3" cy="406.2" r="1.8" fill="rgba(255,0,0,0.69)"/><circle cx="491.3" cy="464.8" r="1.8" fill="rgba(255,0,0,0.69)"/><line x1="496.7" y1="411.5" x2="496.7" y2="459.1" stroke="rgba(255,0,0,0.91)" stroke-width="3.5" stroke-linecap="round"/><circle cx="496.6" cy="412.8" r="1.95" fill="rgba(255,0,0,0.91)"/><circle cx="497.0" cy="423.1" r="1.95" fill="rgba(255,0,0,0.91)"/><circle cx="496.7" cy="451.4" r="1.95" fill="rgba(255,0,0,0.91)"/><circle cx="496.5" cy="412.5" r="1.95" fill="rgba(255,0,0,0.91)"/><circle cx="496.5" cy="422.8" r="1.95" fill="rgba(255,0,0,0.91)"/><circle cx="497.0" cy="422.2" r="1.95" fill="rgba(255,0,0,0.91)"/><circle cx="496.7" cy="408.7" r="1.8" fill="rgba(255,0,0,0.71)"/><circle cx="496.7" cy="467.0" r="1.8" fill="rgba(255,0,0,0.71)"/><line x1="502.3" y1="417.2" x2="502.3" y2="466.0" stroke="rgba(255,0,0,0.91)" stroke-width="3.5" stroke-linecap="round"/><circle cx="502.0" cy="423.8" r="1.95" fill="rgba(255,0,0,0.91)"/><circle cx="502.3" cy="462.9" r="1.95" fill="rgba(255,0,0,0.91)"/><circle cx="502.2" cy="466.0" r="1.95" fill="rgba(255,0,0,0.91)"/><circle cx="502.4" cy="461.6" r="1.95" fill="rgba(255,0,0,0.91)"/><circle cx="502.5" cy="456.1" r="1.95" fill="rgba(255,0,0,0.91)"/><circle cx="502.0" cy="441.3" r="1.95" fill="rgba(255,0,0,0.91)"/><circle cx="502.6" cy="427.2" r="1.95" fill="rgba(255,0,0,0.91)"/><circle cx="502.3" cy="413.6" r="1.8" fill="rgba(255,0,0,0.74)"/><line x1="507.8" y1="424.1" x2="507.8" y2="466.9" stroke="rgba(255,0,0,0.92)" stroke-width="3.5" stroke-linecap="round"/><circle cx="508.1" cy="463.0" r="1.95" fill="rgba(255,0,0,0.92)"/><circle cx="507.9" cy="438.4" r="1.95" fill="rgba(255,0,0,0.92)"/><circle cx="507.9" cy="458.6" r="1.95" fill="rgba(255,0,0,0.92)"/><circle cx="507.8" cy="459.3" r="1.95" fill="rgba(255,0,0,0.92)"/><circle cx="507.9" cy="452.3" r="1.95" fill="rgba(255,0,0,0.92)"/><circle cx="508.1" cy="435.4" r="1.95" fill="rgba(255,0,0,0.92)"/><circle cx="507.8" cy="416.2" r="1.8" fill="rgba(255,0,0,0.76)"/><line x1="513.3" y1="426.7" x2="513.3" y2="466.0" stroke="rgba(255,0,0,0.93)" stroke-width="3.5" stroke-linecap="round"/><circle cx="513.0" cy="464.8" r="1.95" fill="rgba(255,0,0,0.93)"/><circle cx="513.6" cy="465.4" r="1.95" fill="rgba(255,0,0,0.93)"/><circle cx="513.0" cy="453.2" r="1.95" fill="rgba(255,0,0,0.93)"/><circle cx="513.0" cy="462.5" r="1.95" fill="rgba(255,0,0,0.93)"/><circle cx="513.4" cy="465.3" r="1.95" fill="rgba(255,0,0,0.93)"/><circle cx="513.3" cy="417.0" r="1.8" fill="rgba(255,0,0,0.78)"/><line x1="518.8" y1="428.5" x2="518.8" y2="468.7" stroke="rgba(255,0,0,0.94)" stroke-width="3.5" stroke-linecap="round"/><circle cx="518.6" cy="430.5" r="1.95" fill="rgba(255,0,0,0.94)"/><circle cx="518.8" cy="454.2" r="1.95" fill="rgba(255,0,0,0.94)"/><circle cx="519.1" cy="458.8" r="1.95" fill="rgba(255,0,0,0.94)"/><circle cx="518.5" cy="437.0" r="1.95" fill="rgba(255,0,0,0.94)"/><circle cx="518.5" cy="466.0" r="1.95" fill="rgba(255,0,0,0.94)"/><circle cx="518.8" cy="418.3" r="1.8" fill="rgba(255,0,0,0.81)"/><line x1="524.3" y1="430.2" x2="524.3" y2="470.4" stroke="rgba(255,0,0,0.95)" stroke-width="3.5" stroke-linecap="round"/><circle cx="524.0" cy="465.8" r="1.95" fill="rgba(255,0,0,0.95)"/><circle cx="524.5" cy="463.1" r="1.95" fill="rgba(255,0,0,0.95)"/><circle cx="524.3" cy="465.9" r="1.95" fill="rgba(255,0,0,0.95)"/><circle cx="524.1" cy="465.9" r="1.95" fill="rgba(255,0,0,0.95)"/><circle cx="524.2" cy="457.4" r="1.95" fill="rgba(255,0,0,0.95)"/><circle cx="524.3" cy="421.0" r="1.8" fill="rgba(255,0,0,0.83)"/><line x1="530.0" y1="432.1" x2="530.0" y2="473.1" stroke="rgba(255,0,0,0.96)" stroke-width="3.5" stroke-linecap="round"/><circle cx="530.2" cy="469.1" r="1.95" fill="rgba(255,0,0,0.96)"/><circle cx="530.0" cy="451.4" r="1.95" fill="rgba(255,0,0,0.96)"/><circle cx="529.7" cy="432.7" r="1.95" fill="rgba(255,0,0,0.96)"/><circle cx="530.0" cy="456.6" r="1.95" fill="rgba(255,0,0,0.96)"/><circle cx="530.1" cy="467.9" r="1.95" fill="rgba(255,0,0,0.96)"/><circle cx="529.9" cy="437.4" r="1.95" fill="rgba(255,0,0,0.96)"/><circle cx="530.0" cy="423.7" r="1.8" fill="rgba(255,0,0,0.86)"/><line x1="535.5" y1="433.8" x2="535.5" y2="474.9" stroke="rgba(255,0,0,0.97)" stroke-width="3.5" stroke-linecap="round"/><circle cx="535.5" cy="465.6" r="1.95" fill="rgba(255,0,0,0.97)"/><circle cx="535.7" cy="433.8" r="1.95" fill="rgba(255,0,0,0.97)"/><circle cx="535.2" cy="468.2" r="1.95" fill="rgba(255,0,0,0.97)"/><circle cx="535.4" cy="456.2" r="1.95" fill="rgba(255,0,0,0.97)"/><circle cx="535.4" cy="466.5" r="1.95" fill="rgba(255,0,0,0.97)"/><circle cx="535.5" cy="443.2" r="1.95" fill="rgba(255,0,0,0.97)"/><circle cx="535.5" cy="425.5" r="1.8" fill="rgba(255,0,0,0.88)"/><line x1="540.9" y1="433.8" x2="540.9" y2="477.5" stroke="rgba(255,0,0,0.98)" stroke-width="3.5" stroke-linecap="round"/><circle cx="540.6" cy="476.5" r="1.95" fill="rgba(255,0,0,0.98)"/><circle cx="541.0" cy="438.4" r="1.95" fill="rgba(255,0,0,0.98)"/><circle cx="540.9" cy="472.9" r="1.95" fill="rgba(255,0,0,0.98)"/><circle cx="541.2" cy="452.7" r="1.95" fill="rgba(255,0,0,0.98)"/><circle cx="540.6" cy="468.0" r="1.95" fill="rgba(255,0,0,0.98)"/><circle cx="540.7" cy="472.7" r="1.95" fill="rgba(255,0,0,0.98)"/><circle cx="540.9" cy="426.3" r="1.8" fill="rgba(255,0,0,0.90)"/><line x1="546.6" y1="433.9" x2="546.6" y2="476.7" stroke="rgba(255,0,0,0.99)" stroke-width="3.5" stroke-linecap="round"/><circle cx="546.8" cy="446.6" r="1.95" fill="rgba(255,0,0,0.99)"/><circle cx="546.8" cy="451.9" r="1.95" fill="rgba(255,0,0,0.99)"/><circle cx="546.9" cy="440.7" r="1.95" fill="rgba(255,0,0,0.99)"/><circle cx="546.4" cy="441.1" r="1.95" fill="rgba(255,0,0,0.99)"/><circle cx="546.5" cy="455.0" r="1.95" fill="rgba(255,0,0,0.99)"/><circle cx="546.9" cy="457.1" r="1.95" fill="rgba(255,0,0,0.99)"/><circle cx="546.6" cy="427.3" r="1.8" fill="rgba(255,0,0,0.93)"/><line x1="552.5" y1="435.8" x2="552.5" y2="476.0" stroke="rgba(255,0,0,1.00)" stroke-width="3.5" stroke-linecap="round"/><circle cx="552.2" cy="464.5" r="1.95" fill="rgba(255,0,0,1.00)"/><circle cx="552.5" cy="448.1" r="1.95" fill="rgba(255,0,0,1.00)"/><circle cx="552.7" cy="455.3" r="1.95" fill="rgba(255,0,0,1.00)"/><circle cx="552.2" cy="455.2" r="1.95" fill="rgba(255,0,0,1.00)"/><circle cx="552.7" cy="445.4" r="1.95" fill="rgba(255,0,0,1.00)"/><circle cx="552.5" cy="429.2" r="1.8" fill="rgba(255,0,0,0.95)"/></g>
<circle cx="507.4" cy="479.1" r="1.7" fill="rgba(255,0,0,0.9)"/>
<circle cx="512.5" cy="489.6" r="1.7" fill="rgba(255,0,0,0.9)"/>
<circle cx="517.7" cy="497.0" r="1.7" fill="rgba(255,0,0,0.9)"/>
<circle cx="523.4" cy="481.3" r="1.7" fill="rgba(255,0,0,0.9)"/>
<circle cx="523.4" cy="487.4" r="1.7" fill="rgba(255,0,0,0.9)"/>
<circle cx="528.7" cy="484.3" r="1.7" fill="rgba(255,0,0,0.9)"/>
<circle cx="528.7" cy="491.3" r="1.7" fill="rgba(255,0,0,0.9)"/>
<circle cx="534.3" cy="485.7" r="1.7" fill="rgba(255,0,0,0.9)"/>
<circle cx="534.3" cy="490.0" r="1.7" fill="rgba(255,0,0,0.9)"/>
<circle cx="539.9" cy="483.5" r="1.7" fill="rgba(255,0,0,0.9)"/>
<circle cx="539.9" cy="489.2" r="1.7" fill="rgba(255,0,0,0.9)"/>
<circle cx="545.3" cy="486.1" r="1.7" fill="rgba(255,0,0,0.9)"/>
<line x1="357.5" y1="545.4" x2="351.7" y2="405.3" stroke="#000" stroke-width="1.5"/>
<polygon points="351.7,405.3 354.5,411.2 349.4,411.4" fill="#000"/>
<line x1="441.6" y1="481.5" x2="439.7" y2="342.2" stroke="#000" stroke-width="1.5"/>
<polygon points="439.7,342.2 442.4,348.2 437.2,348.2" fill="#000"/>
<line x1="362.8" y1="483.2" x2="578.7" y2="548.4" stroke="#000" stroke-width="1.5"/>
<polygon points="578.7,548.4 572.2,549.2 573.7,544.2" fill="#000"/>
<line x1="440.8" y1="423.1" x2="625.4" y2="474.4" stroke="#000" stroke-width="1.5"/>
<polygon points="625.4,474.4 618.9,475.3 620.3,470.3" fill="#000"/>
<path d="M372.8,484.1 C384.9,488.4 423.4,502.5 445.1,509.6 C466.8,516.7 493.3,523.9 502.9,526.7" fill="none" stroke="#2a44d4" stroke-width="1.5" stroke-dasharray="2.6 1.5"/>
<path d="M371.7,483.0l2.2,2.2m0,-2.2l-2.2,2.2M376.2,484.6l2.2,2.2m0,-2.2l-2.2,2.2M380.7,486.2l2.2,2.2m0,-2.2l-2.2,2.2M385.2,487.7l2.2,2.2m0,-2.2l-2.2,2.2M389.6,489.3l2.2,2.2m0,-2.2l-2.2,2.2M394.1,490.9l2.2,2.2m0,-2.2l-2.2,2.2M398.6,492.5l2.2,2.2m0,-2.2l-2.2,2.2M403.1,494.1l2.2,2.2m0,-2.2l-2.2,2.2M407.6,495.7l2.2,2.2m0,-2.2l-2.2,2.2M412.1,497.2l2.2,2.2m0,-2.2l-2.2,2.2M416.6,498.8l2.2,2.2m0,-2.2l-2.2,2.2M421.0,500.4l2.2,2.2m0,-2.2l-2.2,2.2M425.5,502.0l2.2,2.2m0,-2.2l-2.2,2.2M430.0,503.6l2.2,2.2m0,-2.2l-2.2,2.2M434.5,505.2l2.2,2.2m0,-2.2l-2.2,2.2M439.0,506.7l2.2,2.2m0,-2.2l-2.2,2.2M443.5,508.3l2.2,2.2m0,-2.2l-2.2,2.2M448.0,509.7l2.2,2.2m0,-2.2l-2.2,2.2M452.5,511.0l2.2,2.2m0,-2.2l-2.2,2.2M456.9,512.3l2.2,2.2m0,-2.2l-2.2,2.2M461.4,513.7l2.2,2.2m0,-2.2l-2.2,2.2M465.9,515.0l2.2,2.2m0,-2.2l-2.2,2.2M470.4,516.3l2.2,2.2m0,-2.2l-2.2,2.2M474.9,517.6l2.2,2.2m0,-2.2l-2.2,2.2M479.4,519.0l2.2,2.2m0,-2.2l-2.2,2.2M483.9,520.3l2.2,2.2m0,-2.2l-2.2,2.2M488.3,521.6l2.2,2.2m0,-2.2l-2.2,2.2M492.8,522.9l2.2,2.2m0,-2.2l-2.2,2.2M497.3,524.3l2.2,2.2m0,-2.2l-2.2,2.2M501.8,525.6l2.2,2.2m0,-2.2l-2.2,2.2" stroke="#2040d0" stroke-width="1.0" fill="none"/>
<g fill="#111" stroke="#111" stroke-width="0.25"><text x="365.2" y="353.4" font-size="16.8" text-anchor="start">(d)</text><text x="367.6" y="417.8" font-size="14.5" text-anchor="start">Height/µm</text><text x="444.2" y="359.5" font-size="14.5" text-anchor="start">Height/µm</text><text x="349.9" y="566.1" font-size="14.5" text-anchor="start">6.7</text><text x="369.6" y="571.4" font-size="14.5" text-anchor="start">34.8</text><text x="394.6" y="580.6" font-size="14.5" text-anchor="start">62.9</text><text x="419.5" y="587.2" font-size="14.5" text-anchor="start">91.0</text><text x="443.2" y="596.3" font-size="14.5" text-anchor="start">119.2</text><text x="614.1" y="428.7" font-size="14.5" text-anchor="end">0.4</text><text x="614.1" y="445.5" font-size="14.5" text-anchor="end">0.2</text><text x="614.1" y="462.3" font-size="14.5" text-anchor="end">0.0</text><text x="614.1" y="483.4" font-size="14.5" text-anchor="end">-0.2</text><text x="614.1" y="498.8" font-size="14.5" text-anchor="end">-0.4</text><text x="614.1" y="514.1" font-size="14.5" text-anchor="end">-0.6</text></g>
<text x="562.6" y="569.6" font-size="15" fill="#111" stroke="#111" stroke-width="0.25">x/10<tspan dy="-5" dx="0.3" font-size="14.5">−3</tspan><tspan dy="5" dx="0.8" font-size="15">µm</tspan></text>
<rect x="532.7" y="337.5" width="150.0" height="63.0" rx="8" ry="8" fill="#fff" stroke="#4f73b8" stroke-width="1.1"/><circle cx="542.8" cy="349.8" r="2.2" fill="#f43030"/><circle cx="542.8" cy="349.8" r="0.8" fill="#f9a0a0"/><text x="556.2" y="354.8" font-size="13.1" fill="#111" stroke="#111" stroke-width="0.15">Real Roughness Height</text><line x1="537.2" y1="363.0" x2="549.2" y2="363.0" stroke="#229022" stroke-width="1.1"/><text x="556.2" y="368.2" font-size="13.1" fill="#111" stroke="#111" stroke-width="0.15">95% Range</text><line x1="537.2" y1="377.2" x2="550.2" y2="377.2" stroke="#4f7fdc" stroke-width="1.2" stroke-dasharray="2.6 1.2"/><text x="556.2" y="381.6" font-size="13.1" fill="#111" stroke="#111" stroke-width="0.15">Mean Prediction</text><line x1="537.7" y1="391.3" x2="549.7" y2="391.3" stroke="#3a3a3a" stroke-width="1.8"/><text x="556.2" y="395.0" font-size="13.1" fill="#111" stroke="#111" stroke-width="0.15">Zero Line</text>
<line x1="361.6" y1="604.6" x2="628.8" y2="604.6" stroke="#1a1a1a" stroke-width="1.3"/><line x1="361.6" y1="632.2" x2="628.8" y2="632.2" stroke="#1a1a1a" stroke-width="1.3"/><line x1="361.6" y1="660.7" x2="628.8" y2="660.7" stroke="#1a1a1a" stroke-width="1.3"/><g fill="#111" stroke="#111" stroke-width="0.15"><text x="462.0" y="621.3" font-size="12.9" text-anchor="middle">feed</text><text x="527.9" y="621.3" font-size="12.9" text-anchor="middle">velocity</text><text x="595.5" y="621.3" font-size="12.9" text-anchor="middle">sequence</text><text x="394.7" y="648.0" font-size="12.9" text-anchor="middle">parameter</text><text x="462.0" y="648.0" font-size="12.9" text-anchor="middle">4mm/min</text><text x="527.9" y="648.0" font-size="12.9" text-anchor="middle">28.25m/s</text><text x="595.5" y="648.0" font-size="12.9" text-anchor="middle">NO.50</text></g>
<polygon points="24.5,817.0 113.8,751.2 114.6,855.0 29.2,926.7" fill="#f6f6f6"/>
<polygon points="113.8,751.2 259.2,787.6 254.1,895.2 114.6,855.0" fill="#efefef"/>
<polygon points="29.2,926.7 114.6,855.0 254.1,895.2 176.2,974.5" fill="#f3f3f3"/>
<g><line x1="126.0" y1="858.3" x2="125.6" y2="754.1" stroke="#c4c4c4" stroke-width="0.7"/><line x1="39.9" y1="930.2" x2="126.0" y2="858.3" stroke="#c4c4c4" stroke-width="0.7"/><line x1="138.7" y1="862.0" x2="138.8" y2="757.4" stroke="#c4c4c4" stroke-width="0.7"/><line x1="53.6" y1="934.7" x2="138.7" y2="862.0" stroke="#c4c4c4" stroke-width="0.7"/><line x1="151.4" y1="865.7" x2="152.1" y2="760.8" stroke="#c4c4c4" stroke-width="0.7"/><line x1="67.4" y1="939.2" x2="151.4" y2="865.7" stroke="#c4c4c4" stroke-width="0.7"/><line x1="164.4" y1="869.4" x2="165.6" y2="764.1" stroke="#c4c4c4" stroke-width="0.7"/><line x1="81.4" y1="943.7" x2="164.4" y2="869.4" stroke="#c4c4c4" stroke-width="0.7"/><line x1="177.4" y1="873.1" x2="179.2" y2="767.5" stroke="#c4c4c4" stroke-width="0.7"/><line x1="95.5" y1="948.3" x2="177.4" y2="873.1" stroke="#c4c4c4" stroke-width="0.7"/><line x1="190.5" y1="876.9" x2="192.9" y2="771.0" stroke="#c4c4c4" stroke-width="0.7"/><line x1="109.7" y1="952.9" x2="190.5" y2="876.9" stroke="#c4c4c4" stroke-width="0.7"/><line x1="203.8" y1="880.8" x2="206.7" y2="774.4" stroke="#c4c4c4" stroke-width="0.7"/><line x1="124.1" y1="957.6" x2="203.8" y2="880.8" stroke="#c4c4c4" stroke-width="0.7"/><line x1="217.2" y1="884.6" x2="220.7" y2="777.9" stroke="#c4c4c4" stroke-width="0.7"/><line x1="138.7" y1="962.3" x2="217.2" y2="884.6" stroke="#c4c4c4" stroke-width="0.7"/><line x1="230.7" y1="888.5" x2="234.8" y2="781.5" stroke="#c4c4c4" stroke-width="0.7"/><line x1="153.4" y1="967.1" x2="230.7" y2="888.5" stroke="#c4c4c4" stroke-width="0.7"/><line x1="244.4" y1="892.5" x2="249.1" y2="785.0" stroke="#c4c4c4" stroke-width="0.7"/><line x1="168.3" y1="971.9" x2="244.4" y2="892.5" stroke="#c4c4c4" stroke-width="0.7"/><line x1="114.6" y1="849.1" x2="254.4" y2="889.1" stroke="#c4c4c4" stroke-width="0.7"/><line x1="28.9" y1="920.5" x2="114.6" y2="849.1" stroke="#c4c4c4" stroke-width="0.7"/><line x1="114.4" y1="834.1" x2="255.1" y2="873.6" stroke="#c4c4c4" stroke-width="0.7"/><line x1="28.2" y1="904.7" x2="114.4" y2="834.1" stroke="#c4c4c4" stroke-width="0.7"/><line x1="114.3" y1="818.9" x2="255.8" y2="857.8" stroke="#c4c4c4" stroke-width="0.7"/><line x1="27.5" y1="888.6" x2="114.3" y2="818.9" stroke="#c4c4c4" stroke-width="0.7"/><line x1="114.2" y1="803.5" x2="256.6" y2="841.9" stroke="#c4c4c4" stroke-width="0.7"/><line x1="26.8" y1="872.4" x2="114.2" y2="803.5" stroke="#c4c4c4" stroke-width="0.7"/><line x1="114.1" y1="788.0" x2="257.4" y2="825.8" stroke="#c4c4c4" stroke-width="0.7"/><line x1="26.1" y1="855.9" x2="114.1" y2="788.0" stroke="#c4c4c4" stroke-width="0.7"/><line x1="113.9" y1="772.2" x2="258.1" y2="809.4" stroke="#c4c4c4" stroke-width="0.7"/><line x1="25.4" y1="839.3" x2="113.9" y2="772.2" stroke="#c4c4c4" stroke-width="0.7"/><line x1="113.8" y1="756.3" x2="258.9" y2="792.9" stroke="#c4c4c4" stroke-width="0.7"/><line x1="24.7" y1="822.4" x2="113.8" y2="756.3" stroke="#c4c4c4" stroke-width="0.7"/><line x1="33.8" y1="922.9" x2="29.3" y2="813.4" stroke="#c4c4c4" stroke-width="0.7"/><line x1="33.8" y1="922.9" x2="180.5" y2="970.2" stroke="#c4c4c4" stroke-width="0.7"/><line x1="110.7" y1="858.4" x2="109.6" y2="754.2" stroke="#c4c4c4" stroke-width="0.7"/><line x1="110.7" y1="858.4" x2="250.5" y2="898.9" stroke="#c4c4c4" stroke-width="0.7"/></g>
<line x1="29.2" y1="926.7" x2="176.2" y2="974.5" stroke="#4a4a4a" stroke-width="0.9"/>
<line x1="176.2" y1="974.5" x2="254.1" y2="895.2" stroke="#4a4a4a" stroke-width="0.9"/>
<line x1="254.1" y1="895.2" x2="259.2" y2="787.6" stroke="#4a4a4a" stroke-width="0.9"/>
<line x1="39.9" y1="930.2" x2="36.7" y2="933.0" stroke="#4a4a4a" stroke-width="0.9"/>
<line x1="53.6" y1="934.7" x2="50.4" y2="937.4" stroke="#4a4a4a" stroke-width="0.9"/>
<line x1="67.4" y1="939.2" x2="64.2" y2="942.0" stroke="#4a4a4a" stroke-width="0.9"/>
<line x1="81.4" y1="943.7" x2="78.2" y2="946.5" stroke="#4a4a4a" stroke-width="0.9"/>
<line x1="95.5" y1="948.3" x2="92.3" y2="951.1" stroke="#4a4a4a" stroke-width="0.9"/>
<line x1="109.7" y1="952.9" x2="106.6" y2="955.8" stroke="#4a4a4a" stroke-width="0.9"/>
<line x1="124.1" y1="957.6" x2="121.1" y2="960.5" stroke="#4a4a4a" stroke-width="0.9"/>
<line x1="138.7" y1="962.3" x2="135.7" y2="965.3" stroke="#4a4a4a" stroke-width="0.9"/>
<line x1="153.4" y1="967.1" x2="150.4" y2="970.1" stroke="#4a4a4a" stroke-width="0.9"/>
<line x1="168.3" y1="971.9" x2="165.3" y2="974.9" stroke="#4a4a4a" stroke-width="0.9"/>
<line x1="253.4" y1="889.1" x2="257.9" y2="889.1" stroke="#4a4a4a" stroke-width="0.9"/>
<line x1="254.1" y1="873.6" x2="258.6" y2="873.6" stroke="#4a4a4a" stroke-width="0.9"/>
<line x1="254.8" y1="857.8" x2="259.3" y2="857.8" stroke="#4a4a4a" stroke-width="0.9"/>
<line x1="255.6" y1="841.9" x2="260.1" y2="841.9" stroke="#4a4a4a" stroke-width="0.9"/>
<line x1="256.4" y1="825.8" x2="260.9" y2="825.8" stroke="#4a4a4a" stroke-width="0.9"/>
<line x1="257.1" y1="809.4" x2="261.6" y2="809.4" stroke="#4a4a4a" stroke-width="0.9"/>
<line x1="257.9" y1="792.9" x2="262.4" y2="792.9" stroke="#4a4a4a" stroke-width="0.9"/>
<line x1="180.5" y1="970.2" x2="185.1" y2="971.7" stroke="#4a4a4a" stroke-width="0.9"/>
<line x1="250.5" y1="898.9" x2="254.9" y2="900.2" stroke="#4a4a4a" stroke-width="0.9"/>
<path d="M40.7,842.3 C42.0,841.6 46.2,838.2 48.6,837.9 C51.0,837.6 53.0,840.2 55.2,840.5 C57.4,840.8 59.4,838.5 61.8,839.7 C64.2,840.9 67.0,845.9 69.6,847.6 C72.2,849.4 75.1,848.7 77.5,850.2 C79.9,851.7 81.7,855.3 84.1,856.8 C86.5,858.2 89.4,858.2 92.0,858.9 C94.6,859.5 97.3,860.6 99.9,860.7 C102.5,860.8 105.1,858.5 107.7,859.4 C110.3,860.3 113.2,864.5 115.6,866.0 C118.0,867.5 120.5,867.7 122.2,868.6 C123.9,869.5 125.0,870.8 125.6,871.2 L125.6,931.7 L125.6,931.7 C124.6,931.2 121.5,930.1 119.6,929.0 C117.7,927.9 116.3,926.6 114.3,925.1 C112.3,923.6 109.9,920.5 107.7,919.9 C105.5,919.2 103.6,921.4 101.2,921.2 C98.8,921.0 95.7,919.6 93.3,918.5 C90.9,917.4 88.9,916.1 86.7,914.6 C84.5,913.1 82.7,911.0 80.1,909.3 C77.5,907.5 73.7,905.9 70.9,904.1 C68.1,902.4 65.7,899.7 63.1,898.8 C60.5,897.9 57.6,899.4 55.2,898.8 C52.8,898.1 50.8,894.9 48.6,894.9 C46.4,894.9 43.1,898.1 42.0,898.8 Z" fill="rgb(0,128,0)" fill-opacity="0.3"/>
<path d="M40.7,842.3 C42.0,841.6 46.2,838.2 48.6,837.9 C51.0,837.6 53.0,840.2 55.2,840.5 C57.4,840.8 59.4,838.5 61.8,839.7 C64.2,840.9 67.0,845.9 69.6,847.6 C72.2,849.4 75.1,848.7 77.5,850.2 C79.9,851.7 81.7,855.3 84.1,856.8 C86.5,858.2 89.4,858.2 92.0,858.9 C94.6,859.5 97.3,860.6 99.9,860.7 C102.5,860.8 105.1,858.5 107.7,859.4 C110.3,860.3 113.2,864.5 115.6,866.0 C118.0,867.5 120.5,867.7 122.2,868.6 C123.9,869.5 125.0,870.8 125.6,871.2" fill="none" stroke="#158a15" stroke-width="1.5"/>
<path d="M42.0,898.8 C43.1,898.1 46.4,894.9 48.6,894.9 C50.8,894.9 52.8,898.1 55.2,898.8 C57.6,899.4 60.5,897.9 63.1,898.8 C65.7,899.7 68.1,902.4 70.9,904.1 C73.7,905.9 77.5,907.5 80.1,909.3 C82.7,911.0 84.5,913.1 86.7,914.6 C88.9,916.1 90.9,917.4 93.3,918.5 C95.7,919.6 98.8,921.0 101.2,921.2 C103.6,921.4 105.5,919.2 107.7,919.9 C109.9,920.5 112.3,923.6 114.3,925.1 C116.3,926.6 117.7,927.9 119.6,929.0 C121.5,930.1 124.6,931.2 125.6,931.7" fill="none" stroke="#158a15" stroke-width="1.5"/>
<g><line x1="120.5" y1="789.3" x2="120.5" y2="815.7" stroke="rgba(255,0,0,0.82)" stroke-width="3.5" stroke-linecap="round"/><circle cx="120.7" cy="805.9" r="1.95" fill="rgba(255,0,0,0.82)"/><circle cx="120.8" cy="810.6" r="1.95" fill="rgba(255,0,0,0.82)"/><circle cx="120.8" cy="809.1" r="1.95" fill="rgba(255,0,0,0.82)"/><circle cx="120.5" cy="779.6" r="1.8" fill="rgba(255,0,0,0.50)"/><circle cx="120.5" cy="831.4" r="1.8" fill="rgba(255,0,0,0.50)"/><circle cx="120.5" cy="819.9" r="1.8" fill="rgba(255,0,0,0.50)"/><circle cx="120.5" cy="783.3" r="1.8" fill="rgba(255,0,0,0.50)"/><circle cx="120.5" cy="829.9" r="1.8" fill="rgba(255,0,0,0.50)"/><circle cx="120.5" cy="783.8" r="1.8" fill="rgba(255,0,0,0.50)"/><circle cx="120.5" cy="772.9" r="1.8" fill="rgba(255,0,0,0.50)"/><circle cx="120.5" cy="821.1" r="1.8" fill="rgba(255,0,0,0.50)"/><circle cx="120.5" cy="820.6" r="1.8" fill="rgba(255,0,0,0.50)"/><circle cx="120.5" cy="771.7" r="1.8" fill="rgba(255,0,0,0.50)"/><circle cx="120.5" cy="837.6" r="1.8" fill="rgba(255,0,0,0.50)"/><line x1="127.0" y1="786.4" x2="127.0" y2="819.6" stroke="rgba(255,0,0,0.83)" stroke-width="3.5" stroke-linecap="round"/><circle cx="126.7" cy="807.0" r="1.95" fill="rgba(255,0,0,0.83)"/><circle cx="127.2" cy="786.0" r="1.95" fill="rgba(255,0,0,0.83)"/><circle cx="126.8" cy="793.1" r="1.95" fill="rgba(255,0,0,0.83)"/><circle cx="127.2" cy="819.5" r="1.95" fill="rgba(255,0,0,0.83)"/><circle cx="127.0" cy="768.4" r="1.8" fill="rgba(255,0,0,0.52)"/><circle cx="127.0" cy="836.5" r="1.8" fill="rgba(255,0,0,0.52)"/><circle cx="127.0" cy="768.7" r="1.8" fill="rgba(255,0,0,0.52)"/><circle cx="127.0" cy="841.9" r="1.8" fill="rgba(255,0,0,0.52)"/><circle cx="127.0" cy="828.6" r="1.8" fill="rgba(255,0,0,0.52)"/><circle cx="127.0" cy="781.6" r="1.8" fill="rgba(255,0,0,0.52)"/><circle cx="127.0" cy="783.9" r="1.8" fill="rgba(255,0,0,0.52)"/><circle cx="127.0" cy="773.9" r="1.8" fill="rgba(255,0,0,0.52)"/><circle cx="127.0" cy="772.7" r="1.8" fill="rgba(255,0,0,0.52)"/><circle cx="127.0" cy="767.9" r="1.8" fill="rgba(255,0,0,0.52)"/><circle cx="127.0" cy="842.5" r="1.8" fill="rgba(255,0,0,0.52)"/><line x1="133.4" y1="787.5" x2="133.4" y2="813.8" stroke="rgba(255,0,0,0.84)" stroke-width="3.5" stroke-linecap="round"/><circle cx="133.3" cy="796.2" r="1.95" fill="rgba(255,0,0,0.84)"/><circle cx="133.4" cy="809.4" r="1.95" fill="rgba(255,0,0,0.84)"/><circle cx="133.4" cy="795.6" r="1.95" fill="rgba(255,0,0,0.84)"/><circle cx="133.4" cy="816.9" r="1.8" fill="rgba(255,0,0,0.55)"/><circle cx="133.4" cy="815.6" r="1.8" fill="rgba(255,0,0,0.55)"/><circle cx="133.4" cy="836.9" r="1.8" fill="rgba(255,0,0,0.55)"/><circle cx="133.4" cy="771.0" r="1.8" fill="rgba(255,0,0,0.55)"/><circle cx="133.4" cy="774.5" r="1.8" fill="rgba(255,0,0,0.55)"/><circle cx="133.4" cy="785.3" r="1.8" fill="rgba(255,0,0,0.55)"/><circle cx="133.4" cy="768.3" r="1.8" fill="rgba(255,0,0,0.55)"/><circle cx="133.4" cy="771.5" r="1.8" fill="rgba(255,0,0,0.55)"/><circle cx="133.4" cy="839.0" r="1.8" fill="rgba(255,0,0,0.55)"/><circle cx="133.4" cy="767.6" r="1.8" fill="rgba(255,0,0,0.55)"/><circle cx="133.4" cy="840.2" r="1.8" fill="rgba(255,0,0,0.55)"/><line x1="139.9" y1="782.7" x2="139.9" y2="813.9" stroke="rgba(255,0,0,0.85)" stroke-width="3.5" stroke-linecap="round"/><circle cx="139.8" cy="793.3" r="1.95" fill="rgba(255,0,0,0.85)"/><circle cx="140.1" cy="799.1" r="1.95" fill="rgba(255,0,0,0.85)"/><circle cx="140.0" cy="785.7" r="1.95" fill="rgba(255,0,0,0.85)"/><circle cx="140.1" cy="807.9" r="1.95" fill="rgba(255,0,0,0.85)"/><circle cx="139.9" cy="772.8" r="1.8" fill="rgba(255,0,0,0.57)"/><circle cx="139.9" cy="778.0" r="1.8" fill="rgba(255,0,0,0.57)"/><circle cx="139.9" cy="839.9" r="1.8" fill="rgba(255,0,0,0.57)"/><circle cx="139.9" cy="773.0" r="1.8" fill="rgba(255,0,0,0.57)"/><circle cx="139.9" cy="825.2" r="1.8" fill="rgba(255,0,0,0.57)"/><circle cx="139.9" cy="779.7" r="1.8" fill="rgba(255,0,0,0.57)"/><circle cx="139.9" cy="780.1" r="1.8" fill="rgba(255,0,0,0.57)"/><circle cx="139.9" cy="841.6" r="1.8" fill="rgba(255,0,0,0.57)"/><circle cx="139.9" cy="781.3" r="1.8" fill="rgba(255,0,0,0.57)"/><circle cx="139.9" cy="772.4" r="1.8" fill="rgba(255,0,0,0.57)"/><circle cx="139.9" cy="841.7" r="1.8" fill="rgba(255,0,0,0.57)"/><line x1="146.3" y1="793.4" x2="146.3" y2="815.8" stroke="rgba(255,0,0,0.86)" stroke-width="3.5" stroke-linecap="round"/><circle cx="146.3" cy="816.0" r="1.95" fill="rgba(255,0,0,0.86)"/><circle cx="146.1" cy="802.4" r="1.95" fill="rgba(255,0,0,0.86)"/><circle cx="146.5" cy="806.8" r="1.95" fill="rgba(255,0,0,0.86)"/><circle cx="146.3" cy="783.2" r="1.8" fill="rgba(255,0,0,0.59)"/><circle cx="146.3" cy="774.8" r="1.8" fill="rgba(255,0,0,0.59)"/><circle cx="146.3" cy="781.8" r="1.8" fill="rgba(255,0,0,0.59)"/><circle cx="146.3" cy="821.3" r="1.8" fill="rgba(255,0,0,0.59)"/><circle cx="146.3" cy="840.7" r="1.8" fill="rgba(255,0,0,0.59)"/><circle cx="146.3" cy="837.3" r="1.8" fill="rgba(255,0,0,0.59)"/><circle cx="146.3" cy="782.9" r="1.8" fill="rgba(255,0,0,0.59)"/><circle cx="146.3" cy="775.9" r="1.8" fill="rgba(255,0,0,0.59)"/><circle cx="146.3" cy="782.6" r="1.8" fill="rgba(255,0,0,0.59)"/><circle cx="146.3" cy="773.4" r="1.8" fill="rgba(255,0,0,0.59)"/><circle cx="146.3" cy="841.7" r="1.8" fill="rgba(255,0,0,0.59)"/><line x1="152.8" y1="788.1" x2="152.8" y2="825.6" stroke="rgba(255,0,0,0.87)" stroke-width="3.5" stroke-linecap="round"/><circle cx="153.0" cy="826.1" r="1.95" fill="rgba(255,0,0,0.87)"/><circle cx="152.7" cy="825.2" r="1.95" fill="rgba(255,0,0,0.87)"/><circle cx="152.9" cy="806.4" r="1.95" fill="rgba(255,0,0,0.87)"/><circle cx="152.6" cy="806.1" r="1.95" fill="rgba(255,0,0,0.87)"/><circle cx="152.5" cy="803.2" r="1.95" fill="rgba(255,0,0,0.87)"/><circle cx="152.8" cy="776.5" r="1.8" fill="rgba(255,0,0,0.62)"/><circle cx="152.8" cy="839.9" r="1.8" fill="rgba(255,0,0,0.62)"/><circle cx="152.8" cy="782.9" r="1.8" fill="rgba(255,0,0,0.62)"/><circle cx="152.8" cy="783.6" r="1.8" fill="rgba(255,0,0,0.62)"/><circle cx="152.8" cy="844.0" r="1.8" fill="rgba(255,0,0,0.62)"/><circle cx="152.8" cy="778.3" r="1.8" fill="rgba(255,0,0,0.62)"/><circle cx="152.8" cy="841.1" r="1.8" fill="rgba(255,0,0,0.62)"/><circle cx="152.8" cy="842.2" r="1.8" fill="rgba(255,0,0,0.62)"/><circle cx="152.8" cy="779.1" r="1.8" fill="rgba(255,0,0,0.62)"/><circle cx="152.8" cy="776.4" r="1.8" fill="rgba(255,0,0,0.62)"/><circle cx="152.8" cy="846.2" r="1.8" fill="rgba(255,0,0,0.62)"/><line x1="159.2" y1="789.5" x2="159.2" y2="828.6" stroke="rgba(255,0,0,0.88)" stroke-width="3.5" stroke-linecap="round"/><circle cx="159.2" cy="800.3" r="1.95" fill="rgba(255,0,0,0.88)"/><circle cx="159.3" cy="819.8" r="1.95" fill="rgba(255,0,0,0.88)"/><circle cx="159.5" cy="800.8" r="1.95" fill="rgba(255,0,0,0.88)"/><circle cx="159.3" cy="815.0" r="1.95" fill="rgba(255,0,0,0.88)"/><circle cx="159.2" cy="789.5" r="1.95" fill="rgba(255,0,0,0.88)"/><circle cx="159.2" cy="781.3" r="1.8" fill="rgba(255,0,0,0.64)"/><circle cx="159.2" cy="779.9" r="1.8" fill="rgba(255,0,0,0.64)"/><circle cx="159.2" cy="847.0" r="1.8" fill="rgba(255,0,0,0.64)"/><circle cx="159.2" cy="781.5" r="1.8" fill="rgba(255,0,0,0.64)"/><circle cx="159.2" cy="847.5" r="1.8" fill="rgba(255,0,0,0.64)"/><circle cx="159.2" cy="779.7" r="1.8" fill="rgba(255,0,0,0.64)"/><circle cx="159.2" cy="845.0" r="1.8" fill="rgba(255,0,0,0.64)"/><circle cx="159.2" cy="849.8" r="1.8" fill="rgba(255,0,0,0.64)"/><circle cx="159.2" cy="842.0" r="1.8" fill="rgba(255,0,0,0.64)"/><circle cx="159.2" cy="778.3" r="1.8" fill="rgba(255,0,0,0.64)"/><circle cx="159.2" cy="850.5" r="1.8" fill="rgba(255,0,0,0.64)"/><line x1="165.7" y1="793.5" x2="165.7" y2="830.6" stroke="rgba(255,0,0,0.89)" stroke-width="3.5" stroke-linecap="round"/><circle cx="165.9" cy="799.3" r="1.95" fill="rgba(255,0,0,0.89)"/><circle cx="165.7" cy="828.7" r="1.95" fill="rgba(255,0,0,0.89)"/><circle cx="165.8" cy="819.4" r="1.95" fill="rgba(255,0,0,0.89)"/><circle cx="165.4" cy="820.8" r="1.95" fill="rgba(255,0,0,0.89)"/><circle cx="165.7" cy="822.7" r="1.95" fill="rgba(255,0,0,0.89)"/><circle cx="165.7" cy="843.1" r="1.8" fill="rgba(255,0,0,0.67)"/><circle cx="165.7" cy="850.6" r="1.8" fill="rgba(255,0,0,0.67)"/><circle cx="165.7" cy="849.5" r="1.8" fill="rgba(255,0,0,0.67)"/><circle cx="165.7" cy="790.1" r="1.8" fill="rgba(255,0,0,0.67)"/><circle cx="165.7" cy="784.0" r="1.8" fill="rgba(255,0,0,0.67)"/><circle cx="165.7" cy="783.6" r="1.8" fill="rgba(255,0,0,0.67)"/><circle cx="165.7" cy="833.0" r="1.8" fill="rgba(255,0,0,0.67)"/><circle cx="165.7" cy="789.1" r="1.8" fill="rgba(255,0,0,0.67)"/><circle cx="165.7" cy="790.5" r="1.8" fill="rgba(255,0,0,0.67)"/><circle cx="165.7" cy="780.3" r="1.8" fill="rgba(255,0,0,0.67)"/><circle cx="165.7" cy="855.0" r="1.8" fill="rgba(255,0,0,0.67)"/><line x1="172.1" y1="793.5" x2="172.1" y2="833.5" stroke="rgba(255,0,0,0.90)" stroke-width="3.5" stroke-linecap="round"/><circle cx="171.9" cy="806.0" r="1.95" fill="rgba(255,0,0,0.90)"/><circle cx="171.8" cy="800.9" r="1.95" fill="rgba(255,0,0,0.90)"/><circle cx="172.0" cy="812.1" r="1.95" fill="rgba(255,0,0,0.90)"/><circle cx="172.2" cy="818.1" r="1.95" fill="rgba(255,0,0,0.90)"/><circle cx="172.4" cy="802.8" r="1.95" fill="rgba(255,0,0,0.90)"/><circle cx="172.1" cy="785.9" r="1.8" fill="rgba(255,0,0,0.69)"/><circle cx="172.1" cy="785.9" r="1.8" fill="rgba(255,0,0,0.69)"/><circle cx="172.1" cy="780.4" r="1.8" fill="rgba(255,0,0,0.69)"/><circle cx="172.1" cy="792.0" r="1.8" fill="rgba(255,0,0,0.69)"/><circle cx="172.1" cy="837.0" r="1.8" fill="rgba(255,0,0,0.69)"/><circle cx="172.1" cy="842.4" r="1.8" fill="rgba(255,0,0,0.69)"/><circle cx="172.1" cy="853.4" r="1.8" fill="rgba(255,0,0,0.69)"/><circle cx="172.1" cy="844.0" r="1.8" fill="rgba(255,0,0,0.69)"/><circle cx="172.1" cy="848.1" r="1.8" fill="rgba(255,0,0,0.69)"/><circle cx="172.1" cy="778.4" r="1.8" fill="rgba(255,0,0,0.69)"/><circle cx="172.1" cy="854.0" r="1.8" fill="rgba(255,0,0,0.69)"/><line x1="178.6" y1="795.9" x2="178.6" y2="835.4" stroke="rgba(255,0,0,0.91)" stroke-width="3.5" stroke-linecap="round"/><circle cx="178.3" cy="810.4" r="1.95" fill="rgba(255,0,0,0.91)"/><circle cx="178.6" cy="819.5" r="1.95" fill="rgba(255,0,0,0.91)"/><circle cx="178.9" cy="834.2" r="1.95" fill="rgba(255,0,0,0.91)"/><circle cx="178.5" cy="820.1" r="1.95" fill="rgba(255,0,0,0.91)"/><circle cx="178.2" cy="831.6" r="1.95" fill="rgba(255,0,0,0.91)"/><circle cx="178.6" cy="789.2" r="1.8" fill="rgba(255,0,0,0.71)"/><circle cx="178.6" cy="840.1" r="1.8" fill="rgba(255,0,0,0.71)"/><circle cx="178.6" cy="854.1" r="1.8" fill="rgba(255,0,0,0.71)"/><circle cx="178.6" cy="790.4" r="1.8" fill="rgba(255,0,0,0.71)"/><circle cx="178.6" cy="791.7" r="1.8" fill="rgba(255,0,0,0.71)"/><circle cx="178.6" cy="845.1" r="1.8" fill="rgba(255,0,0,0.71)"/><circle cx="178.6" cy="854.5" r="1.8" fill="rgba(255,0,0,0.71)"/><circle cx="178.6" cy="842.7" r="1.8" fill="rgba(255,0,0,0.71)"/><circle cx="178.6" cy="847.3" r="1.8" fill="rgba(255,0,0,0.71)"/><circle cx="178.6" cy="785.6" r="1.8" fill="rgba(255,0,0,0.71)"/><circle cx="178.6" cy="855.9" r="1.8" fill="rgba(255,0,0,0.71)"/><line x1="185.0" y1="799.2" x2="185.0" y2="840.0" stroke="rgba(255,0,0,0.91)" stroke-width="3.5" stroke-linecap="round"/><circle cx="184.9" cy="816.1" r="1.95" fill="rgba(255,0,0,0.91)"/><circle cx="185.0" cy="839.8" r="1.95" fill="rgba(255,0,0,0.91)"/><circle cx="185.0" cy="810.7" r="1.95" fill="rgba(255,0,0,0.91)"/><circle cx="185.1" cy="803.8" r="1.95" fill="rgba(255,0,0,0.91)"/><circle cx="184.9" cy="817.2" r="1.95" fill="rgba(255,0,0,0.91)"/><circle cx="185.0" cy="864.8" r="1.8" fill="rgba(255,0,0,0.74)"/><circle cx="185.0" cy="795.8" r="1.8" fill="rgba(255,0,0,0.74)"/><circle cx="185.0" cy="794.2" r="1.8" fill="rgba(255,0,0,0.74)"/><circle cx="185.0" cy="849.7" r="1.8" fill="rgba(255,0,0,0.74)"/><circle cx="185.0" cy="797.6" r="1.8" fill="rgba(255,0,0,0.74)"/><circle cx="185.0" cy="851.1" r="1.8" fill="rgba(255,0,0,0.74)"/><circle cx="185.0" cy="856.1" r="1.8" fill="rgba(255,0,0,0.74)"/><circle cx="185.0" cy="859.4" r="1.8" fill="rgba(255,0,0,0.74)"/><circle cx="185.0" cy="845.6" r="1.8" fill="rgba(255,0,0,0.74)"/><circle cx="185.0" cy="794.0" r="1.8" fill="rgba(255,0,0,0.74)"/><circle cx="185.0" cy="868.8" r="1.8" fill="rgba(255,0,0,0.74)"/><line x1="191.5" y1="800.2" x2="191.5" y2="842.1" stroke="rgba(255,0,0,0.92)" stroke-width="3.5" stroke-linecap="round"/><circle cx="191.3" cy="832.3" r="1.95" fill="rgba(255,0,0,0.92)"/><circle cx="191.4" cy="822.6" r="1.95" fill="rgba(255,0,0,0.92)"/><circle cx="191.5" cy="812.4" r="1.95" fill="rgba(255,0,0,0.92)"/><circle cx="191.4" cy="819.6" r="1.95" fill="rgba(255,0,0,0.92)"/><circle cx="191.5" cy="831.6" r="1.95" fill="rgba(255,0,0,0.92)"/><circle cx="191.3" cy="801.3" r="1.95" fill="rgba(255,0,0,0.92)"/><circle cx="191.5" cy="794.4" r="1.8" fill="rgba(255,0,0,0.76)"/><circle cx="191.5" cy="859.6" r="1.8" fill="rgba(255,0,0,0.76)"/><circle cx="191.5" cy="795.0" r="1.8" fill="rgba(255,0,0,0.76)"/><circle cx="191.5" cy="796.0" r="1.8" fill="rgba(255,0,0,0.76)"/><circle cx="191.5" cy="861.8" r="1.8" fill="rgba(255,0,0,0.76)"/><circle cx="191.5" cy="794.4" r="1.8" fill="rgba(255,0,0,0.76)"/><circle cx="191.5" cy="797.0" r="1.8" fill="rgba(255,0,0,0.76)"/><circle cx="191.5" cy="850.1" r="1.8" fill="rgba(255,0,0,0.76)"/><circle cx="191.5" cy="794.8" r="1.8" fill="rgba(255,0,0,0.76)"/><circle cx="191.5" cy="794.0" r="1.8" fill="rgba(255,0,0,0.76)"/><circle cx="191.5" cy="870.3" r="1.8" fill="rgba(255,0,0,0.76)"/><line x1="197.9" y1="811.6" x2="197.9" y2="847.2" stroke="rgba(255,0,0,0.93)" stroke-width="3.5" stroke-linecap="round"/><circle cx="198.2" cy="813.5" r="1.95" fill="rgba(255,0,0,0.93)"/><circle cx="197.9" cy="836.5" r="1.95" fill="rgba(255,0,0,0.93)"/><circle cx="198.1" cy="821.6" r="1.95" fill="rgba(255,0,0,0.93)"/><circle cx="197.7" cy="844.4" r="1.95" fill="rgba(255,0,0,0.93)"/><circle cx="198.0" cy="828.6" r="1.95" fill="rgba(255,0,0,0.93)"/><circle cx="197.9" cy="805.1" r="1.8" fill="rgba(255,0,0,0.78)"/><circle cx="197.9" cy="801.5" r="1.8" fill="rgba(255,0,0,0.78)"/><circle cx="197.9" cy="850.6" r="1.8" fill="rgba(255,0,0,0.78)"/><circle cx="197.9" cy="798.6" r="1.8" fill="rgba(255,0,0,0.78)"/><circle cx="197.9" cy="865.8" r="1.8" fill="rgba(255,0,0,0.78)"/><circle cx="197.9" cy="799.8" r="1.8" fill="rgba(255,0,0,0.78)"/><circle cx="197.9" cy="872.8" r="1.8" fill="rgba(255,0,0,0.78)"/><circle cx="197.9" cy="850.0" r="1.8" fill="rgba(255,0,0,0.78)"/><circle cx="197.9" cy="855.2" r="1.8" fill="rgba(255,0,0,0.78)"/><circle cx="197.9" cy="796.4" r="1.8" fill="rgba(255,0,0,0.78)"/><circle cx="197.9" cy="872.8" r="1.8" fill="rgba(255,0,0,0.78)"/><line x1="204.4" y1="812.6" x2="204.4" y2="849.3" stroke="rgba(255,0,0,0.94)" stroke-width="3.5" stroke-linecap="round"/><circle cx="204.7" cy="836.4" r="1.95" fill="rgba(255,0,0,0.94)"/><circle cx="204.1" cy="838.9" r="1.95" fill="rgba(255,0,0,0.94)"/><circle cx="204.7" cy="823.1" r="1.95" fill="rgba(255,0,0,0.94)"/><circle cx="204.5" cy="817.7" r="1.95" fill="rgba(255,0,0,0.94)"/><circle cx="204.1" cy="827.7" r="1.95" fill="rgba(255,0,0,0.94)"/><circle cx="204.4" cy="852.2" r="1.8" fill="rgba(255,0,0,0.81)"/><circle cx="204.4" cy="806.6" r="1.8" fill="rgba(255,0,0,0.81)"/><circle cx="204.4" cy="810.8" r="1.8" fill="rgba(255,0,0,0.81)"/><circle cx="204.4" cy="873.3" r="1.8" fill="rgba(255,0,0,0.81)"/><circle cx="204.4" cy="855.8" r="1.8" fill="rgba(255,0,0,0.81)"/><circle cx="204.4" cy="807.3" r="1.8" fill="rgba(255,0,0,0.81)"/><circle cx="204.4" cy="866.6" r="1.8" fill="rgba(255,0,0,0.81)"/><circle cx="204.4" cy="863.4" r="1.8" fill="rgba(255,0,0,0.81)"/><circle cx="204.4" cy="803.1" r="1.8" fill="rgba(255,0,0,0.81)"/><circle cx="204.4" cy="800.1" r="1.8" fill="rgba(255,0,0,0.81)"/><circle cx="204.4" cy="879.6" r="1.8" fill="rgba(255,0,0,0.81)"/><line x1="210.8" y1="816.8" x2="210.8" y2="863.9" stroke="rgba(255,0,0,0.95)" stroke-width="3.5" stroke-linecap="round"/><circle cx="210.9" cy="823.5" r="1.95" fill="rgba(255,0,0,0.95)"/><circle cx="211.1" cy="840.6" r="1.95" fill="rgba(255,0,0,0.95)"/><circle cx="210.9" cy="843.0" r="1.95" fill="rgba(255,0,0,0.95)"/><circle cx="210.9" cy="828.9" r="1.95" fill="rgba(255,0,0,0.95)"/><circle cx="211.0" cy="828.5" r="1.95" fill="rgba(255,0,0,0.95)"/><circle cx="210.6" cy="841.1" r="1.95" fill="rgba(255,0,0,0.95)"/><circle cx="210.8" cy="810.3" r="1.8" fill="rgba(255,0,0,0.83)"/><circle cx="210.8" cy="868.2" r="1.8" fill="rgba(255,0,0,0.83)"/><circle cx="210.8" cy="875.2" r="1.8" fill="rgba(255,0,0,0.83)"/><circle cx="210.8" cy="806.8" r="1.8" fill="rgba(255,0,0,0.83)"/><circle cx="210.8" cy="813.8" r="1.8" fill="rgba(255,0,0,0.83)"/><circle cx="210.8" cy="869.2" r="1.8" fill="rgba(255,0,0,0.83)"/><circle cx="210.8" cy="872.8" r="1.8" fill="rgba(255,0,0,0.83)"/><circle cx="210.8" cy="805.4" r="1.8" fill="rgba(255,0,0,0.83)"/><circle cx="210.8" cy="806.1" r="1.8" fill="rgba(255,0,0,0.83)"/><circle cx="210.8" cy="803.2" r="1.8" fill="rgba(255,0,0,0.83)"/><circle cx="210.8" cy="879.6" r="1.8" fill="rgba(255,0,0,0.83)"/><line x1="217.3" y1="820.9" x2="217.3" y2="860.7" stroke="rgba(255,0,0,0.96)" stroke-width="3.5" stroke-linecap="round"/><circle cx="217.0" cy="822.6" r="1.95" fill="rgba(255,0,0,0.96)"/><circle cx="217.4" cy="859.3" r="1.95" fill="rgba(255,0,0,0.96)"/><circle cx="217.0" cy="829.5" r="1.95" fill="rgba(255,0,0,0.96)"/><circle cx="217.4" cy="860.1" r="1.95" fill="rgba(255,0,0,0.96)"/><circle cx="217.0" cy="853.9" r="1.95" fill="rgba(255,0,0,0.96)"/><circle cx="217.3" cy="869.0" r="1.8" fill="rgba(255,0,0,0.86)"/><circle cx="217.3" cy="813.3" r="1.8" fill="rgba(255,0,0,0.86)"/><circle cx="217.3" cy="868.9" r="1.8" fill="rgba(255,0,0,0.86)"/><circle cx="217.3" cy="816.9" r="1.8" fill="rgba(255,0,0,0.86)"/><circle cx="217.3" cy="873.8" r="1.8" fill="rgba(255,0,0,0.86)"/><circle cx="217.3" cy="870.3" r="1.8" fill="rgba(255,0,0,0.86)"/><circle cx="217.3" cy="871.7" r="1.8" fill="rgba(255,0,0,0.86)"/><circle cx="217.3" cy="872.6" r="1.8" fill="rgba(255,0,0,0.86)"/><circle cx="217.3" cy="869.7" r="1.8" fill="rgba(255,0,0,0.86)"/><circle cx="217.3" cy="803.2" r="1.8" fill="rgba(255,0,0,0.86)"/><circle cx="217.3" cy="879.0" r="1.8" fill="rgba(255,0,0,0.86)"/><line x1="223.7" y1="826.1" x2="223.7" y2="861.7" stroke="rgba(255,0,0,0.97)" stroke-width="3.5" stroke-linecap="round"/><circle cx="223.4" cy="829.2" r="1.95" fill="rgba(255,0,0,0.97)"/><circle cx="223.4" cy="833.0" r="1.95" fill="rgba(255,0,0,0.97)"/><circle cx="223.7" cy="858.1" r="1.95" fill="rgba(255,0,0,0.97)"/><circle cx="223.4" cy="853.4" r="1.95" fill="rgba(255,0,0,0.97)"/><circle cx="224.0" cy="842.8" r="1.95" fill="rgba(255,0,0,0.97)"/><circle cx="223.7" cy="870.4" r="1.8" fill="rgba(255,0,0,0.88)"/><circle cx="223.7" cy="822.3" r="1.8" fill="rgba(255,0,0,0.88)"/><circle cx="223.7" cy="820.8" r="1.8" fill="rgba(255,0,0,0.88)"/><circle cx="223.7" cy="815.8" r="1.8" fill="rgba(255,0,0,0.88)"/><circle cx="223.7" cy="865.8" r="1.8" fill="rgba(255,0,0,0.88)"/><circle cx="223.7" cy="818.1" r="1.8" fill="rgba(255,0,0,0.88)"/><circle cx="223.7" cy="817.8" r="1.8" fill="rgba(255,0,0,0.88)"/><circle cx="223.7" cy="813.8" r="1.8" fill="rgba(255,0,0,0.88)"/><circle cx="223.7" cy="805.8" r="1.8" fill="rgba(255,0,0,0.88)"/><circle cx="223.7" cy="804.5" r="1.8" fill="rgba(255,0,0,0.88)"/><circle cx="223.7" cy="878.4" r="1.8" fill="rgba(255,0,0,0.88)"/><line x1="230.2" y1="829.2" x2="230.2" y2="861.6" stroke="rgba(255,0,0,0.98)" stroke-width="3.5" stroke-linecap="round"/><circle cx="230.5" cy="841.0" r="1.95" fill="rgba(255,0,0,0.98)"/><circle cx="230.3" cy="851.7" r="1.95" fill="rgba(255,0,0,0.98)"/><circle cx="230.5" cy="844.4" r="1.95" fill="rgba(255,0,0,0.98)"/><circle cx="230.3" cy="832.6" r="1.95" fill="rgba(255,0,0,0.98)"/><circle cx="230.2" cy="812.2" r="1.8" fill="rgba(255,0,0,0.90)"/><circle cx="230.2" cy="866.1" r="1.8" fill="rgba(255,0,0,0.90)"/><circle cx="230.2" cy="827.5" r="1.8" fill="rgba(255,0,0,0.90)"/><circle cx="230.2" cy="825.7" r="1.8" fill="rgba(255,0,0,0.90)"/><circle cx="230.2" cy="806.6" r="1.8" fill="rgba(255,0,0,0.90)"/><circle cx="230.2" cy="819.8" r="1.8" fill="rgba(255,0,0,0.90)"/><circle cx="230.2" cy="820.5" r="1.8" fill="rgba(255,0,0,0.90)"/><circle cx="230.2" cy="875.4" r="1.8" fill="rgba(255,0,0,0.90)"/><circle cx="230.2" cy="821.5" r="1.8" fill="rgba(255,0,0,0.90)"/><circle cx="230.2" cy="806.1" r="1.8" fill="rgba(255,0,0,0.90)"/><circle cx="230.2" cy="879.4" r="1.8" fill="rgba(255,0,0,0.90)"/><line x1="236.6" y1="830.1" x2="236.6" y2="869.9" stroke="rgba(255,0,0,0.99)" stroke-width="3.5" stroke-linecap="round"/><circle cx="237.0" cy="857.1" r="1.95" fill="rgba(255,0,0,0.99)"/><circle cx="236.6" cy="856.0" r="1.95" fill="rgba(255,0,0,0.99)"/><circle cx="236.3" cy="869.4" r="1.95" fill="rgba(255,0,0,0.99)"/><circle cx="236.8" cy="832.1" r="1.95" fill="rgba(255,0,0,0.99)"/><circle cx="236.3" cy="846.4" r="1.95" fill="rgba(255,0,0,0.99)"/><circle cx="236.6" cy="880.7" r="1.8" fill="rgba(255,0,0,0.93)"/><circle cx="236.6" cy="874.9" r="1.8" fill="rgba(255,0,0,0.93)"/><circle cx="236.6" cy="826.7" r="1.8" fill="rgba(255,0,0,0.93)"/><circle cx="236.6" cy="876.3" r="1.8" fill="rgba(255,0,0,0.93)"/><circle cx="236.6" cy="871.4" r="1.8" fill="rgba(255,0,0,0.93)"/><circle cx="236.6" cy="827.4" r="1.8" fill="rgba(255,0,0,0.93)"/><circle cx="236.6" cy="827.1" r="1.8" fill="rgba(255,0,0,0.93)"/><circle cx="236.6" cy="817.9" r="1.8" fill="rgba(255,0,0,0.93)"/><circle cx="236.6" cy="827.4" r="1.8" fill="rgba(255,0,0,0.93)"/><circle cx="236.6" cy="805.6" r="1.8" fill="rgba(255,0,0,0.93)"/><circle cx="236.6" cy="880.8" r="1.8" fill="rgba(255,0,0,0.93)"/><line x1="243.1" y1="829.5" x2="243.1" y2="860.4" stroke="rgba(255,0,0,1.00)" stroke-width="3.5" stroke-linecap="round"/><circle cx="243.4" cy="830.2" r="1.95" fill="rgba(255,0,0,1.00)"/><circle cx="243.1" cy="834.7" r="1.95" fill="rgba(255,0,0,1.00)"/><circle cx="243.1" cy="841.8" r="1.95" fill="rgba(255,0,0,1.00)"/><circle cx="243.0" cy="831.7" r="1.95" fill="rgba(255,0,0,1.00)"/><circle cx="243.1" cy="815.2" r="1.8" fill="rgba(255,0,0,0.95)"/><circle cx="243.1" cy="874.6" r="1.8" fill="rgba(255,0,0,0.95)"/><circle cx="243.1" cy="866.9" r="1.8" fill="rgba(255,0,0,0.95)"/><circle cx="243.1" cy="815.3" r="1.8" fill="rgba(255,0,0,0.95)"/><circle cx="243.1" cy="814.6" r="1.8" fill="rgba(255,0,0,0.95)"/><circle cx="243.1" cy="813.6" r="1.8" fill="rgba(255,0,0,0.95)"/><circle cx="243.1" cy="880.2" r="1.8" fill="rgba(255,0,0,0.95)"/><circle cx="243.1" cy="817.2" r="1.8" fill="rgba(255,0,0,0.95)"/><circle cx="243.1" cy="867.1" r="1.8" fill="rgba(255,0,0,0.95)"/><circle cx="243.1" cy="806.5" r="1.8" fill="rgba(255,0,0,0.95)"/><circle cx="243.1" cy="881.6" r="1.8" fill="rgba(255,0,0,0.95)"/></g>
<line x1="34.9" y1="921.2" x2="29.2" y2="757.0" stroke="#000" stroke-width="1.5"/>
<polygon points="29.2,757.0 32.0,762.9 26.8,763.1" fill="#000"/>
<line x1="109.8" y1="859.4" x2="108.3" y2="719.2" stroke="#000" stroke-width="1.5"/>
<polygon points="108.3,719.2 111.0,725.2 105.8,725.2" fill="#000"/>
<line x1="32.8" y1="868.6" x2="255.5" y2="934.9" stroke="#000" stroke-width="1.5"/>
<polygon points="255.5,934.9 249.0,935.7 250.5,930.7" fill="#000"/>
<line x1="110.0" y1="806.6" x2="293.4" y2="857.3" stroke="#000" stroke-width="1.5"/>
<polygon points="293.4,857.3 286.9,858.2 288.3,853.2" fill="#000"/>
<polyline points="47.3,868.6 50.5,866.0 53.9,869.9 59.1,869.4 67.0,879.1 77.5,879.9 85.4,887.8 95.9,888.3 103.8,890.9 111.7,889.6 115.6,898.3 120.9,897.5 125.6,902.8" fill="none" stroke="#2448d8" stroke-width="1" stroke-dasharray="2.2 1.2"/>
<path d="M46.1,867.4l2.4,2.4m0,-2.4l-2.4,2.4M49.8,865.4l2.4,2.4m0,-2.4l-2.4,2.4M53.6,868.6l2.4,2.4m0,-2.4l-2.4,2.4M57.3,868.3l2.4,2.4m0,-2.4l-2.4,2.4M61.0,872.0l2.4,2.4m0,-2.4l-2.4,2.4M64.7,876.6l2.4,2.4m0,-2.4l-2.4,2.4M68.5,878.1l2.4,2.4m0,-2.4l-2.4,2.4M72.2,878.4l2.4,2.4m0,-2.4l-2.4,2.4M75.9,878.7l2.4,2.4m0,-2.4l-2.4,2.4M79.7,882.1l2.4,2.4m0,-2.4l-2.4,2.4M83.4,885.8l2.4,2.4m0,-2.4l-2.4,2.4M87.1,886.7l2.4,2.4m0,-2.4l-2.4,2.4M90.8,886.9l2.4,2.4m0,-2.4l-2.4,2.4M94.6,887.1l2.4,2.4m0,-2.4l-2.4,2.4M98.3,888.3l2.4,2.4m0,-2.4l-2.4,2.4M102.0,889.5l2.4,2.4m0,-2.4l-2.4,2.4M105.8,889.2l2.4,2.4m0,-2.4l-2.4,2.4M109.5,888.6l2.4,2.4m0,-2.4l-2.4,2.4M113.2,894.5l2.4,2.4m0,-2.4l-2.4,2.4M116.9,896.7l2.4,2.4m0,-2.4l-2.4,2.4M120.7,897.4l2.4,2.4m0,-2.4l-2.4,2.4M124.4,901.6l2.4,2.4m0,-2.4l-2.4,2.4" stroke="#1c3cd4" stroke-width="1" fill="none"/>
<g fill="#111" stroke="#111" stroke-width="0.25"><text x="27.3" y="733.5" font-size="16.8" text-anchor="start">(e)</text><text x="32.3" y="775.4" font-size="14.5" text-anchor="start">Height/µm</text><text x="112.4" y="735.5" font-size="14.5" text-anchor="start">Height/µm</text><text x="20.9" y="946.1" font-size="14.5" text-anchor="start">9.2</text><text x="46.7" y="955.3" font-size="14.5" text-anchor="start">48.1</text><text x="75.6" y="964.0" font-size="14.5" text-anchor="start">87.0</text><text x="104.5" y="973.2" font-size="14.5" text-anchor="start">125.9</text><text x="133.9" y="984.7" font-size="14.5" text-anchor="start">164.8</text><text x="281.0" y="796.9" font-size="14.5" text-anchor="end">1.5</text><text x="281.0" y="814.3" font-size="14.5" text-anchor="end">1.0</text><text x="281.0" y="831.5" font-size="14.5" text-anchor="end">0.5</text><text x="281.0" y="848.2" font-size="14.5" text-anchor="end">0.0</text><text x="281.0" y="864.8" font-size="14.5" text-anchor="end">-0.5</text><text x="281.0" y="881.5" font-size="14.5" text-anchor="end">-1.0</text><text x="281.0" y="897.6" font-size="14.5" text-anchor="end">-1.5</text></g>
<text x="230.3" y="951.5" font-size="15" fill="#111" stroke="#111" stroke-width="0.25">x/10<tspan dy="-5" dx="0.3" font-size="14.5">−3</tspan><tspan dy="5" dx="0.8" font-size="15">µm</tspan></text>
<rect x="198.0" y="712.6" width="151.0" height="62.9" rx="8" ry="8" fill="#fff" stroke="#4f73b8" stroke-width="1.1"/><circle cx="208.1" cy="724.9" r="2.2" fill="#f43030"/><circle cx="208.1" cy="724.9" r="0.8" fill="#f9a0a0"/><text x="221.5" y="729.9" font-size="13.1" fill="#111" stroke="#111" stroke-width="0.15">Real Roughness Height</text><line x1="202.5" y1="738.1" x2="214.5" y2="738.1" stroke="#229022" stroke-width="1.1"/><text x="221.5" y="743.3" font-size="13.1" fill="#111" stroke="#111" stroke-width="0.15">95% Range</text><line x1="202.5" y1="752.3" x2="215.5" y2="752.3" stroke="#4f7fdc" stroke-width="1.2" stroke-dasharray="2.6 1.2"/><text x="221.5" y="756.7" font-size="13.1" fill="#111" stroke="#111" stroke-width="0.15">Mean Prediction</text><line x1="203.0" y1="766.4" x2="215.0" y2="766.4" stroke="#3a3a3a" stroke-width="1.8"/><text x="221.5" y="770.1" font-size="13.1" fill="#111" stroke="#111" stroke-width="0.15">Zero Line</text>
<line x1="19.1" y1="988.2" x2="285.4" y2="988.2" stroke="#1a1a1a" stroke-width="1.3"/><line x1="19.1" y1="1016.2" x2="285.4" y2="1016.2" stroke="#1a1a1a" stroke-width="1.3"/><line x1="19.1" y1="1043.6" x2="285.4" y2="1043.6" stroke="#1a1a1a" stroke-width="1.3"/><g fill="#111" stroke="#111" stroke-width="0.15"><text x="118.7" y="1004.5" font-size="12.9" text-anchor="middle">feed</text><text x="185.2" y="1004.5" font-size="12.9" text-anchor="middle">velocity</text><text x="252.0" y="1004.5" font-size="12.9" text-anchor="middle">sequence</text><text x="51.6" y="1032.0" font-size="12.9" text-anchor="middle">parameter</text><text x="118.7" y="1032.0" font-size="12.9" text-anchor="middle">7mm/min</text><text x="185.2" y="1032.0" font-size="12.9" text-anchor="middle">21.01m/s</text><text x="252.0" y="1032.0" font-size="12.9" text-anchor="middle">NO.1</text></g>
<polygon points="366.5,812.9 453.6,751.2 453.0,855.3 368.1,924.5" fill="#f6f6f6"/>
<polygon points="453.6,751.2 597.2,786.0 592.9,895.8 453.0,855.3" fill="#efefef"/>
<polygon points="368.1,924.5 453.0,855.3 592.9,895.8 515.2,973.5" fill="#f3f3f3"/>
<g><line x1="464.0" y1="858.5" x2="464.9" y2="753.9" stroke="#c4c4c4" stroke-width="0.7"/><line x1="375.9" y1="927.1" x2="464.0" y2="858.5" stroke="#c4c4c4" stroke-width="0.7"/><line x1="476.7" y1="862.1" x2="477.9" y2="757.1" stroke="#c4c4c4" stroke-width="0.7"/><line x1="389.4" y1="931.6" x2="476.7" y2="862.1" stroke="#c4c4c4" stroke-width="0.7"/><line x1="489.5" y1="865.9" x2="491.0" y2="760.3" stroke="#c4c4c4" stroke-width="0.7"/><line x1="403.0" y1="936.1" x2="489.5" y2="865.9" stroke="#c4c4c4" stroke-width="0.7"/><line x1="502.5" y1="869.6" x2="504.3" y2="763.5" stroke="#c4c4c4" stroke-width="0.7"/><line x1="416.9" y1="940.7" x2="502.5" y2="869.6" stroke="#c4c4c4" stroke-width="0.7"/><line x1="515.6" y1="873.4" x2="517.8" y2="766.8" stroke="#c4c4c4" stroke-width="0.7"/><line x1="430.9" y1="945.4" x2="515.6" y2="873.4" stroke="#c4c4c4" stroke-width="0.7"/><line x1="528.9" y1="877.2" x2="531.4" y2="770.1" stroke="#c4c4c4" stroke-width="0.7"/><line x1="445.1" y1="950.1" x2="528.9" y2="877.2" stroke="#c4c4c4" stroke-width="0.7"/><line x1="542.3" y1="881.1" x2="545.2" y2="773.4" stroke="#c4c4c4" stroke-width="0.7"/><line x1="459.4" y1="954.9" x2="542.3" y2="881.1" stroke="#c4c4c4" stroke-width="0.7"/><line x1="555.9" y1="885.1" x2="559.1" y2="776.8" stroke="#c4c4c4" stroke-width="0.7"/><line x1="474.0" y1="959.8" x2="555.9" y2="885.1" stroke="#c4c4c4" stroke-width="0.7"/><line x1="569.6" y1="889.0" x2="573.2" y2="780.2" stroke="#c4c4c4" stroke-width="0.7"/><line x1="488.8" y1="964.7" x2="569.6" y2="889.0" stroke="#c4c4c4" stroke-width="0.7"/><line x1="583.5" y1="893.1" x2="587.5" y2="783.7" stroke="#c4c4c4" stroke-width="0.7"/><line x1="503.7" y1="969.7" x2="583.5" y2="893.1" stroke="#c4c4c4" stroke-width="0.7"/><line x1="453.1" y1="839.2" x2="593.6" y2="878.9" stroke="#c4c4c4" stroke-width="0.7"/><line x1="367.8" y1="907.3" x2="453.1" y2="839.2" stroke="#c4c4c4" stroke-width="0.7"/><line x1="453.2" y1="826.6" x2="594.1" y2="865.6" stroke="#c4c4c4" stroke-width="0.7"/><line x1="367.6" y1="893.8" x2="453.2" y2="826.6" stroke="#c4c4c4" stroke-width="0.7"/><line x1="453.2" y1="813.9" x2="594.6" y2="852.1" stroke="#c4c4c4" stroke-width="0.7"/><line x1="367.4" y1="880.1" x2="453.2" y2="813.9" stroke="#c4c4c4" stroke-width="0.7"/><line x1="453.3" y1="801.0" x2="595.1" y2="838.6" stroke="#c4c4c4" stroke-width="0.7"/><line x1="367.2" y1="866.4" x2="453.3" y2="801.0" stroke="#c4c4c4" stroke-width="0.7"/><line x1="453.4" y1="788.1" x2="595.7" y2="825.0" stroke="#c4c4c4" stroke-width="0.7"/><line x1="367.0" y1="852.6" x2="453.4" y2="788.1" stroke="#c4c4c4" stroke-width="0.7"/><line x1="453.5" y1="775.2" x2="596.2" y2="811.4" stroke="#c4c4c4" stroke-width="0.7"/><line x1="366.8" y1="838.7" x2="453.5" y2="775.2" stroke="#c4c4c4" stroke-width="0.7"/><line x1="453.5" y1="762.1" x2="596.7" y2="797.6" stroke="#c4c4c4" stroke-width="0.7"/><line x1="366.6" y1="824.7" x2="453.5" y2="762.1" stroke="#c4c4c4" stroke-width="0.7"/><line x1="372.7" y1="920.7" x2="371.2" y2="809.5" stroke="#c4c4c4" stroke-width="0.7"/><line x1="372.7" y1="920.7" x2="519.4" y2="969.3" stroke="#c4c4c4" stroke-width="0.7"/><line x1="449.1" y1="858.5" x2="449.6" y2="754.0" stroke="#c4c4c4" stroke-width="0.7"/><line x1="449.1" y1="858.5" x2="589.3" y2="899.4" stroke="#c4c4c4" stroke-width="0.7"/></g>
<line x1="368.1" y1="924.5" x2="515.2" y2="973.5" stroke="#4a4a4a" stroke-width="0.9"/>
<line x1="515.2" y1="973.5" x2="592.9" y2="895.8" stroke="#4a4a4a" stroke-width="0.9"/>
<line x1="592.9" y1="895.8" x2="597.2" y2="786.0" stroke="#4a4a4a" stroke-width="0.9"/>
<line x1="375.9" y1="927.1" x2="372.7" y2="929.7" stroke="#4a4a4a" stroke-width="0.9"/>
<line x1="389.4" y1="931.6" x2="386.2" y2="934.3" stroke="#4a4a4a" stroke-width="0.9"/>
<line x1="403.0" y1="936.1" x2="399.9" y2="938.8" stroke="#4a4a4a" stroke-width="0.9"/>
<line x1="416.9" y1="940.7" x2="413.7" y2="943.5" stroke="#4a4a4a" stroke-width="0.9"/>
<line x1="430.9" y1="945.4" x2="427.7" y2="948.2" stroke="#4a4a4a" stroke-width="0.9"/>
<line x1="445.1" y1="950.1" x2="442.0" y2="952.9" stroke="#4a4a4a" stroke-width="0.9"/>
<line x1="459.4" y1="954.9" x2="456.4" y2="957.8" stroke="#4a4a4a" stroke-width="0.9"/>
<line x1="474.0" y1="959.8" x2="470.9" y2="962.7" stroke="#4a4a4a" stroke-width="0.9"/>
<line x1="488.8" y1="964.7" x2="485.7" y2="967.6" stroke="#4a4a4a" stroke-width="0.9"/>
<line x1="503.7" y1="969.7" x2="500.7" y2="972.6" stroke="#4a4a4a" stroke-width="0.9"/>
<line x1="592.6" y1="878.9" x2="597.1" y2="878.9" stroke="#4a4a4a" stroke-width="0.9"/>
<line x1="593.1" y1="865.6" x2="597.6" y2="865.6" stroke="#4a4a4a" stroke-width="0.9"/>
<line x1="593.6" y1="852.1" x2="598.1" y2="852.1" stroke="#4a4a4a" stroke-width="0.9"/>
<line x1="594.1" y1="838.6" x2="598.6" y2="838.6" stroke="#4a4a4a" stroke-width="0.9"/>
<line x1="594.7" y1="825.0" x2="599.2" y2="825.0" stroke="#4a4a4a" stroke-width="0.9"/>
<line x1="595.2" y1="811.4" x2="599.7" y2="811.4" stroke="#4a4a4a" stroke-width="0.9"/>
<line x1="595.7" y1="797.6" x2="600.2" y2="797.6" stroke="#4a4a4a" stroke-width="0.9"/>
<line x1="519.4" y1="969.3" x2="524.1" y2="970.8" stroke="#4a4a4a" stroke-width="0.9"/>
<line x1="589.3" y1="899.4" x2="593.8" y2="900.7" stroke="#4a4a4a" stroke-width="0.9"/>
<path d="M378.9,825.8 C379.2,826.3 379.5,828.5 380.7,828.9 C381.9,829.2 384.0,827.8 386.0,827.9 C388.0,828.0 390.4,829.1 392.6,829.7 C394.8,830.3 396.9,831.1 399.1,831.5 C401.3,831.9 403.5,831.7 405.7,832.3 C407.9,832.9 410.6,834.9 412.3,835.0 C414.1,835.1 414.7,832.5 416.2,833.1 C417.7,833.8 420.0,837.1 421.5,838.9 C423.0,840.6 423.9,843.1 425.4,843.6 C426.9,844.1 428.9,842.1 430.7,842.1 C432.4,842.1 434.1,842.5 435.9,843.6 C437.6,844.7 439.4,847.5 441.2,848.9 C442.9,850.3 444.6,851.7 446.4,852.0 C448.1,852.3 450.8,850.9 451.7,850.7 L451.7,933.5 L451.7,933.5 C450.6,933.1 447.1,932.0 445.1,930.9 C443.1,929.8 441.6,928.4 439.9,926.9 C438.1,925.4 436.4,922.4 434.6,921.7 C432.8,921.1 431.1,923.2 429.3,923.0 C427.6,922.8 425.9,921.9 424.1,920.4 C422.4,918.9 420.3,914.7 418.8,913.8 C417.3,912.9 416.6,915.1 414.9,915.1 C413.1,915.1 410.5,914.6 408.3,913.8 C406.1,913.0 404.0,911.0 401.8,910.4 C399.6,909.8 397.6,910.4 395.2,909.9 C392.8,909.4 389.8,907.9 387.3,907.2 C384.8,906.5 381.2,906.1 380.0,905.9 Z" fill="rgb(0,128,0)" fill-opacity="0.3"/>
<path d="M378.9,825.8 C379.2,826.3 379.5,828.5 380.7,828.9 C381.9,829.2 384.0,827.8 386.0,827.9 C388.0,828.0 390.4,829.1 392.6,829.7 C394.8,830.3 396.9,831.1 399.1,831.5 C401.3,831.9 403.5,831.7 405.7,832.3 C407.9,832.9 410.6,834.9 412.3,835.0 C414.1,835.1 414.7,832.5 416.2,833.1 C417.7,833.8 420.0,837.1 421.5,838.9 C423.0,840.6 423.9,843.1 425.4,843.6 C426.9,844.1 428.9,842.1 430.7,842.1 C432.4,842.1 434.1,842.5 435.9,843.6 C437.6,844.7 439.4,847.5 441.2,848.9 C442.9,850.3 444.6,851.7 446.4,852.0 C448.1,852.3 450.8,850.9 451.7,850.7" fill="none" stroke="#158a15" stroke-width="1.5"/>
<path d="M380.0,905.9 C381.2,906.1 384.8,906.5 387.3,907.2 C389.8,907.9 392.8,909.4 395.2,909.9 C397.6,910.4 399.6,909.8 401.8,910.4 C404.0,911.0 406.1,913.0 408.3,913.8 C410.5,914.6 413.1,915.1 414.9,915.1 C416.6,915.1 417.3,912.9 418.8,913.8 C420.3,914.7 422.4,918.9 424.1,920.4 C425.9,921.9 427.6,922.8 429.3,923.0 C431.1,923.2 432.8,921.1 434.6,921.7 C436.4,922.4 438.1,925.4 439.9,926.9 C441.6,928.4 443.1,929.8 445.1,930.9 C447.1,932.0 450.6,933.1 451.7,933.5" fill="none" stroke="#158a15" stroke-width="1.5"/>
<g><line x1="459.2" y1="785.0" x2="459.2" y2="831.6" stroke="rgba(255,0,0,0.82)" stroke-width="3.5" stroke-linecap="round"/><circle cx="459.4" cy="822.3" r="1.95" fill="rgba(255,0,0,0.82)"/><circle cx="459.0" cy="807.6" r="1.95" fill="rgba(255,0,0,0.82)"/><circle cx="459.3" cy="784.6" r="1.95" fill="rgba(255,0,0,0.82)"/><circle cx="459.4" cy="806.9" r="1.95" fill="rgba(255,0,0,0.82)"/><circle cx="459.4" cy="802.3" r="1.95" fill="rgba(255,0,0,0.82)"/><circle cx="459.4" cy="797.5" r="1.95" fill="rgba(255,0,0,0.82)"/><circle cx="459.2" cy="837.4" r="1.8" fill="rgba(255,0,0,0.50)"/><circle cx="459.2" cy="840.1" r="1.8" fill="rgba(255,0,0,0.50)"/><circle cx="459.2" cy="780.3" r="1.8" fill="rgba(255,0,0,0.50)"/><circle cx="459.2" cy="835.9" r="1.8" fill="rgba(255,0,0,0.50)"/><circle cx="459.2" cy="840.1" r="1.8" fill="rgba(255,0,0,0.50)"/><circle cx="459.2" cy="836.6" r="1.8" fill="rgba(255,0,0,0.50)"/><circle cx="459.2" cy="778.8" r="1.8" fill="rgba(255,0,0,0.50)"/><circle cx="459.2" cy="777.7" r="1.8" fill="rgba(255,0,0,0.50)"/><circle cx="459.2" cy="842.9" r="1.8" fill="rgba(255,0,0,0.50)"/><line x1="465.7" y1="785.2" x2="465.7" y2="831.8" stroke="rgba(255,0,0,0.83)" stroke-width="3.5" stroke-linecap="round"/><circle cx="465.7" cy="823.0" r="1.95" fill="rgba(255,0,0,0.83)"/><circle cx="465.5" cy="789.1" r="1.95" fill="rgba(255,0,0,0.83)"/><circle cx="465.5" cy="814.9" r="1.95" fill="rgba(255,0,0,0.83)"/><circle cx="465.8" cy="830.0" r="1.95" fill="rgba(255,0,0,0.83)"/><circle cx="465.8" cy="794.2" r="1.95" fill="rgba(255,0,0,0.83)"/><circle cx="466.0" cy="801.8" r="1.95" fill="rgba(255,0,0,0.83)"/><circle cx="465.7" cy="838.6" r="1.8" fill="rgba(255,0,0,0.52)"/><circle cx="465.7" cy="840.3" r="1.8" fill="rgba(255,0,0,0.52)"/><circle cx="465.7" cy="842.8" r="1.8" fill="rgba(255,0,0,0.52)"/><circle cx="465.7" cy="781.9" r="1.8" fill="rgba(255,0,0,0.52)"/><circle cx="465.7" cy="836.4" r="1.8" fill="rgba(255,0,0,0.52)"/><circle cx="465.7" cy="833.8" r="1.8" fill="rgba(255,0,0,0.52)"/><circle cx="465.7" cy="838.7" r="1.8" fill="rgba(255,0,0,0.52)"/><circle cx="465.7" cy="778.3" r="1.8" fill="rgba(255,0,0,0.52)"/><circle cx="465.7" cy="843.0" r="1.8" fill="rgba(255,0,0,0.52)"/><line x1="472.2" y1="782.4" x2="472.2" y2="832.9" stroke="rgba(255,0,0,0.84)" stroke-width="3.5" stroke-linecap="round"/><circle cx="472.3" cy="787.9" r="1.95" fill="rgba(255,0,0,0.84)"/><circle cx="472.0" cy="798.0" r="1.95" fill="rgba(255,0,0,0.84)"/><circle cx="471.9" cy="806.8" r="1.95" fill="rgba(255,0,0,0.84)"/><circle cx="472.4" cy="792.7" r="1.95" fill="rgba(255,0,0,0.84)"/><circle cx="471.8" cy="817.8" r="1.95" fill="rgba(255,0,0,0.84)"/><circle cx="471.9" cy="821.9" r="1.95" fill="rgba(255,0,0,0.84)"/><circle cx="472.5" cy="799.0" r="1.95" fill="rgba(255,0,0,0.84)"/><circle cx="472.2" cy="837.5" r="1.8" fill="rgba(255,0,0,0.55)"/><circle cx="472.2" cy="780.5" r="1.8" fill="rgba(255,0,0,0.55)"/><circle cx="472.2" cy="778.9" r="1.8" fill="rgba(255,0,0,0.55)"/><circle cx="472.2" cy="780.4" r="1.8" fill="rgba(255,0,0,0.55)"/><circle cx="472.2" cy="838.5" r="1.8" fill="rgba(255,0,0,0.55)"/><circle cx="472.2" cy="836.9" r="1.8" fill="rgba(255,0,0,0.55)"/><circle cx="472.2" cy="843.2" r="1.8" fill="rgba(255,0,0,0.55)"/><circle cx="472.2" cy="778.9" r="1.8" fill="rgba(255,0,0,0.55)"/><circle cx="472.2" cy="844.1" r="1.8" fill="rgba(255,0,0,0.55)"/><line x1="478.7" y1="782.6" x2="478.7" y2="834.1" stroke="rgba(255,0,0,0.85)" stroke-width="3.5" stroke-linecap="round"/><circle cx="479.0" cy="817.3" r="1.95" fill="rgba(255,0,0,0.85)"/><circle cx="478.9" cy="805.6" r="1.95" fill="rgba(255,0,0,0.85)"/><circle cx="478.7" cy="823.9" r="1.95" fill="rgba(255,0,0,0.85)"/><circle cx="478.8" cy="806.8" r="1.95" fill="rgba(255,0,0,0.85)"/><circle cx="478.4" cy="803.6" r="1.95" fill="rgba(255,0,0,0.85)"/><circle cx="478.5" cy="821.3" r="1.95" fill="rgba(255,0,0,0.85)"/><circle cx="478.9" cy="807.7" r="1.95" fill="rgba(255,0,0,0.85)"/><circle cx="478.7" cy="781.9" r="1.8" fill="rgba(255,0,0,0.57)"/><circle cx="478.7" cy="780.4" r="1.8" fill="rgba(255,0,0,0.57)"/><circle cx="478.7" cy="781.2" r="1.8" fill="rgba(255,0,0,0.57)"/><circle cx="478.7" cy="779.7" r="1.8" fill="rgba(255,0,0,0.57)"/><circle cx="478.7" cy="780.8" r="1.8" fill="rgba(255,0,0,0.57)"/><circle cx="478.7" cy="843.8" r="1.8" fill="rgba(255,0,0,0.57)"/><circle cx="478.7" cy="780.7" r="1.8" fill="rgba(255,0,0,0.57)"/><circle cx="478.7" cy="779.6" r="1.8" fill="rgba(255,0,0,0.57)"/><circle cx="478.7" cy="848.2" r="1.8" fill="rgba(255,0,0,0.57)"/><line x1="485.2" y1="784.5" x2="485.2" y2="835.1" stroke="rgba(255,0,0,0.86)" stroke-width="3.5" stroke-linecap="round"/><circle cx="484.9" cy="808.7" r="1.95" fill="rgba(255,0,0,0.86)"/><circle cx="485.0" cy="803.5" r="1.95" fill="rgba(255,0,0,0.86)"/><circle cx="485.1" cy="825.5" r="1.95" fill="rgba(255,0,0,0.86)"/><circle cx="485.5" cy="818.0" r="1.95" fill="rgba(255,0,0,0.86)"/><circle cx="485.1" cy="831.6" r="1.95" fill="rgba(255,0,0,0.86)"/><circle cx="485.1" cy="815.1" r="1.95" fill="rgba(255,0,0,0.86)"/><circle cx="485.2" cy="804.6" r="1.95" fill="rgba(255,0,0,0.86)"/><circle cx="485.2" cy="854.0" r="1.8" fill="rgba(255,0,0,0.59)"/><circle cx="485.2" cy="784.0" r="1.8" fill="rgba(255,0,0,0.59)"/><circle cx="485.2" cy="783.7" r="1.8" fill="rgba(255,0,0,0.59)"/><circle cx="485.2" cy="781.7" r="1.8" fill="rgba(255,0,0,0.59)"/><circle cx="485.2" cy="781.8" r="1.8" fill="rgba(255,0,0,0.59)"/><circle cx="485.2" cy="781.3" r="1.8" fill="rgba(255,0,0,0.59)"/><circle cx="485.2" cy="837.7" r="1.8" fill="rgba(255,0,0,0.59)"/><circle cx="485.2" cy="781.1" r="1.8" fill="rgba(255,0,0,0.59)"/><circle cx="485.2" cy="855.0" r="1.8" fill="rgba(255,0,0,0.59)"/><line x1="491.7" y1="783.2" x2="491.7" y2="838.2" stroke="rgba(255,0,0,0.87)" stroke-width="3.5" stroke-linecap="round"/><circle cx="492.0" cy="793.5" r="1.95" fill="rgba(255,0,0,0.87)"/><circle cx="491.6" cy="817.1" r="1.95" fill="rgba(255,0,0,0.87)"/><circle cx="491.9" cy="826.5" r="1.95" fill="rgba(255,0,0,0.87)"/><circle cx="491.7" cy="810.2" r="1.95" fill="rgba(255,0,0,0.87)"/><circle cx="491.6" cy="788.3" r="1.95" fill="rgba(255,0,0,0.87)"/><circle cx="491.8" cy="790.8" r="1.95" fill="rgba(255,0,0,0.87)"/><circle cx="491.4" cy="816.7" r="1.95" fill="rgba(255,0,0,0.87)"/><circle cx="491.7" cy="841.3" r="1.8" fill="rgba(255,0,0,0.62)"/><circle cx="491.7" cy="782.7" r="1.8" fill="rgba(255,0,0,0.62)"/><circle cx="491.7" cy="782.7" r="1.8" fill="rgba(255,0,0,0.62)"/><circle cx="491.7" cy="851.1" r="1.8" fill="rgba(255,0,0,0.62)"/><circle cx="491.7" cy="782.7" r="1.8" fill="rgba(255,0,0,0.62)"/><circle cx="491.7" cy="782.7" r="1.8" fill="rgba(255,0,0,0.62)"/><circle cx="491.7" cy="853.9" r="1.8" fill="rgba(255,0,0,0.62)"/><circle cx="491.7" cy="855.2" r="1.8" fill="rgba(255,0,0,0.62)"/><line x1="498.2" y1="784.8" x2="498.2" y2="842.1" stroke="rgba(255,0,0,0.88)" stroke-width="3.5" stroke-linecap="round"/><circle cx="498.1" cy="836.4" r="1.95" fill="rgba(255,0,0,0.88)"/><circle cx="498.4" cy="824.8" r="1.95" fill="rgba(255,0,0,0.88)"/><circle cx="498.5" cy="792.3" r="1.95" fill="rgba(255,0,0,0.88)"/><circle cx="498.1" cy="837.3" r="1.95" fill="rgba(255,0,0,0.88)"/><circle cx="498.1" cy="829.7" r="1.95" fill="rgba(255,0,0,0.88)"/><circle cx="498.3" cy="800.4" r="1.95" fill="rgba(255,0,0,0.88)"/><circle cx="498.4" cy="788.0" r="1.95" fill="rgba(255,0,0,0.88)"/><circle cx="498.0" cy="841.3" r="1.95" fill="rgba(255,0,0,0.88)"/><circle cx="498.2" cy="844.4" r="1.8" fill="rgba(255,0,0,0.64)"/><circle cx="498.2" cy="847.2" r="1.8" fill="rgba(255,0,0,0.64)"/><circle cx="498.2" cy="849.1" r="1.8" fill="rgba(255,0,0,0.64)"/><circle cx="498.2" cy="843.4" r="1.8" fill="rgba(255,0,0,0.64)"/><circle cx="498.2" cy="784.3" r="1.8" fill="rgba(255,0,0,0.64)"/><circle cx="498.2" cy="850.3" r="1.8" fill="rgba(255,0,0,0.64)"/><circle cx="498.2" cy="784.3" r="1.8" fill="rgba(255,0,0,0.64)"/><circle cx="498.2" cy="855.3" r="1.8" fill="rgba(255,0,0,0.64)"/><line x1="504.7" y1="786.9" x2="504.7" y2="843.3" stroke="rgba(255,0,0,0.89)" stroke-width="3.5" stroke-linecap="round"/><circle cx="504.3" cy="807.6" r="1.95" fill="rgba(255,0,0,0.89)"/><circle cx="504.8" cy="843.4" r="1.95" fill="rgba(255,0,0,0.89)"/><circle cx="504.8" cy="840.9" r="1.95" fill="rgba(255,0,0,0.89)"/><circle cx="504.4" cy="806.1" r="1.95" fill="rgba(255,0,0,0.89)"/><circle cx="504.4" cy="828.4" r="1.95" fill="rgba(255,0,0,0.89)"/><circle cx="504.6" cy="817.8" r="1.95" fill="rgba(255,0,0,0.89)"/><circle cx="504.4" cy="814.8" r="1.95" fill="rgba(255,0,0,0.89)"/><circle cx="504.7" cy="790.6" r="1.95" fill="rgba(255,0,0,0.89)"/><circle cx="504.7" cy="786.4" r="1.8" fill="rgba(255,0,0,0.67)"/><circle cx="504.7" cy="786.4" r="1.8" fill="rgba(255,0,0,0.67)"/><circle cx="504.7" cy="786.4" r="1.8" fill="rgba(255,0,0,0.67)"/><circle cx="504.7" cy="786.4" r="1.8" fill="rgba(255,0,0,0.67)"/><circle cx="504.7" cy="786.4" r="1.8" fill="rgba(255,0,0,0.67)"/><circle cx="504.7" cy="852.0" r="1.8" fill="rgba(255,0,0,0.67)"/><circle cx="504.7" cy="786.4" r="1.8" fill="rgba(255,0,0,0.67)"/><circle cx="504.7" cy="860.3" r="1.8" fill="rgba(255,0,0,0.67)"/><line x1="511.2" y1="788.8" x2="511.2" y2="846.2" stroke="rgba(255,0,0,0.90)" stroke-width="3.5" stroke-linecap="round"/><circle cx="511.2" cy="802.4" r="1.95" fill="rgba(255,0,0,0.90)"/><circle cx="511.2" cy="834.2" r="1.95" fill="rgba(255,0,0,0.90)"/><circle cx="511.0" cy="799.3" r="1.95" fill="rgba(255,0,0,0.90)"/><circle cx="511.1" cy="810.6" r="1.95" fill="rgba(255,0,0,0.90)"/><circle cx="511.5" cy="811.5" r="1.95" fill="rgba(255,0,0,0.90)"/><circle cx="511.3" cy="820.5" r="1.95" fill="rgba(255,0,0,0.90)"/><circle cx="511.3" cy="830.2" r="1.95" fill="rgba(255,0,0,0.90)"/><circle cx="511.1" cy="835.3" r="1.95" fill="rgba(255,0,0,0.90)"/><circle cx="511.2" cy="861.5" r="1.8" fill="rgba(255,0,0,0.69)"/><circle cx="511.2" cy="788.3" r="1.8" fill="rgba(255,0,0,0.69)"/><circle cx="511.2" cy="788.3" r="1.8" fill="rgba(255,0,0,0.69)"/><circle cx="511.2" cy="788.3" r="1.8" fill="rgba(255,0,0,0.69)"/><circle cx="511.2" cy="788.3" r="1.8" fill="rgba(255,0,0,0.69)"/><circle cx="511.2" cy="788.3" r="1.8" fill="rgba(255,0,0,0.69)"/><circle cx="511.2" cy="788.3" r="1.8" fill="rgba(255,0,0,0.69)"/><circle cx="511.2" cy="861.8" r="1.8" fill="rgba(255,0,0,0.69)"/><line x1="517.7" y1="790.9" x2="517.7" y2="846.2" stroke="rgba(255,0,0,0.91)" stroke-width="3.5" stroke-linecap="round"/><circle cx="517.5" cy="834.7" r="1.95" fill="rgba(255,0,0,0.91)"/><circle cx="517.9" cy="822.2" r="1.95" fill="rgba(255,0,0,0.91)"/><circle cx="517.6" cy="806.9" r="1.95" fill="rgba(255,0,0,0.91)"/><circle cx="517.9" cy="831.2" r="1.95" fill="rgba(255,0,0,0.91)"/><circle cx="517.8" cy="799.9" r="1.95" fill="rgba(255,0,0,0.91)"/><circle cx="517.4" cy="797.2" r="1.95" fill="rgba(255,0,0,0.91)"/><circle cx="517.3" cy="845.8" r="1.95" fill="rgba(255,0,0,0.91)"/><circle cx="517.8" cy="842.2" r="1.95" fill="rgba(255,0,0,0.91)"/><circle cx="517.7" cy="858.9" r="1.8" fill="rgba(255,0,0,0.71)"/><circle cx="517.7" cy="852.5" r="1.8" fill="rgba(255,0,0,0.71)"/><circle cx="517.7" cy="790.4" r="1.8" fill="rgba(255,0,0,0.71)"/><circle cx="517.7" cy="859.5" r="1.8" fill="rgba(255,0,0,0.71)"/><circle cx="517.7" cy="851.3" r="1.8" fill="rgba(255,0,0,0.71)"/><circle cx="517.7" cy="852.0" r="1.8" fill="rgba(255,0,0,0.71)"/><circle cx="517.7" cy="859.1" r="1.8" fill="rgba(255,0,0,0.71)"/><circle cx="517.7" cy="862.4" r="1.8" fill="rgba(255,0,0,0.71)"/><line x1="524.1" y1="794.6" x2="524.1" y2="847.9" stroke="rgba(255,0,0,0.91)" stroke-width="3.5" stroke-linecap="round"/><circle cx="524.3" cy="848.1" r="1.95" fill="rgba(255,0,0,0.91)"/><circle cx="524.3" cy="831.3" r="1.95" fill="rgba(255,0,0,0.91)"/><circle cx="524.2" cy="799.2" r="1.95" fill="rgba(255,0,0,0.91)"/><circle cx="524.1" cy="795.9" r="1.95" fill="rgba(255,0,0,0.91)"/><circle cx="524.5" cy="800.5" r="1.95" fill="rgba(255,0,0,0.91)"/><circle cx="524.4" cy="795.7" r="1.95" fill="rgba(255,0,0,0.91)"/><circle cx="524.1" cy="845.6" r="1.95" fill="rgba(255,0,0,0.91)"/><circle cx="524.1" cy="850.4" r="1.8" fill="rgba(255,0,0,0.74)"/><circle cx="524.1" cy="794.1" r="1.8" fill="rgba(255,0,0,0.74)"/><circle cx="524.1" cy="794.1" r="1.8" fill="rgba(255,0,0,0.74)"/><circle cx="524.1" cy="851.4" r="1.8" fill="rgba(255,0,0,0.74)"/><circle cx="524.1" cy="855.8" r="1.8" fill="rgba(255,0,0,0.74)"/><circle cx="524.1" cy="794.1" r="1.8" fill="rgba(255,0,0,0.74)"/><circle cx="524.1" cy="794.1" r="1.8" fill="rgba(255,0,0,0.74)"/><circle cx="524.1" cy="869.3" r="1.8" fill="rgba(255,0,0,0.74)"/><line x1="530.6" y1="796.7" x2="530.6" y2="852.0" stroke="rgba(255,0,0,0.92)" stroke-width="3.5" stroke-linecap="round"/><circle cx="530.7" cy="817.8" r="1.95" fill="rgba(255,0,0,0.92)"/><circle cx="530.7" cy="827.9" r="1.95" fill="rgba(255,0,0,0.92)"/><circle cx="530.5" cy="823.3" r="1.95" fill="rgba(255,0,0,0.92)"/><circle cx="530.9" cy="803.9" r="1.95" fill="rgba(255,0,0,0.92)"/><circle cx="530.6" cy="807.1" r="1.95" fill="rgba(255,0,0,0.92)"/><circle cx="530.7" cy="841.7" r="1.95" fill="rgba(255,0,0,0.92)"/><circle cx="530.9" cy="849.6" r="1.95" fill="rgba(255,0,0,0.92)"/><circle cx="530.4" cy="825.1" r="1.95" fill="rgba(255,0,0,0.92)"/><circle cx="530.6" cy="864.8" r="1.8" fill="rgba(255,0,0,0.76)"/><circle cx="530.6" cy="866.0" r="1.8" fill="rgba(255,0,0,0.76)"/><circle cx="530.6" cy="871.5" r="1.8" fill="rgba(255,0,0,0.76)"/><circle cx="530.6" cy="796.2" r="1.8" fill="rgba(255,0,0,0.76)"/><circle cx="530.6" cy="857.5" r="1.8" fill="rgba(255,0,0,0.76)"/><circle cx="530.6" cy="872.6" r="1.8" fill="rgba(255,0,0,0.76)"/><circle cx="530.6" cy="861.9" r="1.8" fill="rgba(255,0,0,0.76)"/><circle cx="530.6" cy="875.0" r="1.8" fill="rgba(255,0,0,0.76)"/><line x1="537.1" y1="799.9" x2="537.1" y2="855.2" stroke="rgba(255,0,0,0.93)" stroke-width="3.5" stroke-linecap="round"/><circle cx="536.9" cy="813.6" r="1.95" fill="rgba(255,0,0,0.93)"/><circle cx="537.4" cy="820.3" r="1.95" fill="rgba(255,0,0,0.93)"/><circle cx="536.8" cy="819.8" r="1.95" fill="rgba(255,0,0,0.93)"/><circle cx="536.8" cy="816.6" r="1.95" fill="rgba(255,0,0,0.93)"/><circle cx="537.3" cy="834.5" r="1.95" fill="rgba(255,0,0,0.93)"/><circle cx="536.8" cy="851.6" r="1.95" fill="rgba(255,0,0,0.93)"/><circle cx="536.9" cy="820.8" r="1.95" fill="rgba(255,0,0,0.93)"/><circle cx="537.4" cy="850.7" r="1.95" fill="rgba(255,0,0,0.93)"/><circle cx="537.1" cy="877.3" r="1.8" fill="rgba(255,0,0,0.78)"/><circle cx="537.1" cy="874.0" r="1.8" fill="rgba(255,0,0,0.78)"/><circle cx="537.1" cy="799.4" r="1.8" fill="rgba(255,0,0,0.78)"/><circle cx="537.1" cy="875.3" r="1.8" fill="rgba(255,0,0,0.78)"/><circle cx="537.1" cy="875.7" r="1.8" fill="rgba(255,0,0,0.78)"/><circle cx="537.1" cy="874.4" r="1.8" fill="rgba(255,0,0,0.78)"/><circle cx="537.1" cy="799.4" r="1.8" fill="rgba(255,0,0,0.78)"/><circle cx="537.1" cy="878.2" r="1.8" fill="rgba(255,0,0,0.78)"/><line x1="543.6" y1="802.0" x2="543.6" y2="860.4" stroke="rgba(255,0,0,0.94)" stroke-width="3.5" stroke-linecap="round"/><circle cx="543.7" cy="808.0" r="1.95" fill="rgba(255,0,0,0.94)"/><circle cx="543.4" cy="844.3" r="1.95" fill="rgba(255,0,0,0.94)"/><circle cx="543.4" cy="831.5" r="1.95" fill="rgba(255,0,0,0.94)"/><circle cx="543.8" cy="842.4" r="1.95" fill="rgba(255,0,0,0.94)"/><circle cx="544.0" cy="806.7" r="1.95" fill="rgba(255,0,0,0.94)"/><circle cx="543.4" cy="841.0" r="1.95" fill="rgba(255,0,0,0.94)"/><circle cx="543.4" cy="822.4" r="1.95" fill="rgba(255,0,0,0.94)"/><circle cx="543.9" cy="844.8" r="1.95" fill="rgba(255,0,0,0.94)"/><circle cx="543.6" cy="801.5" r="1.8" fill="rgba(255,0,0,0.81)"/><circle cx="543.6" cy="877.6" r="1.8" fill="rgba(255,0,0,0.81)"/><circle cx="543.6" cy="871.0" r="1.8" fill="rgba(255,0,0,0.81)"/><circle cx="543.6" cy="801.5" r="1.8" fill="rgba(255,0,0,0.81)"/><circle cx="543.6" cy="801.5" r="1.8" fill="rgba(255,0,0,0.81)"/><circle cx="543.6" cy="875.6" r="1.8" fill="rgba(255,0,0,0.81)"/><circle cx="543.6" cy="873.8" r="1.8" fill="rgba(255,0,0,0.81)"/><circle cx="543.6" cy="879.7" r="1.8" fill="rgba(255,0,0,0.81)"/><line x1="550.1" y1="803.6" x2="550.1" y2="864.7" stroke="rgba(255,0,0,0.95)" stroke-width="3.5" stroke-linecap="round"/><circle cx="550.0" cy="859.7" r="1.95" fill="rgba(255,0,0,0.95)"/><circle cx="550.4" cy="803.2" r="1.95" fill="rgba(255,0,0,0.95)"/><circle cx="550.5" cy="805.0" r="1.95" fill="rgba(255,0,0,0.95)"/><circle cx="549.8" cy="831.4" r="1.95" fill="rgba(255,0,0,0.95)"/><circle cx="550.3" cy="820.2" r="1.95" fill="rgba(255,0,0,0.95)"/><circle cx="550.2" cy="827.0" r="1.95" fill="rgba(255,0,0,0.95)"/><circle cx="550.4" cy="809.5" r="1.95" fill="rgba(255,0,0,0.95)"/><circle cx="550.4" cy="826.3" r="1.95" fill="rgba(255,0,0,0.95)"/><circle cx="550.1" cy="803.1" r="1.8" fill="rgba(255,0,0,0.83)"/><circle cx="550.1" cy="803.1" r="1.8" fill="rgba(255,0,0,0.83)"/><circle cx="550.1" cy="803.1" r="1.8" fill="rgba(255,0,0,0.83)"/><circle cx="550.1" cy="867.7" r="1.8" fill="rgba(255,0,0,0.83)"/><circle cx="550.1" cy="803.1" r="1.8" fill="rgba(255,0,0,0.83)"/><circle cx="550.1" cy="880.0" r="1.8" fill="rgba(255,0,0,0.83)"/><circle cx="550.1" cy="873.6" r="1.8" fill="rgba(255,0,0,0.83)"/><circle cx="550.1" cy="880.3" r="1.8" fill="rgba(255,0,0,0.83)"/><line x1="556.6" y1="806.4" x2="556.6" y2="871.1" stroke="rgba(255,0,0,0.96)" stroke-width="3.5" stroke-linecap="round"/><circle cx="556.4" cy="810.5" r="1.95" fill="rgba(255,0,0,0.96)"/><circle cx="556.8" cy="852.2" r="1.95" fill="rgba(255,0,0,0.96)"/><circle cx="556.9" cy="870.9" r="1.95" fill="rgba(255,0,0,0.96)"/><circle cx="556.4" cy="834.6" r="1.95" fill="rgba(255,0,0,0.96)"/><circle cx="556.5" cy="841.5" r="1.95" fill="rgba(255,0,0,0.96)"/><circle cx="556.9" cy="841.7" r="1.95" fill="rgba(255,0,0,0.96)"/><circle cx="557.0" cy="835.6" r="1.95" fill="rgba(255,0,0,0.96)"/><circle cx="556.3" cy="853.1" r="1.95" fill="rgba(255,0,0,0.96)"/><circle cx="556.7" cy="854.9" r="1.95" fill="rgba(255,0,0,0.96)"/><circle cx="556.6" cy="871.7" r="1.8" fill="rgba(255,0,0,0.86)"/><circle cx="556.6" cy="876.6" r="1.8" fill="rgba(255,0,0,0.86)"/><circle cx="556.6" cy="873.7" r="1.8" fill="rgba(255,0,0,0.86)"/><circle cx="556.6" cy="805.9" r="1.8" fill="rgba(255,0,0,0.86)"/><circle cx="556.6" cy="805.9" r="1.8" fill="rgba(255,0,0,0.86)"/><circle cx="556.6" cy="805.9" r="1.8" fill="rgba(255,0,0,0.86)"/><circle cx="556.6" cy="878.2" r="1.8" fill="rgba(255,0,0,0.86)"/><circle cx="556.6" cy="880.4" r="1.8" fill="rgba(255,0,0,0.86)"/><line x1="563.1" y1="808.5" x2="563.1" y2="873.1" stroke="rgba(255,0,0,0.97)" stroke-width="3.5" stroke-linecap="round"/><circle cx="562.9" cy="865.8" r="1.95" fill="rgba(255,0,0,0.97)"/><circle cx="563.2" cy="855.8" r="1.95" fill="rgba(255,0,0,0.97)"/><circle cx="563.4" cy="813.9" r="1.95" fill="rgba(255,0,0,0.97)"/><circle cx="562.9" cy="831.4" r="1.95" fill="rgba(255,0,0,0.97)"/><circle cx="563.4" cy="820.0" r="1.95" fill="rgba(255,0,0,0.97)"/><circle cx="563.0" cy="822.5" r="1.95" fill="rgba(255,0,0,0.97)"/><circle cx="563.0" cy="843.9" r="1.95" fill="rgba(255,0,0,0.97)"/><circle cx="562.8" cy="851.0" r="1.95" fill="rgba(255,0,0,0.97)"/><circle cx="563.2" cy="836.2" r="1.95" fill="rgba(255,0,0,0.97)"/><circle cx="563.1" cy="877.5" r="1.8" fill="rgba(255,0,0,0.88)"/><circle cx="563.1" cy="808.0" r="1.8" fill="rgba(255,0,0,0.88)"/><circle cx="563.1" cy="876.8" r="1.8" fill="rgba(255,0,0,0.88)"/><circle cx="563.1" cy="878.6" r="1.8" fill="rgba(255,0,0,0.88)"/><circle cx="563.1" cy="808.0" r="1.8" fill="rgba(255,0,0,0.88)"/><circle cx="563.1" cy="875.8" r="1.8" fill="rgba(255,0,0,0.88)"/><circle cx="563.1" cy="808.0" r="1.8" fill="rgba(255,0,0,0.88)"/><circle cx="563.1" cy="879.4" r="1.8" fill="rgba(255,0,0,0.88)"/><line x1="569.6" y1="811.6" x2="569.6" y2="871.1" stroke="rgba(255,0,0,0.98)" stroke-width="3.5" stroke-linecap="round"/><circle cx="569.6" cy="871.2" r="1.95" fill="rgba(255,0,0,0.98)"/><circle cx="569.4" cy="865.3" r="1.95" fill="rgba(255,0,0,0.98)"/><circle cx="569.7" cy="827.9" r="1.95" fill="rgba(255,0,0,0.98)"/><circle cx="569.7" cy="830.3" r="1.95" fill="rgba(255,0,0,0.98)"/><circle cx="569.3" cy="841.8" r="1.95" fill="rgba(255,0,0,0.98)"/><circle cx="569.6" cy="817.8" r="1.95" fill="rgba(255,0,0,0.98)"/><circle cx="569.4" cy="843.4" r="1.95" fill="rgba(255,0,0,0.98)"/><circle cx="569.3" cy="827.0" r="1.95" fill="rgba(255,0,0,0.98)"/><circle cx="569.6" cy="811.1" r="1.8" fill="rgba(255,0,0,0.90)"/><circle cx="569.6" cy="811.1" r="1.8" fill="rgba(255,0,0,0.90)"/><circle cx="569.6" cy="877.6" r="1.8" fill="rgba(255,0,0,0.90)"/><circle cx="569.6" cy="874.5" r="1.8" fill="rgba(255,0,0,0.90)"/><circle cx="569.6" cy="811.1" r="1.8" fill="rgba(255,0,0,0.90)"/><circle cx="569.6" cy="874.1" r="1.8" fill="rgba(255,0,0,0.90)"/><circle cx="569.6" cy="811.1" r="1.8" fill="rgba(255,0,0,0.90)"/><circle cx="569.6" cy="879.4" r="1.8" fill="rgba(255,0,0,0.90)"/><line x1="576.1" y1="812.6" x2="576.1" y2="867.9" stroke="rgba(255,0,0,0.99)" stroke-width="3.5" stroke-linecap="round"/><circle cx="576.4" cy="841.1" r="1.95" fill="rgba(255,0,0,0.99)"/><circle cx="576.3" cy="820.7" r="1.95" fill="rgba(255,0,0,0.99)"/><circle cx="576.4" cy="848.2" r="1.95" fill="rgba(255,0,0,0.99)"/><circle cx="575.8" cy="862.8" r="1.95" fill="rgba(255,0,0,0.99)"/><circle cx="575.8" cy="856.8" r="1.95" fill="rgba(255,0,0,0.99)"/><circle cx="576.0" cy="818.7" r="1.95" fill="rgba(255,0,0,0.99)"/><circle cx="575.8" cy="839.6" r="1.95" fill="rgba(255,0,0,0.99)"/><circle cx="575.9" cy="827.6" r="1.95" fill="rgba(255,0,0,0.99)"/><circle cx="576.1" cy="812.1" r="1.8" fill="rgba(255,0,0,0.93)"/><circle cx="576.1" cy="812.1" r="1.8" fill="rgba(255,0,0,0.93)"/><circle cx="576.1" cy="812.1" r="1.8" fill="rgba(255,0,0,0.93)"/><circle cx="576.1" cy="877.5" r="1.8" fill="rgba(255,0,0,0.93)"/><circle cx="576.1" cy="812.1" r="1.8" fill="rgba(255,0,0,0.93)"/><circle cx="576.1" cy="872.0" r="1.8" fill="rgba(255,0,0,0.93)"/><circle cx="576.1" cy="812.1" r="1.8" fill="rgba(255,0,0,0.93)"/><circle cx="576.1" cy="881.9" r="1.8" fill="rgba(255,0,0,0.93)"/><line x1="582.6" y1="811.5" x2="582.6" y2="867.9" stroke="rgba(255,0,0,1.00)" stroke-width="3.5" stroke-linecap="round"/><circle cx="582.3" cy="849.4" r="1.95" fill="rgba(255,0,0,1.00)"/><circle cx="582.5" cy="823.8" r="1.95" fill="rgba(255,0,0,1.00)"/><circle cx="582.7" cy="843.4" r="1.95" fill="rgba(255,0,0,1.00)"/><circle cx="582.7" cy="845.0" r="1.95" fill="rgba(255,0,0,1.00)"/><circle cx="582.9" cy="822.1" r="1.95" fill="rgba(255,0,0,1.00)"/><circle cx="582.5" cy="853.3" r="1.95" fill="rgba(255,0,0,1.00)"/><circle cx="582.7" cy="833.8" r="1.95" fill="rgba(255,0,0,1.00)"/><circle cx="582.7" cy="817.9" r="1.95" fill="rgba(255,0,0,1.00)"/><circle cx="582.6" cy="875.6" r="1.8" fill="rgba(255,0,0,0.95)"/><circle cx="582.6" cy="811.0" r="1.8" fill="rgba(255,0,0,0.95)"/><circle cx="582.6" cy="875.8" r="1.8" fill="rgba(255,0,0,0.95)"/><circle cx="582.6" cy="811.0" r="1.8" fill="rgba(255,0,0,0.95)"/><circle cx="582.6" cy="811.0" r="1.8" fill="rgba(255,0,0,0.95)"/><circle cx="582.6" cy="811.0" r="1.8" fill="rgba(255,0,0,0.95)"/><circle cx="582.6" cy="811.0" r="1.8" fill="rgba(255,0,0,0.95)"/><circle cx="582.6" cy="884.5" r="1.8" fill="rgba(255,0,0,0.95)"/></g>
<circle cx="555.5" cy="792.5" r="1.7" fill="rgba(255,0,0,0.9)"/>
<line x1="368.1" y1="922.0" x2="362.1" y2="759.0" stroke="#000" stroke-width="1.5"/>
<polygon points="362.1,759.0 364.9,764.9 359.7,765.1" fill="#000"/>
<line x1="448.3" y1="858.6" x2="446.3" y2="719.2" stroke="#000" stroke-width="1.5"/>
<polygon points="446.3,719.2 449.0,725.2 443.8,725.2" fill="#000"/>
<line x1="372.2" y1="865.9" x2="593.9" y2="931.7" stroke="#000" stroke-width="1.5"/>
<polygon points="593.9,931.7 587.4,932.5 588.9,927.5" fill="#000"/>
<line x1="447.9" y1="804.4" x2="631.8" y2="854.9" stroke="#000" stroke-width="1.5"/>
<polygon points="631.8,854.9 625.3,855.8 626.7,850.8" fill="#000"/>
<polyline points="379.4,866.5 387.3,867.8 397.8,871.8 409.6,872.5 416.2,874.4 424.1,882.3 435.9,881.0 441.2,887.5 451.7,893.6" fill="none" stroke="#2448d8" stroke-width="1" stroke-dasharray="2.2 1.2"/>
<path d="M378.2,865.3l2.4,2.4m0,-2.4l-2.4,2.4M381.8,865.9l2.4,2.4m0,-2.4l-2.4,2.4M385.4,866.5l2.4,2.4m0,-2.4l-2.4,2.4M389.0,867.7l2.4,2.4m0,-2.4l-2.4,2.4M392.7,869.1l2.4,2.4m0,-2.4l-2.4,2.4M396.3,870.5l2.4,2.4m0,-2.4l-2.4,2.4M399.9,870.8l2.4,2.4m0,-2.4l-2.4,2.4M403.5,871.0l2.4,2.4m0,-2.4l-2.4,2.4M407.1,871.2l2.4,2.4m0,-2.4l-2.4,2.4M410.7,872.0l2.4,2.4m0,-2.4l-2.4,2.4M414.3,873.0l2.4,2.4m0,-2.4l-2.4,2.4M418.0,876.2l2.4,2.4m0,-2.4l-2.4,2.4M421.6,879.8l2.4,2.4m0,-2.4l-2.4,2.4M425.2,880.8l2.4,2.4m0,-2.4l-2.4,2.4M428.8,880.4l2.4,2.4m0,-2.4l-2.4,2.4M432.4,880.1l2.4,2.4m0,-2.4l-2.4,2.4M436.0,881.4l2.4,2.4m0,-2.4l-2.4,2.4M439.7,885.9l2.4,2.4m0,-2.4l-2.4,2.4M443.3,888.2l2.4,2.4m0,-2.4l-2.4,2.4M446.9,890.3l2.4,2.4m0,-2.4l-2.4,2.4M450.5,892.4l2.4,2.4m0,-2.4l-2.4,2.4" stroke="#1c3cd4" stroke-width="1" fill="none"/>
<g fill="#111" stroke="#111" stroke-width="0.25"><text x="367.3" y="733.5" font-size="16.8" text-anchor="start">(f)</text><text x="372.7" y="776.4" font-size="14.5" text-anchor="start">Height/µm</text><text x="452.4" y="735.5" font-size="14.5" text-anchor="start">Height/µm</text><text x="359.1" y="946.6" font-size="14.5" text-anchor="start">8.5</text><text x="384.1" y="955.8" font-size="14.5" text-anchor="start">44.3</text><text x="414.3" y="963.7" font-size="14.5" text-anchor="start">80.1</text><text x="441.9" y="974.2" font-size="14.5" text-anchor="start">115.9</text><text x="472.1" y="984.7" font-size="14.5" text-anchor="start">151.7</text><text x="619.6" y="803.9" font-size="14.5" text-anchor="end">0.6</text><text x="619.6" y="817.3" font-size="14.5" text-anchor="end">0.4</text><text x="619.6" y="830.7" font-size="14.5" text-anchor="end">0.2</text><text x="619.6" y="844.2" font-size="14.5" text-anchor="end">0.0</text><text x="619.6" y="862.3" font-size="14.5" text-anchor="end">-0.2</text><text x="619.6" y="874.9" font-size="14.5" text-anchor="end">-0.4</text><text x="619.6" y="887.6" font-size="14.5" text-anchor="end">-0.6</text></g>
<text x="570.3" y="949.9" font-size="15" fill="#111" stroke="#111" stroke-width="0.25">x/10<tspan dy="-5" dx="0.3" font-size="14.5">−3</tspan><tspan dy="5" dx="0.8" font-size="15">µm</tspan></text>
<rect x="532.5" y="712.6" width="149.5" height="62.9" rx="8" ry="8" fill="#fff" stroke="#4f73b8" stroke-width="1.1"/><circle cx="542.6" cy="724.9" r="2.2" fill="#f43030"/><circle cx="542.6" cy="724.9" r="0.8" fill="#f9a0a0"/><text x="556.0" y="729.9" font-size="13.1" fill="#111" stroke="#111" stroke-width="0.15">Real Roughness Height</text><line x1="537.0" y1="738.1" x2="549.0" y2="738.1" stroke="#229022" stroke-width="1.1"/><text x="556.0" y="743.3" font-size="13.1" fill="#111" stroke="#111" stroke-width="0.15">95% Range</text><line x1="537.0" y1="752.3" x2="550.0" y2="752.3" stroke="#4f7fdc" stroke-width="1.2" stroke-dasharray="2.6 1.2"/><text x="556.0" y="756.7" font-size="13.1" fill="#111" stroke="#111" stroke-width="0.15">Mean Prediction</text><line x1="537.5" y1="766.4" x2="549.5" y2="766.4" stroke="#3a3a3a" stroke-width="1.8"/><text x="556.0" y="770.1" font-size="13.1" fill="#111" stroke="#111" stroke-width="0.15">Zero Line</text>
<line x1="356.1" y1="988.9" x2="622.6" y2="988.9" stroke="#1a1a1a" stroke-width="1.3"/><line x1="356.1" y1="1016.1" x2="622.6" y2="1016.1" stroke="#1a1a1a" stroke-width="1.3"/><line x1="356.1" y1="1044.3" x2="622.6" y2="1044.3" stroke="#1a1a1a" stroke-width="1.3"/><g fill="#111" stroke="#111" stroke-width="0.15"><text x="455.4" y="1004.8" font-size="12.9" text-anchor="middle">feed</text><text x="522.1" y="1004.8" font-size="12.9" text-anchor="middle">velocity</text><text x="588.8" y="1004.8" font-size="12.9" text-anchor="middle">sequence</text><text x="388.6" y="1032.3" font-size="12.9" text-anchor="middle">parameter</text><text x="455.4" y="1032.3" font-size="12.9" text-anchor="middle">8mm/min</text><text x="522.1" y="1032.3" font-size="12.9" text-anchor="middle">22.08m/s</text><text x="588.8" y="1032.3" font-size="12.9" text-anchor="middle">NO.23</text></g>
<polygon points="23.5,1149.3 112.2,1085.9 113.7,1187.9 29.6,1257.3" fill="#f6f6f6"/>
<polygon points="112.2,1085.9 259.0,1120.9 253.4,1229.1 113.7,1187.9" fill="#efefef"/>
<polygon points="29.6,1257.3 113.7,1187.9 253.4,1229.1 175.9,1308.5" fill="#f3f3f3"/>
<g><line x1="125.3" y1="1191.3" x2="124.4" y2="1088.8" stroke="#c4c4c4" stroke-width="0.7"/><line x1="39.5" y1="1260.8" x2="125.3" y2="1191.3" stroke="#c4c4c4" stroke-width="0.7"/><line x1="137.7" y1="1195.0" x2="137.4" y2="1091.9" stroke="#c4c4c4" stroke-width="0.7"/><line x1="52.9" y1="1265.5" x2="137.7" y2="1195.0" stroke="#c4c4c4" stroke-width="0.7"/><line x1="150.3" y1="1198.7" x2="150.5" y2="1095.1" stroke="#c4c4c4" stroke-width="0.7"/><line x1="66.5" y1="1270.2" x2="150.3" y2="1198.7" stroke="#c4c4c4" stroke-width="0.7"/><line x1="163.0" y1="1202.4" x2="163.9" y2="1098.2" stroke="#c4c4c4" stroke-width="0.7"/><line x1="80.4" y1="1275.1" x2="163.0" y2="1202.4" stroke="#c4c4c4" stroke-width="0.7"/><line x1="175.9" y1="1206.2" x2="177.4" y2="1101.4" stroke="#c4c4c4" stroke-width="0.7"/><line x1="94.4" y1="1280.0" x2="175.9" y2="1206.2" stroke="#c4c4c4" stroke-width="0.7"/><line x1="189.0" y1="1210.1" x2="191.1" y2="1104.7" stroke="#c4c4c4" stroke-width="0.7"/><line x1="108.7" y1="1285.0" x2="189.0" y2="1210.1" stroke="#c4c4c4" stroke-width="0.7"/><line x1="202.2" y1="1214.0" x2="205.1" y2="1108.0" stroke="#c4c4c4" stroke-width="0.7"/><line x1="123.2" y1="1290.1" x2="202.2" y2="1214.0" stroke="#c4c4c4" stroke-width="0.7"/><line x1="215.7" y1="1217.9" x2="219.2" y2="1111.4" stroke="#c4c4c4" stroke-width="0.7"/><line x1="138.0" y1="1295.2" x2="215.7" y2="1217.9" stroke="#c4c4c4" stroke-width="0.7"/><line x1="229.3" y1="1222.0" x2="233.6" y2="1114.8" stroke="#c4c4c4" stroke-width="0.7"/><line x1="153.0" y1="1300.5" x2="229.3" y2="1222.0" stroke="#c4c4c4" stroke-width="0.7"/><line x1="243.2" y1="1226.0" x2="248.2" y2="1118.3" stroke="#c4c4c4" stroke-width="0.7"/><line x1="168.2" y1="1305.8" x2="243.2" y2="1226.0" stroke="#c4c4c4" stroke-width="0.7"/><line x1="113.5" y1="1172.5" x2="254.3" y2="1212.8" stroke="#c4c4c4" stroke-width="0.7"/><line x1="28.6" y1="1241.1" x2="113.5" y2="1172.5" stroke="#c4c4c4" stroke-width="0.7"/><line x1="113.3" y1="1161.4" x2="254.9" y2="1201.0" stroke="#c4c4c4" stroke-width="0.7"/><line x1="28.0" y1="1229.3" x2="113.3" y2="1161.4" stroke="#c4c4c4" stroke-width="0.7"/><line x1="113.1" y1="1150.2" x2="255.5" y2="1189.1" stroke="#c4c4c4" stroke-width="0.7"/><line x1="27.3" y1="1217.5" x2="113.1" y2="1150.2" stroke="#c4c4c4" stroke-width="0.7"/><line x1="113.0" y1="1138.8" x2="256.1" y2="1177.1" stroke="#c4c4c4" stroke-width="0.7"/><line x1="26.7" y1="1205.4" x2="113.0" y2="1138.8" stroke="#c4c4c4" stroke-width="0.7"/><line x1="112.8" y1="1127.4" x2="256.8" y2="1164.9" stroke="#c4c4c4" stroke-width="0.7"/><line x1="26.0" y1="1193.3" x2="112.8" y2="1127.4" stroke="#c4c4c4" stroke-width="0.7"/><line x1="112.6" y1="1115.8" x2="257.4" y2="1152.6" stroke="#c4c4c4" stroke-width="0.7"/><line x1="25.3" y1="1181.0" x2="112.6" y2="1115.8" stroke="#c4c4c4" stroke-width="0.7"/><line x1="112.5" y1="1104.1" x2="258.0" y2="1140.2" stroke="#c4c4c4" stroke-width="0.7"/><line x1="24.6" y1="1168.6" x2="112.5" y2="1104.1" stroke="#c4c4c4" stroke-width="0.7"/><line x1="112.3" y1="1092.3" x2="258.7" y2="1127.6" stroke="#c4c4c4" stroke-width="0.7"/><line x1="23.9" y1="1156.0" x2="112.3" y2="1092.3" stroke="#c4c4c4" stroke-width="0.7"/><line x1="34.1" y1="1253.5" x2="28.3" y2="1145.8" stroke="#c4c4c4" stroke-width="0.7"/><line x1="34.1" y1="1253.5" x2="180.1" y2="1304.2" stroke="#c4c4c4" stroke-width="0.7"/><line x1="109.8" y1="1191.1" x2="108.1" y2="1088.8" stroke="#c4c4c4" stroke-width="0.7"/><line x1="109.8" y1="1191.1" x2="249.9" y2="1232.7" stroke="#c4c4c4" stroke-width="0.7"/></g>
<line x1="29.6" y1="1257.3" x2="175.9" y2="1308.5" stroke="#4a4a4a" stroke-width="0.9"/>
<line x1="175.9" y1="1308.5" x2="253.4" y2="1229.1" stroke="#4a4a4a" stroke-width="0.9"/>
<line x1="253.4" y1="1229.1" x2="259.0" y2="1120.9" stroke="#4a4a4a" stroke-width="0.9"/>
<line x1="39.5" y1="1260.8" x2="36.3" y2="1263.5" stroke="#4a4a4a" stroke-width="0.9"/>
<line x1="52.9" y1="1265.5" x2="49.7" y2="1268.2" stroke="#4a4a4a" stroke-width="0.9"/>
<line x1="66.5" y1="1270.2" x2="63.3" y2="1273.0" stroke="#4a4a4a" stroke-width="0.9"/>
<line x1="80.4" y1="1275.1" x2="77.2" y2="1277.9" stroke="#4a4a4a" stroke-width="0.9"/>
<line x1="94.4" y1="1280.0" x2="91.3" y2="1282.8" stroke="#4a4a4a" stroke-width="0.9"/>
<line x1="108.7" y1="1285.0" x2="105.6" y2="1287.9" stroke="#4a4a4a" stroke-width="0.9"/>
<line x1="123.2" y1="1290.1" x2="120.1" y2="1293.0" stroke="#4a4a4a" stroke-width="0.9"/>
<line x1="138.0" y1="1295.2" x2="134.9" y2="1298.2" stroke="#4a4a4a" stroke-width="0.9"/>
<line x1="153.0" y1="1300.5" x2="149.9" y2="1303.5" stroke="#4a4a4a" stroke-width="0.9"/>
<line x1="168.2" y1="1305.8" x2="165.2" y2="1308.9" stroke="#4a4a4a" stroke-width="0.9"/>
<line x1="253.3" y1="1212.8" x2="257.8" y2="1212.8" stroke="#4a4a4a" stroke-width="0.9"/>
<line x1="253.9" y1="1201.0" x2="258.4" y2="1201.0" stroke="#4a4a4a" stroke-width="0.9"/>
<line x1="254.5" y1="1189.1" x2="259.0" y2="1189.1" stroke="#4a4a4a" stroke-width="0.9"/>
<line x1="255.1" y1="1177.1" x2="259.6" y2="1177.1" stroke="#4a4a4a" stroke-width="0.9"/>
<line x1="255.8" y1="1164.9" x2="260.3" y2="1164.9" stroke="#4a4a4a" stroke-width="0.9"/>
<line x1="256.4" y1="1152.6" x2="260.9" y2="1152.6" stroke="#4a4a4a" stroke-width="0.9"/>
<line x1="257.0" y1="1140.2" x2="261.5" y2="1140.2" stroke="#4a4a4a" stroke-width="0.9"/>
<line x1="257.7" y1="1127.6" x2="262.2" y2="1127.6" stroke="#4a4a4a" stroke-width="0.9"/>
<line x1="180.1" y1="1304.2" x2="184.9" y2="1305.8" stroke="#4a4a4a" stroke-width="0.9"/>
<line x1="249.9" y1="1232.7" x2="254.4" y2="1234.0" stroke="#4a4a4a" stroke-width="0.9"/>
<path d="M38.9,1160.0 C39.6,1160.8 41.6,1163.5 43.4,1164.5 C45.2,1165.5 47.5,1165.4 49.9,1165.8 C52.3,1166.2 55.2,1167.0 57.8,1167.1 C60.4,1167.2 63.3,1166.3 65.7,1166.3 C68.1,1166.3 70.3,1166.1 72.3,1167.1 C74.3,1168.1 75.8,1172.0 77.5,1172.3 C79.2,1172.6 80.8,1167.8 82.8,1168.9 C84.8,1170.0 87.5,1176.7 89.3,1178.9 C91.0,1181.1 91.8,1181.9 93.3,1182.1 C94.8,1182.3 96.8,1180.3 98.5,1180.2 C100.2,1180.1 102.0,1181.5 103.8,1181.5 C105.5,1181.5 107.2,1179.3 109.0,1180.2 C110.8,1181.1 112.5,1185.0 114.3,1186.8 C116.1,1188.5 118.1,1189.9 119.6,1190.7 C121.1,1191.5 122.8,1191.4 123.5,1191.5 L123.5,1277.4 L123.5,1277.4 C122.6,1277.2 120.2,1276.8 118.2,1276.1 C116.2,1275.4 113.7,1275.0 111.7,1273.5 C109.7,1272.0 108.2,1268.7 106.4,1266.9 C104.7,1265.2 103.0,1263.2 101.2,1263.0 C99.5,1262.8 97.7,1265.6 95.9,1265.6 C94.2,1265.6 92.7,1264.3 90.7,1263.0 C88.7,1261.7 86.1,1259.0 84.1,1257.7 C82.1,1256.4 81.0,1255.8 78.8,1255.1 C76.6,1254.4 73.5,1254.2 70.9,1253.8 C68.3,1253.4 65.7,1253.2 63.1,1252.5 C60.5,1251.8 57.6,1249.7 55.2,1249.3 C52.8,1248.9 51.1,1250.2 48.6,1249.9 C46.1,1249.6 41.4,1247.7 40.0,1247.2 Z" fill="rgb(0,128,0)" fill-opacity="0.3"/>
<path d="M38.9,1160.0 C39.6,1160.8 41.6,1163.5 43.4,1164.5 C45.2,1165.5 47.5,1165.4 49.9,1165.8 C52.3,1166.2 55.2,1167.0 57.8,1167.1 C60.4,1167.2 63.3,1166.3 65.7,1166.3 C68.1,1166.3 70.3,1166.1 72.3,1167.1 C74.3,1168.1 75.8,1172.0 77.5,1172.3 C79.2,1172.6 80.8,1167.8 82.8,1168.9 C84.8,1170.0 87.5,1176.7 89.3,1178.9 C91.0,1181.1 91.8,1181.9 93.3,1182.1 C94.8,1182.3 96.8,1180.3 98.5,1180.2 C100.2,1180.1 102.0,1181.5 103.8,1181.5 C105.5,1181.5 107.2,1179.3 109.0,1180.2 C110.8,1181.1 112.5,1185.0 114.3,1186.8 C116.1,1188.5 118.1,1189.9 119.6,1190.7 C121.1,1191.5 122.8,1191.4 123.5,1191.5" fill="none" stroke="#158a15" stroke-width="1.5"/>
<path d="M40.0,1247.2 C41.4,1247.7 46.1,1249.6 48.6,1249.9 C51.1,1250.2 52.8,1248.9 55.2,1249.3 C57.6,1249.7 60.5,1251.8 63.1,1252.5 C65.7,1253.2 68.3,1253.4 70.9,1253.8 C73.5,1254.2 76.6,1254.4 78.8,1255.1 C81.0,1255.8 82.1,1256.4 84.1,1257.7 C86.1,1259.0 88.7,1261.7 90.7,1263.0 C92.7,1264.3 94.2,1265.6 95.9,1265.6 C97.7,1265.6 99.5,1262.8 101.2,1263.0 C103.0,1263.2 104.7,1265.2 106.4,1266.9 C108.2,1268.7 109.7,1272.0 111.7,1273.5 C113.7,1275.0 116.2,1275.4 118.2,1276.1 C120.2,1276.8 122.6,1277.2 123.5,1277.4" fill="none" stroke="#158a15" stroke-width="1.5"/>
<g><line x1="119.4" y1="1124.8" x2="119.4" y2="1159.9" stroke="rgba(255,0,0,0.82)" stroke-width="3.5" stroke-linecap="round"/><circle cx="119.2" cy="1136.0" r="1.95" fill="rgba(255,0,0,0.82)"/><circle cx="119.1" cy="1147.8" r="1.95" fill="rgba(255,0,0,0.82)"/><circle cx="119.3" cy="1143.7" r="1.95" fill="rgba(255,0,0,0.82)"/><circle cx="119.4" cy="1126.4" r="1.95" fill="rgba(255,0,0,0.82)"/><circle cx="119.4" cy="1125.7" r="1.95" fill="rgba(255,0,0,0.82)"/><circle cx="119.4" cy="1123.9" r="1.8" fill="rgba(255,0,0,0.50)"/><circle cx="119.4" cy="1121.8" r="1.8" fill="rgba(255,0,0,0.50)"/><circle cx="119.4" cy="1123.4" r="1.8" fill="rgba(255,0,0,0.50)"/><circle cx="119.4" cy="1168.4" r="1.8" fill="rgba(255,0,0,0.50)"/><circle cx="119.4" cy="1164.4" r="1.8" fill="rgba(255,0,0,0.50)"/><circle cx="119.4" cy="1121.4" r="1.8" fill="rgba(255,0,0,0.50)"/><circle cx="119.4" cy="1168.7" r="1.8" fill="rgba(255,0,0,0.50)"/><line x1="125.8" y1="1125.6" x2="125.8" y2="1160.7" stroke="rgba(255,0,0,0.83)" stroke-width="3.5" stroke-linecap="round"/><circle cx="125.5" cy="1160.3" r="1.95" fill="rgba(255,0,0,0.83)"/><circle cx="125.7" cy="1156.1" r="1.95" fill="rgba(255,0,0,0.83)"/><circle cx="125.6" cy="1130.3" r="1.95" fill="rgba(255,0,0,0.83)"/><circle cx="126.0" cy="1136.2" r="1.95" fill="rgba(255,0,0,0.83)"/><circle cx="125.9" cy="1131.6" r="1.95" fill="rgba(255,0,0,0.83)"/><circle cx="125.8" cy="1165.4" r="1.8" fill="rgba(255,0,0,0.52)"/><circle cx="125.8" cy="1162.2" r="1.8" fill="rgba(255,0,0,0.52)"/><circle cx="125.8" cy="1123.6" r="1.8" fill="rgba(255,0,0,0.52)"/><circle cx="125.8" cy="1165.9" r="1.8" fill="rgba(255,0,0,0.52)"/><circle cx="125.8" cy="1121.8" r="1.8" fill="rgba(255,0,0,0.52)"/><circle cx="125.8" cy="1120.0" r="1.8" fill="rgba(255,0,0,0.52)"/><circle cx="125.8" cy="1170.4" r="1.8" fill="rgba(255,0,0,0.52)"/><line x1="132.3" y1="1126.3" x2="132.3" y2="1162.6" stroke="rgba(255,0,0,0.84)" stroke-width="3.5" stroke-linecap="round"/><circle cx="132.1" cy="1142.7" r="1.95" fill="rgba(255,0,0,0.84)"/><circle cx="132.4" cy="1155.5" r="1.95" fill="rgba(255,0,0,0.84)"/><circle cx="132.3" cy="1134.9" r="1.95" fill="rgba(255,0,0,0.84)"/><circle cx="132.5" cy="1145.4" r="1.95" fill="rgba(255,0,0,0.84)"/><circle cx="132.1" cy="1153.0" r="1.95" fill="rgba(255,0,0,0.84)"/><circle cx="132.3" cy="1164.8" r="1.8" fill="rgba(255,0,0,0.55)"/><circle cx="132.3" cy="1123.9" r="1.8" fill="rgba(255,0,0,0.55)"/><circle cx="132.3" cy="1124.5" r="1.8" fill="rgba(255,0,0,0.55)"/><circle cx="132.3" cy="1124.1" r="1.8" fill="rgba(255,0,0,0.55)"/><circle cx="132.3" cy="1169.0" r="1.8" fill="rgba(255,0,0,0.55)"/><circle cx="132.3" cy="1123.4" r="1.8" fill="rgba(255,0,0,0.55)"/><circle cx="132.3" cy="1172.4" r="1.8" fill="rgba(255,0,0,0.55)"/><line x1="138.7" y1="1126.7" x2="138.7" y2="1165.7" stroke="rgba(255,0,0,0.85)" stroke-width="3.5" stroke-linecap="round"/><circle cx="138.5" cy="1161.2" r="1.95" fill="rgba(255,0,0,0.85)"/><circle cx="138.7" cy="1154.0" r="1.95" fill="rgba(255,0,0,0.85)"/><circle cx="138.6" cy="1149.4" r="1.95" fill="rgba(255,0,0,0.85)"/><circle cx="139.0" cy="1159.8" r="1.95" fill="rgba(255,0,0,0.85)"/><circle cx="138.8" cy="1145.2" r="1.95" fill="rgba(255,0,0,0.85)"/><circle cx="138.7" cy="1125.0" r="1.8" fill="rgba(255,0,0,0.57)"/><circle cx="138.7" cy="1174.1" r="1.8" fill="rgba(255,0,0,0.57)"/><circle cx="138.7" cy="1169.1" r="1.8" fill="rgba(255,0,0,0.57)"/><circle cx="138.7" cy="1125.1" r="1.8" fill="rgba(255,0,0,0.57)"/><circle cx="138.7" cy="1125.3" r="1.8" fill="rgba(255,0,0,0.57)"/><circle cx="138.7" cy="1174.1" r="1.8" fill="rgba(255,0,0,0.57)"/><line x1="145.1" y1="1127.8" x2="145.1" y2="1167.6" stroke="rgba(255,0,0,0.86)" stroke-width="3.5" stroke-linecap="round"/><circle cx="144.8" cy="1134.1" r="1.95" fill="rgba(255,0,0,0.86)"/><circle cx="145.3" cy="1129.7" r="1.95" fill="rgba(255,0,0,0.86)"/><circle cx="144.9" cy="1132.5" r="1.95" fill="rgba(255,0,0,0.86)"/><circle cx="145.4" cy="1143.2" r="1.95" fill="rgba(255,0,0,0.86)"/><circle cx="145.1" cy="1130.5" r="1.95" fill="rgba(255,0,0,0.86)"/><circle cx="145.1" cy="1175.1" r="1.8" fill="rgba(255,0,0,0.59)"/><circle cx="145.1" cy="1175.0" r="1.8" fill="rgba(255,0,0,0.59)"/><circle cx="145.1" cy="1126.6" r="1.8" fill="rgba(255,0,0,0.59)"/><circle cx="145.1" cy="1126.1" r="1.8" fill="rgba(255,0,0,0.59)"/><circle cx="145.1" cy="1169.8" r="1.8" fill="rgba(255,0,0,0.59)"/><circle cx="145.1" cy="1175.8" r="1.8" fill="rgba(255,0,0,0.59)"/><line x1="151.5" y1="1129.1" x2="151.5" y2="1169.5" stroke="rgba(255,0,0,0.87)" stroke-width="3.5" stroke-linecap="round"/><circle cx="151.3" cy="1135.9" r="1.95" fill="rgba(255,0,0,0.87)"/><circle cx="151.5" cy="1138.3" r="1.95" fill="rgba(255,0,0,0.87)"/><circle cx="151.4" cy="1153.0" r="1.95" fill="rgba(255,0,0,0.87)"/><circle cx="151.5" cy="1128.8" r="1.95" fill="rgba(255,0,0,0.87)"/><circle cx="151.6" cy="1143.9" r="1.95" fill="rgba(255,0,0,0.87)"/><circle cx="151.5" cy="1175.7" r="1.8" fill="rgba(255,0,0,0.62)"/><circle cx="151.5" cy="1175.2" r="1.8" fill="rgba(255,0,0,0.62)"/><circle cx="151.5" cy="1170.8" r="1.8" fill="rgba(255,0,0,0.62)"/><circle cx="151.5" cy="1176.3" r="1.8" fill="rgba(255,0,0,0.62)"/><circle cx="151.5" cy="1176.4" r="1.8" fill="rgba(255,0,0,0.62)"/><circle cx="151.5" cy="1177.7" r="1.8" fill="rgba(255,0,0,0.62)"/><line x1="158.0" y1="1129.8" x2="158.0" y2="1172.6" stroke="rgba(255,0,0,0.88)" stroke-width="3.5" stroke-linecap="round"/><circle cx="157.9" cy="1146.5" r="1.95" fill="rgba(255,0,0,0.88)"/><circle cx="158.1" cy="1133.9" r="1.95" fill="rgba(255,0,0,0.88)"/><circle cx="157.7" cy="1132.1" r="1.95" fill="rgba(255,0,0,0.88)"/><circle cx="157.7" cy="1138.5" r="1.95" fill="rgba(255,0,0,0.88)"/><circle cx="157.6" cy="1144.2" r="1.95" fill="rgba(255,0,0,0.88)"/><circle cx="157.7" cy="1129.4" r="1.95" fill="rgba(255,0,0,0.88)"/><circle cx="158.0" cy="1128.8" r="1.8" fill="rgba(255,0,0,0.64)"/><circle cx="158.0" cy="1128.2" r="1.8" fill="rgba(255,0,0,0.64)"/><circle cx="158.0" cy="1174.5" r="1.8" fill="rgba(255,0,0,0.64)"/><circle cx="158.0" cy="1128.8" r="1.8" fill="rgba(255,0,0,0.64)"/><circle cx="158.0" cy="1129.1" r="1.8" fill="rgba(255,0,0,0.64)"/><circle cx="158.0" cy="1179.3" r="1.8" fill="rgba(255,0,0,0.64)"/><line x1="164.4" y1="1131.1" x2="164.4" y2="1175.7" stroke="rgba(255,0,0,0.89)" stroke-width="3.5" stroke-linecap="round"/><circle cx="164.7" cy="1169.3" r="1.95" fill="rgba(255,0,0,0.89)"/><circle cx="164.4" cy="1151.8" r="1.95" fill="rgba(255,0,0,0.89)"/><circle cx="164.1" cy="1134.5" r="1.95" fill="rgba(255,0,0,0.89)"/><circle cx="164.2" cy="1146.2" r="1.95" fill="rgba(255,0,0,0.89)"/><circle cx="164.1" cy="1168.4" r="1.95" fill="rgba(255,0,0,0.89)"/><circle cx="164.7" cy="1131.6" r="1.95" fill="rgba(255,0,0,0.89)"/><circle cx="164.4" cy="1177.2" r="1.8" fill="rgba(255,0,0,0.67)"/><circle cx="164.4" cy="1176.4" r="1.8" fill="rgba(255,0,0,0.67)"/><circle cx="164.4" cy="1180.8" r="1.8" fill="rgba(255,0,0,0.67)"/><circle cx="164.4" cy="1179.7" r="1.8" fill="rgba(255,0,0,0.67)"/><circle cx="164.4" cy="1130.0" r="1.8" fill="rgba(255,0,0,0.67)"/><circle cx="164.4" cy="1180.9" r="1.8" fill="rgba(255,0,0,0.67)"/><line x1="170.8" y1="1134.7" x2="170.8" y2="1177.5" stroke="rgba(255,0,0,0.90)" stroke-width="3.5" stroke-linecap="round"/><circle cx="171.0" cy="1141.6" r="1.95" fill="rgba(255,0,0,0.90)"/><circle cx="171.0" cy="1157.6" r="1.95" fill="rgba(255,0,0,0.90)"/><circle cx="170.6" cy="1148.7" r="1.95" fill="rgba(255,0,0,0.90)"/><circle cx="171.1" cy="1169.8" r="1.95" fill="rgba(255,0,0,0.90)"/><circle cx="171.0" cy="1171.6" r="1.95" fill="rgba(255,0,0,0.90)"/><circle cx="171.0" cy="1170.1" r="1.95" fill="rgba(255,0,0,0.90)"/><circle cx="170.8" cy="1133.2" r="1.8" fill="rgba(255,0,0,0.69)"/><circle cx="170.8" cy="1134.1" r="1.8" fill="rgba(255,0,0,0.69)"/><circle cx="170.8" cy="1133.6" r="1.8" fill="rgba(255,0,0,0.69)"/><circle cx="170.8" cy="1132.9" r="1.8" fill="rgba(255,0,0,0.69)"/><circle cx="170.8" cy="1180.5" r="1.8" fill="rgba(255,0,0,0.69)"/><circle cx="170.8" cy="1182.8" r="1.8" fill="rgba(255,0,0,0.69)"/><line x1="177.2" y1="1139.0" x2="177.2" y2="1179.5" stroke="rgba(255,0,0,0.91)" stroke-width="3.5" stroke-linecap="round"/><circle cx="177.6" cy="1177.3" r="1.95" fill="rgba(255,0,0,0.91)"/><circle cx="177.1" cy="1178.1" r="1.95" fill="rgba(255,0,0,0.91)"/><circle cx="177.0" cy="1147.7" r="1.95" fill="rgba(255,0,0,0.91)"/><circle cx="177.0" cy="1146.7" r="1.95" fill="rgba(255,0,0,0.91)"/><circle cx="177.5" cy="1164.4" r="1.95" fill="rgba(255,0,0,0.91)"/><circle cx="177.2" cy="1182.7" r="1.8" fill="rgba(255,0,0,0.71)"/><circle cx="177.2" cy="1184.1" r="1.8" fill="rgba(255,0,0,0.71)"/><circle cx="177.2" cy="1135.5" r="1.8" fill="rgba(255,0,0,0.71)"/><circle cx="177.2" cy="1184.1" r="1.8" fill="rgba(255,0,0,0.71)"/><circle cx="177.2" cy="1182.7" r="1.8" fill="rgba(255,0,0,0.71)"/><circle cx="177.2" cy="1134.3" r="1.8" fill="rgba(255,0,0,0.71)"/><circle cx="177.2" cy="1184.9" r="1.8" fill="rgba(255,0,0,0.71)"/><line x1="183.7" y1="1143.8" x2="183.7" y2="1181.3" stroke="rgba(255,0,0,0.91)" stroke-width="3.5" stroke-linecap="round"/><circle cx="183.9" cy="1150.2" r="1.95" fill="rgba(255,0,0,0.91)"/><circle cx="183.9" cy="1156.1" r="1.95" fill="rgba(255,0,0,0.91)"/><circle cx="183.6" cy="1180.7" r="1.95" fill="rgba(255,0,0,0.91)"/><circle cx="184.0" cy="1158.8" r="1.95" fill="rgba(255,0,0,0.91)"/><circle cx="183.4" cy="1171.2" r="1.95" fill="rgba(255,0,0,0.91)"/><circle cx="183.7" cy="1141.9" r="1.8" fill="rgba(255,0,0,0.74)"/><circle cx="183.7" cy="1185.8" r="1.8" fill="rgba(255,0,0,0.74)"/><circle cx="183.7" cy="1137.8" r="1.8" fill="rgba(255,0,0,0.74)"/><circle cx="183.7" cy="1185.2" r="1.8" fill="rgba(255,0,0,0.74)"/><circle cx="183.7" cy="1139.3" r="1.8" fill="rgba(255,0,0,0.74)"/><circle cx="183.7" cy="1136.9" r="1.8" fill="rgba(255,0,0,0.74)"/><circle cx="183.7" cy="1186.6" r="1.8" fill="rgba(255,0,0,0.74)"/><line x1="190.1" y1="1143.3" x2="190.1" y2="1183.8" stroke="rgba(255,0,0,0.92)" stroke-width="3.5" stroke-linecap="round"/><circle cx="189.7" cy="1148.3" r="1.95" fill="rgba(255,0,0,0.92)"/><circle cx="190.2" cy="1183.1" r="1.95" fill="rgba(255,0,0,0.92)"/><circle cx="190.4" cy="1164.7" r="1.95" fill="rgba(255,0,0,0.92)"/><circle cx="190.3" cy="1160.8" r="1.95" fill="rgba(255,0,0,0.92)"/><circle cx="189.9" cy="1177.1" r="1.95" fill="rgba(255,0,0,0.92)"/><circle cx="190.1" cy="1141.3" r="1.8" fill="rgba(255,0,0,0.76)"/><circle cx="190.1" cy="1140.2" r="1.8" fill="rgba(255,0,0,0.76)"/><circle cx="190.1" cy="1140.8" r="1.8" fill="rgba(255,0,0,0.76)"/><circle cx="190.1" cy="1139.0" r="1.8" fill="rgba(255,0,0,0.76)"/><circle cx="190.1" cy="1140.6" r="1.8" fill="rgba(255,0,0,0.76)"/><circle cx="190.1" cy="1138.7" r="1.8" fill="rgba(255,0,0,0.76)"/><circle cx="190.1" cy="1188.5" r="1.8" fill="rgba(255,0,0,0.76)"/><line x1="196.5" y1="1147.6" x2="196.5" y2="1185.1" stroke="rgba(255,0,0,0.93)" stroke-width="3.5" stroke-linecap="round"/><circle cx="196.8" cy="1169.6" r="1.95" fill="rgba(255,0,0,0.93)"/><circle cx="196.8" cy="1163.3" r="1.95" fill="rgba(255,0,0,0.93)"/><circle cx="196.5" cy="1166.4" r="1.95" fill="rgba(255,0,0,0.93)"/><circle cx="196.2" cy="1167.3" r="1.95" fill="rgba(255,0,0,0.93)"/><circle cx="196.3" cy="1164.1" r="1.95" fill="rgba(255,0,0,0.93)"/><circle cx="196.5" cy="1141.2" r="1.8" fill="rgba(255,0,0,0.78)"/><circle cx="196.5" cy="1143.2" r="1.8" fill="rgba(255,0,0,0.78)"/><circle cx="196.5" cy="1188.6" r="1.8" fill="rgba(255,0,0,0.78)"/><circle cx="196.5" cy="1142.9" r="1.8" fill="rgba(255,0,0,0.78)"/><circle cx="196.5" cy="1189.5" r="1.8" fill="rgba(255,0,0,0.78)"/><circle cx="196.5" cy="1140.0" r="1.8" fill="rgba(255,0,0,0.78)"/><circle cx="196.5" cy="1190.4" r="1.8" fill="rgba(255,0,0,0.78)"/><line x1="202.9" y1="1148.3" x2="202.9" y2="1187.0" stroke="rgba(255,0,0,0.94)" stroke-width="3.5" stroke-linecap="round"/><circle cx="203.0" cy="1152.0" r="1.95" fill="rgba(255,0,0,0.94)"/><circle cx="202.8" cy="1157.7" r="1.95" fill="rgba(255,0,0,0.94)"/><circle cx="202.9" cy="1178.5" r="1.95" fill="rgba(255,0,0,0.94)"/><circle cx="203.1" cy="1170.1" r="1.95" fill="rgba(255,0,0,0.94)"/><circle cx="202.9" cy="1184.0" r="1.95" fill="rgba(255,0,0,0.94)"/><circle cx="202.9" cy="1190.2" r="1.8" fill="rgba(255,0,0,0.81)"/><circle cx="202.9" cy="1191.0" r="1.8" fill="rgba(255,0,0,0.81)"/><circle cx="202.9" cy="1141.7" r="1.8" fill="rgba(255,0,0,0.81)"/><circle cx="202.9" cy="1138.2" r="1.8" fill="rgba(255,0,0,0.81)"/><circle cx="202.9" cy="1191.8" r="1.8" fill="rgba(255,0,0,0.81)"/><circle cx="202.9" cy="1137.8" r="1.8" fill="rgba(255,0,0,0.81)"/><circle cx="202.9" cy="1192.2" r="1.8" fill="rgba(255,0,0,0.81)"/><line x1="209.4" y1="1152.5" x2="209.4" y2="1188.2" stroke="rgba(255,0,0,0.95)" stroke-width="3.5" stroke-linecap="round"/><circle cx="209.2" cy="1186.6" r="1.95" fill="rgba(255,0,0,0.95)"/><circle cx="209.7" cy="1172.6" r="1.95" fill="rgba(255,0,0,0.95)"/><circle cx="209.1" cy="1182.9" r="1.95" fill="rgba(255,0,0,0.95)"/><circle cx="209.3" cy="1156.5" r="1.95" fill="rgba(255,0,0,0.95)"/><circle cx="209.2" cy="1154.7" r="1.95" fill="rgba(255,0,0,0.95)"/><circle cx="209.4" cy="1144.3" r="1.8" fill="rgba(255,0,0,0.83)"/><circle cx="209.4" cy="1193.6" r="1.8" fill="rgba(255,0,0,0.83)"/><circle cx="209.4" cy="1143.9" r="1.8" fill="rgba(255,0,0,0.83)"/><circle cx="209.4" cy="1189.9" r="1.8" fill="rgba(255,0,0,0.83)"/><circle cx="209.4" cy="1194.0" r="1.8" fill="rgba(255,0,0,0.83)"/><circle cx="209.4" cy="1141.4" r="1.8" fill="rgba(255,0,0,0.83)"/><circle cx="209.4" cy="1194.1" r="1.8" fill="rgba(255,0,0,0.83)"/><line x1="215.8" y1="1155.0" x2="215.8" y2="1188.4" stroke="rgba(255,0,0,0.96)" stroke-width="3.5" stroke-linecap="round"/><circle cx="216.1" cy="1162.0" r="1.95" fill="rgba(255,0,0,0.96)"/><circle cx="215.8" cy="1168.2" r="1.95" fill="rgba(255,0,0,0.96)"/><circle cx="216.0" cy="1188.5" r="1.95" fill="rgba(255,0,0,0.96)"/><circle cx="215.7" cy="1160.0" r="1.95" fill="rgba(255,0,0,0.96)"/><circle cx="215.8" cy="1191.8" r="1.8" fill="rgba(255,0,0,0.86)"/><circle cx="215.8" cy="1154.5" r="1.8" fill="rgba(255,0,0,0.86)"/><circle cx="215.8" cy="1189.2" r="1.8" fill="rgba(255,0,0,0.86)"/><circle cx="215.8" cy="1192.5" r="1.8" fill="rgba(255,0,0,0.86)"/><circle cx="215.8" cy="1154.5" r="1.8" fill="rgba(255,0,0,0.86)"/><circle cx="215.8" cy="1196.0" r="1.8" fill="rgba(255,0,0,0.86)"/><line x1="222.2" y1="1156.8" x2="222.2" y2="1190.2" stroke="rgba(255,0,0,0.97)" stroke-width="3.5" stroke-linecap="round"/><circle cx="222.2" cy="1177.8" r="1.95" fill="rgba(255,0,0,0.97)"/><circle cx="222.6" cy="1158.6" r="1.95" fill="rgba(255,0,0,0.97)"/><circle cx="222.6" cy="1183.5" r="1.95" fill="rgba(255,0,0,0.97)"/><circle cx="222.1" cy="1159.9" r="1.95" fill="rgba(255,0,0,0.97)"/><circle cx="222.2" cy="1156.3" r="1.8" fill="rgba(255,0,0,0.88)"/><circle cx="222.2" cy="1156.3" r="1.8" fill="rgba(255,0,0,0.88)"/><circle cx="222.2" cy="1156.3" r="1.8" fill="rgba(255,0,0,0.88)"/><circle cx="222.2" cy="1193.1" r="1.8" fill="rgba(255,0,0,0.88)"/><circle cx="222.2" cy="1156.3" r="1.8" fill="rgba(255,0,0,0.88)"/><circle cx="222.2" cy="1197.8" r="1.8" fill="rgba(255,0,0,0.88)"/><line x1="228.6" y1="1158.7" x2="228.6" y2="1192.1" stroke="rgba(255,0,0,0.98)" stroke-width="3.5" stroke-linecap="round"/><circle cx="228.8" cy="1177.8" r="1.95" fill="rgba(255,0,0,0.98)"/><circle cx="228.3" cy="1161.3" r="1.95" fill="rgba(255,0,0,0.98)"/><circle cx="228.6" cy="1181.9" r="1.95" fill="rgba(255,0,0,0.98)"/><circle cx="229.0" cy="1160.7" r="1.95" fill="rgba(255,0,0,0.98)"/><circle cx="228.6" cy="1198.5" r="1.8" fill="rgba(255,0,0,0.90)"/><circle cx="228.6" cy="1158.2" r="1.8" fill="rgba(255,0,0,0.90)"/><circle cx="228.6" cy="1158.2" r="1.8" fill="rgba(255,0,0,0.90)"/><circle cx="228.6" cy="1158.2" r="1.8" fill="rgba(255,0,0,0.90)"/><circle cx="228.6" cy="1199.3" r="1.8" fill="rgba(255,0,0,0.90)"/><circle cx="228.6" cy="1199.7" r="1.8" fill="rgba(255,0,0,0.90)"/><line x1="235.1" y1="1160.0" x2="235.1" y2="1194.0" stroke="rgba(255,0,0,0.99)" stroke-width="3.5" stroke-linecap="round"/><circle cx="234.8" cy="1168.9" r="1.95" fill="rgba(255,0,0,0.99)"/><circle cx="234.9" cy="1177.9" r="1.95" fill="rgba(255,0,0,0.99)"/><circle cx="234.8" cy="1163.3" r="1.95" fill="rgba(255,0,0,0.99)"/><circle cx="234.9" cy="1161.3" r="1.95" fill="rgba(255,0,0,0.99)"/><circle cx="235.1" cy="1159.5" r="1.8" fill="rgba(255,0,0,0.93)"/><circle cx="235.1" cy="1197.1" r="1.8" fill="rgba(255,0,0,0.93)"/><circle cx="235.1" cy="1196.2" r="1.8" fill="rgba(255,0,0,0.93)"/><circle cx="235.1" cy="1159.5" r="1.8" fill="rgba(255,0,0,0.93)"/><circle cx="235.1" cy="1159.5" r="1.8" fill="rgba(255,0,0,0.93)"/><circle cx="235.1" cy="1201.6" r="1.8" fill="rgba(255,0,0,0.93)"/><line x1="241.5" y1="1160.7" x2="241.5" y2="1194.6" stroke="rgba(255,0,0,1.00)" stroke-width="3.5" stroke-linecap="round"/><circle cx="241.5" cy="1185.8" r="1.95" fill="rgba(255,0,0,1.00)"/><circle cx="241.5" cy="1166.8" r="1.95" fill="rgba(255,0,0,1.00)"/><circle cx="241.2" cy="1192.8" r="1.95" fill="rgba(255,0,0,1.00)"/><circle cx="241.5" cy="1188.8" r="1.95" fill="rgba(255,0,0,1.00)"/><circle cx="241.5" cy="1160.2" r="1.8" fill="rgba(255,0,0,0.95)"/><circle cx="241.5" cy="1160.2" r="1.8" fill="rgba(255,0,0,0.95)"/><circle cx="241.5" cy="1203.3" r="1.8" fill="rgba(255,0,0,0.95)"/><circle cx="241.5" cy="1160.2" r="1.8" fill="rgba(255,0,0,0.95)"/><circle cx="241.5" cy="1200.9" r="1.8" fill="rgba(255,0,0,0.95)"/><circle cx="241.5" cy="1203.4" r="1.8" fill="rgba(255,0,0,0.95)"/></g>
<circle cx="202.5" cy="1137.5" r="1.7" fill="rgba(255,0,0,0.9)"/>
<circle cx="208.5" cy="1141.0" r="1.7" fill="rgba(255,0,0,0.9)"/>
<line x1="34.2" y1="1255.1" x2="28.6" y2="1091.9" stroke="#000" stroke-width="1.5"/>
<polygon points="28.6,1091.9 31.4,1097.8 26.2,1098.0" fill="#000"/>
<line x1="109.8" y1="1192.6" x2="107.9" y2="1053.7" stroke="#000" stroke-width="1.5"/>
<polygon points="107.9,1053.7 110.6,1059.7 105.4,1059.7" fill="#000"/>
<line x1="32.1" y1="1203.9" x2="253.6" y2="1269.6" stroke="#000" stroke-width="1.5"/>
<polygon points="253.6,1269.6 247.1,1270.4 248.6,1265.4" fill="#000"/>
<line x1="109.2" y1="1142.7" x2="293.6" y2="1192.0" stroke="#000" stroke-width="1.5"/>
<polygon points="293.6,1192.0 287.1,1193.0 288.5,1187.9" fill="#000"/>
<polyline points="40.7,1203.9 52.6,1207.8 63.1,1211.2 72.3,1212.5 78.8,1215.7 83.6,1213.1 88.0,1217.8 92.0,1224.9 97.2,1222.3 101.2,1224.4 105.6,1222.3 110.4,1228.3 114.3,1232.0 119.6,1234.1 123.5,1235.4" fill="none" stroke="#2448d8" stroke-width="1" stroke-dasharray="2.2 1.2"/>
<path d="M39.5,1202.7l2.4,2.4m0,-2.4l-2.4,2.4M43.1,1203.9l2.4,2.4m0,-2.4l-2.4,2.4M46.7,1205.1l2.4,2.4m0,-2.4l-2.4,2.4M50.3,1206.2l2.4,2.4m0,-2.4l-2.4,2.4M53.9,1207.4l2.4,2.4m0,-2.4l-2.4,2.4M57.5,1208.6l2.4,2.4m0,-2.4l-2.4,2.4M61.1,1209.7l2.4,2.4m0,-2.4l-2.4,2.4M64.7,1210.4l2.4,2.4m0,-2.4l-2.4,2.4M68.3,1210.9l2.4,2.4m0,-2.4l-2.4,2.4M71.9,1211.7l2.4,2.4m0,-2.4l-2.4,2.4M75.5,1213.5l2.4,2.4m0,-2.4l-2.4,2.4M79.1,1213.7l2.4,2.4m0,-2.4l-2.4,2.4M82.7,1212.2l2.4,2.4m0,-2.4l-2.4,2.4M86.3,1216.1l2.4,2.4m0,-2.4l-2.4,2.4M89.9,1222.1l2.4,2.4m0,-2.4l-2.4,2.4M93.5,1222.3l2.4,2.4m0,-2.4l-2.4,2.4M97.1,1221.7l2.4,2.4m0,-2.4l-2.4,2.4M100.7,1222.9l2.4,2.4m0,-2.4l-2.4,2.4M104.3,1221.1l2.4,2.4m0,-2.4l-2.4,2.4M107.9,1225.5l2.4,2.4m0,-2.4l-2.4,2.4M111.5,1229.3l2.4,2.4m0,-2.4l-2.4,2.4M115.1,1231.6l2.4,2.4m0,-2.4l-2.4,2.4M118.7,1233.0l2.4,2.4m0,-2.4l-2.4,2.4M122.3,1234.2l2.4,2.4m0,-2.4l-2.4,2.4" stroke="#1c3cd4" stroke-width="1" fill="none"/>
<g fill="#111" stroke="#111" stroke-width="0.25"><text x="27.3" y="1067.2" font-size="16.8" text-anchor="start">(g)</text><text x="33.1" y="1109.7" font-size="14.5" text-anchor="start">Height/µm</text><text x="112.0" y="1072.9" font-size="14.5" text-anchor="start">Height/µm</text><text x="20.4" y="1278.8" font-size="14.5" text-anchor="start">7.5</text><text x="38.3" y="1284.0" font-size="14.5" text-anchor="start">39.0</text><text x="63.8" y="1294.0" font-size="14.5" text-anchor="start">70.4</text><text x="87.4" y="1301.1" font-size="14.5" text-anchor="start">101.9</text><text x="110.3" y="1309.8" font-size="14.5" text-anchor="start">133.4</text><text x="282.4" y="1131.5" font-size="14.5" text-anchor="end">0.8</text><text x="282.4" y="1145.4" font-size="14.5" text-anchor="end">0.6</text><text x="282.4" y="1158.4" font-size="14.5" text-anchor="end">0.4</text><text x="282.4" y="1171.0" font-size="14.5" text-anchor="end">0.2</text><text x="282.4" y="1183.6" font-size="14.5" text-anchor="end">0.0</text><text x="282.4" y="1200.2" font-size="14.5" text-anchor="end">-0.2</text><text x="282.4" y="1212.8" font-size="14.5" text-anchor="end">-0.4</text><text x="282.4" y="1225.4" font-size="14.5" text-anchor="end">-0.6</text></g>
<text x="229.2" y="1288.5" font-size="15" fill="#111" stroke="#111" stroke-width="0.25">x/10<tspan dy="-5" dx="0.3" font-size="14.5">−3</tspan><tspan dy="5" dx="0.8" font-size="15">µm</tspan></text>
<rect x="198.0" y="1047.5" width="151.0" height="62.8" rx="8" ry="8" fill="#fff" stroke="#4f73b8" stroke-width="1.1"/><circle cx="208.1" cy="1059.8" r="2.2" fill="#f43030"/><circle cx="208.1" cy="1059.8" r="0.8" fill="#f9a0a0"/><text x="221.5" y="1064.8" font-size="13.1" fill="#111" stroke="#111" stroke-width="0.15">Real Roughness Height</text><line x1="202.5" y1="1073.0" x2="214.5" y2="1073.0" stroke="#229022" stroke-width="1.1"/><text x="221.5" y="1078.2" font-size="13.1" fill="#111" stroke="#111" stroke-width="0.15">95% Range</text><line x1="202.5" y1="1087.2" x2="215.5" y2="1087.2" stroke="#4f7fdc" stroke-width="1.2" stroke-dasharray="2.6 1.2"/><text x="221.5" y="1091.6" font-size="13.1" fill="#111" stroke="#111" stroke-width="0.15">Mean Prediction</text><line x1="203.0" y1="1101.3" x2="215.0" y2="1101.3" stroke="#3a3a3a" stroke-width="1.8"/><text x="221.5" y="1105.0" font-size="13.1" fill="#111" stroke="#111" stroke-width="0.15">Zero Line</text>
<line x1="16.1" y1="1313.9" x2="284.5" y2="1313.9" stroke="#1a1a1a" stroke-width="1.3"/><line x1="16.1" y1="1341.3" x2="284.5" y2="1341.3" stroke="#1a1a1a" stroke-width="1.3"/><line x1="16.1" y1="1368.5" x2="284.5" y2="1368.5" stroke="#1a1a1a" stroke-width="1.3"/><g fill="#111" stroke="#111" stroke-width="0.15"><text x="116.8" y="1329.1" font-size="12.9" text-anchor="middle">feed</text><text x="183.5" y="1329.1" font-size="12.9" text-anchor="middle">velocity</text><text x="250.8" y="1329.1" font-size="12.9" text-anchor="middle">sequence</text><text x="48.6" y="1356.8" font-size="12.9" text-anchor="middle">parameter</text><text x="116.8" y="1356.8" font-size="12.9" text-anchor="middle">9mm/min</text><text x="183.5" y="1356.8" font-size="12.9" text-anchor="middle">31.66m/s</text><text x="250.8" y="1356.8" font-size="12.9" text-anchor="middle">NO.40</text></g>
<polygon points="370.5,1148.8 460.7,1082.0 462.1,1185.0 376.5,1257.6" fill="#f6f6f6"/>
<polygon points="460.7,1082.0 606.1,1117.6 600.5,1224.4 462.1,1185.0" fill="#efefef"/>
<polygon points="376.5,1257.6 462.1,1185.0 600.5,1224.4 522.9,1304.8" fill="#f3f3f3"/>
<g><line x1="472.7" y1="1188.1" x2="471.9" y2="1084.7" stroke="#c4c4c4" stroke-width="0.7"/><line x1="387.5" y1="1261.2" x2="472.7" y2="1188.1" stroke="#c4c4c4" stroke-width="0.7"/><line x1="485.2" y1="1191.6" x2="485.0" y2="1087.9" stroke="#c4c4c4" stroke-width="0.7"/><line x1="401.2" y1="1265.6" x2="485.2" y2="1191.6" stroke="#c4c4c4" stroke-width="0.7"/><line x1="497.8" y1="1195.2" x2="498.2" y2="1091.2" stroke="#c4c4c4" stroke-width="0.7"/><line x1="415.1" y1="1270.0" x2="497.8" y2="1195.2" stroke="#c4c4c4" stroke-width="0.7"/><line x1="510.5" y1="1198.8" x2="511.5" y2="1094.4" stroke="#c4c4c4" stroke-width="0.7"/><line x1="429.1" y1="1274.6" x2="510.5" y2="1198.8" stroke="#c4c4c4" stroke-width="0.7"/><line x1="523.3" y1="1202.5" x2="525.0" y2="1097.7" stroke="#c4c4c4" stroke-width="0.7"/><line x1="443.3" y1="1279.1" x2="523.3" y2="1202.5" stroke="#c4c4c4" stroke-width="0.7"/><line x1="536.3" y1="1206.1" x2="538.6" y2="1101.1" stroke="#c4c4c4" stroke-width="0.7"/><line x1="457.6" y1="1283.8" x2="536.3" y2="1206.1" stroke="#c4c4c4" stroke-width="0.7"/><line x1="549.4" y1="1209.9" x2="552.4" y2="1104.4" stroke="#c4c4c4" stroke-width="0.7"/><line x1="472.1" y1="1288.4" x2="549.4" y2="1209.9" stroke="#c4c4c4" stroke-width="0.7"/><line x1="562.6" y1="1213.6" x2="566.3" y2="1107.9" stroke="#c4c4c4" stroke-width="0.7"/><line x1="486.7" y1="1293.1" x2="562.6" y2="1213.6" stroke="#c4c4c4" stroke-width="0.7"/><line x1="576.0" y1="1217.4" x2="580.3" y2="1111.3" stroke="#c4c4c4" stroke-width="0.7"/><line x1="501.5" y1="1297.9" x2="576.0" y2="1217.4" stroke="#c4c4c4" stroke-width="0.7"/><line x1="589.4" y1="1221.2" x2="594.5" y2="1114.8" stroke="#c4c4c4" stroke-width="0.7"/><line x1="516.5" y1="1302.7" x2="589.4" y2="1221.2" stroke="#c4c4c4" stroke-width="0.7"/><line x1="461.9" y1="1170.7" x2="601.3" y2="1209.6" stroke="#c4c4c4" stroke-width="0.7"/><line x1="375.7" y1="1242.6" x2="461.9" y2="1170.7" stroke="#c4c4c4" stroke-width="0.7"/><line x1="461.7" y1="1159.1" x2="601.9" y2="1197.5" stroke="#c4c4c4" stroke-width="0.7"/><line x1="375.0" y1="1230.3" x2="461.7" y2="1159.1" stroke="#c4c4c4" stroke-width="0.7"/><line x1="461.6" y1="1147.3" x2="602.5" y2="1185.3" stroke="#c4c4c4" stroke-width="0.7"/><line x1="374.3" y1="1217.8" x2="461.6" y2="1147.3" stroke="#c4c4c4" stroke-width="0.7"/><line x1="461.4" y1="1135.3" x2="603.2" y2="1173.0" stroke="#c4c4c4" stroke-width="0.7"/><line x1="373.6" y1="1205.2" x2="461.4" y2="1135.3" stroke="#c4c4c4" stroke-width="0.7"/><line x1="461.3" y1="1123.3" x2="603.9" y2="1160.5" stroke="#c4c4c4" stroke-width="0.7"/><line x1="372.9" y1="1192.5" x2="461.3" y2="1123.3" stroke="#c4c4c4" stroke-width="0.7"/><line x1="461.1" y1="1111.1" x2="604.5" y2="1147.8" stroke="#c4c4c4" stroke-width="0.7"/><line x1="372.2" y1="1179.6" x2="461.1" y2="1111.1" stroke="#c4c4c4" stroke-width="0.7"/><line x1="461.0" y1="1098.7" x2="605.2" y2="1135.0" stroke="#c4c4c4" stroke-width="0.7"/><line x1="371.5" y1="1166.6" x2="461.0" y2="1098.7" stroke="#c4c4c4" stroke-width="0.7"/><line x1="460.8" y1="1086.3" x2="605.9" y2="1122.1" stroke="#c4c4c4" stroke-width="0.7"/><line x1="370.8" y1="1153.4" x2="460.8" y2="1086.3" stroke="#c4c4c4" stroke-width="0.7"/><line x1="381.1" y1="1253.7" x2="375.4" y2="1145.1" stroke="#c4c4c4" stroke-width="0.7"/><line x1="381.1" y1="1253.7" x2="527.1" y2="1300.4" stroke="#c4c4c4" stroke-width="0.7"/><line x1="458.1" y1="1188.4" x2="456.6" y2="1085.0" stroke="#c4c4c4" stroke-width="0.7"/><line x1="458.1" y1="1188.4" x2="596.9" y2="1228.1" stroke="#c4c4c4" stroke-width="0.7"/></g>
<line x1="376.5" y1="1257.6" x2="522.9" y2="1304.8" stroke="#4a4a4a" stroke-width="0.9"/>
<line x1="522.9" y1="1304.8" x2="600.5" y2="1224.4" stroke="#4a4a4a" stroke-width="0.9"/>
<line x1="600.5" y1="1224.4" x2="606.1" y2="1117.6" stroke="#4a4a4a" stroke-width="0.9"/>
<line x1="387.5" y1="1261.2" x2="384.2" y2="1263.9" stroke="#4a4a4a" stroke-width="0.9"/>
<line x1="401.2" y1="1265.6" x2="398.0" y2="1268.4" stroke="#4a4a4a" stroke-width="0.9"/>
<line x1="415.1" y1="1270.0" x2="411.9" y2="1272.9" stroke="#4a4a4a" stroke-width="0.9"/>
<line x1="429.1" y1="1274.6" x2="425.9" y2="1277.4" stroke="#4a4a4a" stroke-width="0.9"/>
<line x1="443.3" y1="1279.1" x2="440.1" y2="1282.0" stroke="#4a4a4a" stroke-width="0.9"/>
<line x1="457.6" y1="1283.8" x2="454.5" y2="1286.7" stroke="#4a4a4a" stroke-width="0.9"/>
<line x1="472.1" y1="1288.4" x2="469.0" y2="1291.4" stroke="#4a4a4a" stroke-width="0.9"/>
<line x1="486.7" y1="1293.1" x2="483.7" y2="1296.2" stroke="#4a4a4a" stroke-width="0.9"/>
<line x1="501.5" y1="1297.9" x2="498.5" y2="1301.0" stroke="#4a4a4a" stroke-width="0.9"/>
<line x1="516.5" y1="1302.7" x2="513.5" y2="1305.8" stroke="#4a4a4a" stroke-width="0.9"/>
<line x1="600.3" y1="1209.6" x2="604.8" y2="1209.6" stroke="#4a4a4a" stroke-width="0.9"/>
<line x1="600.9" y1="1197.5" x2="605.4" y2="1197.5" stroke="#4a4a4a" stroke-width="0.9"/>
<line x1="601.5" y1="1185.3" x2="606.0" y2="1185.3" stroke="#4a4a4a" stroke-width="0.9"/>
<line x1="602.2" y1="1173.0" x2="606.7" y2="1173.0" stroke="#4a4a4a" stroke-width="0.9"/>
<line x1="602.9" y1="1160.5" x2="607.4" y2="1160.5" stroke="#4a4a4a" stroke-width="0.9"/>
<line x1="603.5" y1="1147.8" x2="608.0" y2="1147.8" stroke="#4a4a4a" stroke-width="0.9"/>
<line x1="604.2" y1="1135.0" x2="608.7" y2="1135.0" stroke="#4a4a4a" stroke-width="0.9"/>
<line x1="604.9" y1="1122.1" x2="609.4" y2="1122.1" stroke="#4a4a4a" stroke-width="0.9"/>
<line x1="527.1" y1="1300.4" x2="531.7" y2="1301.9" stroke="#4a4a4a" stroke-width="0.9"/>
<line x1="596.9" y1="1228.1" x2="601.3" y2="1229.3" stroke="#4a4a4a" stroke-width="0.9"/>
<path d="M386.5,1155.3 C387.7,1155.7 391.1,1156.6 393.6,1157.4 C396.1,1158.2 398.9,1159.3 401.5,1160.0 C404.1,1160.7 407.0,1161.0 409.4,1161.8 C411.8,1162.5 413.6,1164.4 416.0,1164.5 C418.4,1164.6 421.4,1162.2 423.8,1162.6 C426.2,1163.0 428.2,1165.7 430.4,1167.1 C432.6,1168.5 434.8,1169.4 437.0,1171.0 C439.2,1172.6 441.3,1175.9 443.5,1176.8 C445.7,1177.7 447.9,1176.6 450.1,1176.3 C452.3,1176.0 454.7,1174.2 456.7,1175.0 C458.7,1175.8 459.9,1179.7 461.9,1181.0 C463.9,1182.3 466.5,1181.8 468.5,1182.8 C470.5,1183.8 472.1,1186.5 473.8,1186.8 C475.6,1187.1 478.1,1185.0 479.0,1184.7 L479.0,1276.1 L479.0,1276.1 C478.1,1275.9 475.6,1275.3 473.8,1274.8 C472.1,1274.3 470.3,1273.7 468.5,1273.0 C466.7,1272.3 465.2,1272.1 463.2,1270.9 C461.2,1269.7 458.9,1266.9 456.7,1265.6 C454.5,1264.3 452.3,1263.0 450.1,1263.0 C447.9,1263.0 445.7,1266.0 443.5,1265.6 C441.3,1265.2 439.2,1261.9 437.0,1260.4 C434.8,1258.9 432.6,1257.5 430.4,1256.4 C428.2,1255.3 426.0,1254.5 423.8,1253.8 C421.6,1253.1 419.5,1253.4 417.3,1252.5 C415.1,1251.6 412.9,1248.9 410.7,1248.5 C408.5,1248.1 406.3,1249.9 404.1,1249.9 C401.9,1249.9 399.8,1249.4 397.6,1248.5 C395.4,1247.6 392.7,1245.5 391.0,1244.6 C389.3,1243.7 388.1,1243.3 387.5,1243.0 Z" fill="rgb(0,128,0)" fill-opacity="0.3"/>
<path d="M386.5,1155.3 C387.7,1155.7 391.1,1156.6 393.6,1157.4 C396.1,1158.2 398.9,1159.3 401.5,1160.0 C404.1,1160.7 407.0,1161.0 409.4,1161.8 C411.8,1162.5 413.6,1164.4 416.0,1164.5 C418.4,1164.6 421.4,1162.2 423.8,1162.6 C426.2,1163.0 428.2,1165.7 430.4,1167.1 C432.6,1168.5 434.8,1169.4 437.0,1171.0 C439.2,1172.6 441.3,1175.9 443.5,1176.8 C445.7,1177.7 447.9,1176.6 450.1,1176.3 C452.3,1176.0 454.7,1174.2 456.7,1175.0 C458.7,1175.8 459.9,1179.7 461.9,1181.0 C463.9,1182.3 466.5,1181.8 468.5,1182.8 C470.5,1183.8 472.1,1186.5 473.8,1186.8 C475.6,1187.1 478.1,1185.0 479.0,1184.7" fill="none" stroke="#158a15" stroke-width="1.5"/>
<path d="M387.5,1243.0 C388.1,1243.3 389.3,1243.7 391.0,1244.6 C392.7,1245.5 395.4,1247.6 397.6,1248.5 C399.8,1249.4 401.9,1249.9 404.1,1249.9 C406.3,1249.9 408.5,1248.1 410.7,1248.5 C412.9,1248.9 415.1,1251.6 417.3,1252.5 C419.5,1253.4 421.6,1253.1 423.8,1253.8 C426.0,1254.5 428.2,1255.3 430.4,1256.4 C432.6,1257.5 434.8,1258.9 437.0,1260.4 C439.2,1261.9 441.3,1265.2 443.5,1265.6 C445.7,1266.0 447.9,1263.0 450.1,1263.0 C452.3,1263.0 454.5,1264.3 456.7,1265.6 C458.9,1266.9 461.2,1269.7 463.2,1270.9 C465.2,1272.1 466.7,1272.3 468.5,1273.0 C470.3,1273.7 472.1,1274.3 473.8,1274.8 C475.6,1275.3 478.1,1275.9 479.0,1276.1" fill="none" stroke="#158a15" stroke-width="1.5"/>
<g><line x1="466.6" y1="1121.3" x2="466.6" y2="1155.7" stroke="rgba(255,0,0,0.82)" stroke-width="3.5" stroke-linecap="round"/><circle cx="466.9" cy="1128.8" r="1.95" fill="rgba(255,0,0,0.82)"/><circle cx="466.7" cy="1125.3" r="1.95" fill="rgba(255,0,0,0.82)"/><circle cx="466.4" cy="1123.8" r="1.95" fill="rgba(255,0,0,0.82)"/><circle cx="466.4" cy="1156.2" r="1.95" fill="rgba(255,0,0,0.82)"/><circle cx="466.6" cy="1143.5" r="1.95" fill="rgba(255,0,0,0.82)"/><line x1="473.1" y1="1122.6" x2="473.1" y2="1157.7" stroke="rgba(255,0,0,0.83)" stroke-width="3.5" stroke-linecap="round"/><circle cx="473.1" cy="1138.5" r="1.95" fill="rgba(255,0,0,0.83)"/><circle cx="473.3" cy="1129.0" r="1.95" fill="rgba(255,0,0,0.83)"/><circle cx="472.9" cy="1125.3" r="1.95" fill="rgba(255,0,0,0.83)"/><circle cx="472.9" cy="1122.8" r="1.95" fill="rgba(255,0,0,0.83)"/><circle cx="473.3" cy="1136.8" r="1.95" fill="rgba(255,0,0,0.83)"/><line x1="479.5" y1="1122.6" x2="479.5" y2="1159.0" stroke="rgba(255,0,0,0.84)" stroke-width="3.5" stroke-linecap="round"/><circle cx="479.2" cy="1136.3" r="1.95" fill="rgba(255,0,0,0.84)"/><circle cx="479.9" cy="1131.8" r="1.95" fill="rgba(255,0,0,0.84)"/><circle cx="479.6" cy="1124.4" r="1.95" fill="rgba(255,0,0,0.84)"/><circle cx="479.6" cy="1136.2" r="1.95" fill="rgba(255,0,0,0.84)"/><circle cx="479.6" cy="1134.8" r="1.95" fill="rgba(255,0,0,0.84)"/><line x1="486.0" y1="1122.5" x2="486.0" y2="1161.0" stroke="rgba(255,0,0,0.85)" stroke-width="3.5" stroke-linecap="round"/><circle cx="486.1" cy="1141.7" r="1.95" fill="rgba(255,0,0,0.85)"/><circle cx="486.0" cy="1157.6" r="1.95" fill="rgba(255,0,0,0.85)"/><circle cx="485.7" cy="1127.6" r="1.95" fill="rgba(255,0,0,0.85)"/><circle cx="486.0" cy="1159.4" r="1.95" fill="rgba(255,0,0,0.85)"/><circle cx="486.3" cy="1129.7" r="1.95" fill="rgba(255,0,0,0.85)"/><line x1="492.4" y1="1124.9" x2="492.4" y2="1162.3" stroke="rgba(255,0,0,0.86)" stroke-width="3.5" stroke-linecap="round"/><circle cx="492.6" cy="1146.6" r="1.95" fill="rgba(255,0,0,0.86)"/><circle cx="492.3" cy="1158.2" r="1.95" fill="rgba(255,0,0,0.86)"/><circle cx="492.7" cy="1138.1" r="1.95" fill="rgba(255,0,0,0.86)"/><circle cx="492.6" cy="1129.6" r="1.95" fill="rgba(255,0,0,0.86)"/><circle cx="492.6" cy="1128.1" r="1.95" fill="rgba(255,0,0,0.86)"/><line x1="498.9" y1="1127.1" x2="498.9" y2="1165.6" stroke="rgba(255,0,0,0.87)" stroke-width="3.5" stroke-linecap="round"/><circle cx="499.2" cy="1154.3" r="1.95" fill="rgba(255,0,0,0.87)"/><circle cx="498.9" cy="1159.9" r="1.95" fill="rgba(255,0,0,0.87)"/><circle cx="498.6" cy="1134.4" r="1.95" fill="rgba(255,0,0,0.87)"/><circle cx="498.9" cy="1147.5" r="1.95" fill="rgba(255,0,0,0.87)"/><circle cx="499.2" cy="1129.5" r="1.95" fill="rgba(255,0,0,0.87)"/><line x1="505.3" y1="1129.1" x2="505.3" y2="1167.5" stroke="rgba(255,0,0,0.88)" stroke-width="3.5" stroke-linecap="round"/><circle cx="505.5" cy="1148.6" r="1.95" fill="rgba(255,0,0,0.88)"/><circle cx="505.2" cy="1137.3" r="1.95" fill="rgba(255,0,0,0.88)"/><circle cx="505.2" cy="1129.1" r="1.95" fill="rgba(255,0,0,0.88)"/><circle cx="505.3" cy="1139.1" r="1.95" fill="rgba(255,0,0,0.88)"/><circle cx="505.6" cy="1143.5" r="1.95" fill="rgba(255,0,0,0.88)"/><line x1="511.8" y1="1131.5" x2="511.8" y2="1169.5" stroke="rgba(255,0,0,0.89)" stroke-width="3.5" stroke-linecap="round"/><circle cx="511.6" cy="1165.8" r="1.95" fill="rgba(255,0,0,0.89)"/><circle cx="511.6" cy="1146.4" r="1.95" fill="rgba(255,0,0,0.89)"/><circle cx="512.1" cy="1156.9" r="1.95" fill="rgba(255,0,0,0.89)"/><circle cx="512.0" cy="1138.8" r="1.95" fill="rgba(255,0,0,0.89)"/><circle cx="511.5" cy="1142.7" r="1.95" fill="rgba(255,0,0,0.89)"/><line x1="518.3" y1="1133.7" x2="518.3" y2="1170.8" stroke="rgba(255,0,0,0.90)" stroke-width="3.5" stroke-linecap="round"/><circle cx="518.2" cy="1162.4" r="1.95" fill="rgba(255,0,0,0.90)"/><circle cx="518.2" cy="1139.7" r="1.95" fill="rgba(255,0,0,0.90)"/><circle cx="518.2" cy="1142.0" r="1.95" fill="rgba(255,0,0,0.90)"/><circle cx="518.2" cy="1150.2" r="1.95" fill="rgba(255,0,0,0.90)"/><circle cx="518.1" cy="1155.6" r="1.95" fill="rgba(255,0,0,0.90)"/><circle cx="518.3" cy="1176.3" r="1.8" fill="rgba(255,0,0,0.69)"/><line x1="524.7" y1="1136.4" x2="524.7" y2="1172.5" stroke="rgba(255,0,0,0.91)" stroke-width="3.5" stroke-linecap="round"/><circle cx="524.4" cy="1139.4" r="1.95" fill="rgba(255,0,0,0.91)"/><circle cx="524.7" cy="1139.8" r="1.95" fill="rgba(255,0,0,0.91)"/><circle cx="524.9" cy="1149.2" r="1.95" fill="rgba(255,0,0,0.91)"/><circle cx="524.9" cy="1154.6" r="1.95" fill="rgba(255,0,0,0.91)"/><circle cx="524.4" cy="1172.2" r="1.95" fill="rgba(255,0,0,0.91)"/><circle cx="524.7" cy="1178.6" r="1.8" fill="rgba(255,0,0,0.71)"/><line x1="531.2" y1="1141.3" x2="531.2" y2="1178.3" stroke="rgba(255,0,0,0.91)" stroke-width="3.5" stroke-linecap="round"/><circle cx="530.9" cy="1141.4" r="1.95" fill="rgba(255,0,0,0.91)"/><circle cx="531.2" cy="1155.5" r="1.95" fill="rgba(255,0,0,0.91)"/><circle cx="531.1" cy="1169.1" r="1.95" fill="rgba(255,0,0,0.91)"/><circle cx="530.8" cy="1177.5" r="1.95" fill="rgba(255,0,0,0.91)"/><circle cx="531.0" cy="1172.5" r="1.95" fill="rgba(255,0,0,0.91)"/><circle cx="531.2" cy="1138.4" r="1.8" fill="rgba(255,0,0,0.74)"/><line x1="537.6" y1="1147.2" x2="537.6" y2="1179.6" stroke="rgba(255,0,0,0.92)" stroke-width="3.5" stroke-linecap="round"/><circle cx="537.3" cy="1175.9" r="1.95" fill="rgba(255,0,0,0.92)"/><circle cx="537.8" cy="1178.9" r="1.95" fill="rgba(255,0,0,0.92)"/><circle cx="537.7" cy="1179.8" r="1.95" fill="rgba(255,0,0,0.92)"/><circle cx="538.0" cy="1152.6" r="1.95" fill="rgba(255,0,0,0.92)"/><circle cx="537.6" cy="1141.0" r="1.8" fill="rgba(255,0,0,0.76)"/><line x1="544.1" y1="1149.7" x2="544.1" y2="1179.5" stroke="rgba(255,0,0,0.93)" stroke-width="3.5" stroke-linecap="round"/><circle cx="543.8" cy="1162.8" r="1.95" fill="rgba(255,0,0,0.93)"/><circle cx="544.1" cy="1167.9" r="1.95" fill="rgba(255,0,0,0.93)"/><circle cx="543.9" cy="1163.8" r="1.95" fill="rgba(255,0,0,0.93)"/><circle cx="544.2" cy="1153.0" r="1.95" fill="rgba(255,0,0,0.93)"/><circle cx="544.1" cy="1142.2" r="1.8" fill="rgba(255,0,0,0.78)"/><line x1="550.6" y1="1151.7" x2="550.6" y2="1182.1" stroke="rgba(255,0,0,0.94)" stroke-width="3.5" stroke-linecap="round"/><circle cx="550.3" cy="1165.4" r="1.95" fill="rgba(255,0,0,0.94)"/><circle cx="550.7" cy="1165.0" r="1.95" fill="rgba(255,0,0,0.94)"/><circle cx="550.5" cy="1173.7" r="1.95" fill="rgba(255,0,0,0.94)"/><circle cx="550.5" cy="1163.6" r="1.95" fill="rgba(255,0,0,0.94)"/><circle cx="550.6" cy="1143.8" r="1.8" fill="rgba(255,0,0,0.81)"/><line x1="557.0" y1="1153.6" x2="557.0" y2="1184.0" stroke="rgba(255,0,0,0.95)" stroke-width="3.5" stroke-linecap="round"/><circle cx="556.8" cy="1160.2" r="1.95" fill="rgba(255,0,0,0.95)"/><circle cx="556.7" cy="1167.1" r="1.95" fill="rgba(255,0,0,0.95)"/><circle cx="557.2" cy="1175.9" r="1.95" fill="rgba(255,0,0,0.95)"/><circle cx="556.7" cy="1172.3" r="1.95" fill="rgba(255,0,0,0.95)"/><circle cx="557.0" cy="1146.5" r="1.8" fill="rgba(255,0,0,0.83)"/><line x1="563.5" y1="1155.5" x2="563.5" y2="1186.6" stroke="rgba(255,0,0,0.96)" stroke-width="3.5" stroke-linecap="round"/><circle cx="563.4" cy="1166.7" r="1.95" fill="rgba(255,0,0,0.96)"/><circle cx="563.8" cy="1158.0" r="1.95" fill="rgba(255,0,0,0.96)"/><circle cx="563.5" cy="1179.2" r="1.95" fill="rgba(255,0,0,0.96)"/><circle cx="563.3" cy="1177.6" r="1.95" fill="rgba(255,0,0,0.96)"/><circle cx="563.5" cy="1149.0" r="1.8" fill="rgba(255,0,0,0.86)"/><line x1="569.9" y1="1157.4" x2="569.9" y2="1188.5" stroke="rgba(255,0,0,0.97)" stroke-width="3.5" stroke-linecap="round"/><circle cx="569.9" cy="1164.3" r="1.95" fill="rgba(255,0,0,0.97)"/><circle cx="570.0" cy="1180.8" r="1.95" fill="rgba(255,0,0,0.97)"/><circle cx="570.0" cy="1157.1" r="1.95" fill="rgba(255,0,0,0.97)"/><circle cx="570.1" cy="1186.1" r="1.95" fill="rgba(255,0,0,0.97)"/><circle cx="569.9" cy="1151.0" r="1.8" fill="rgba(255,0,0,0.88)"/><line x1="576.4" y1="1158.0" x2="576.4" y2="1191.1" stroke="rgba(255,0,0,0.98)" stroke-width="3.5" stroke-linecap="round"/><circle cx="576.7" cy="1189.2" r="1.95" fill="rgba(255,0,0,0.98)"/><circle cx="576.2" cy="1165.2" r="1.95" fill="rgba(255,0,0,0.98)"/><circle cx="576.7" cy="1176.2" r="1.95" fill="rgba(255,0,0,0.98)"/><circle cx="576.7" cy="1170.1" r="1.95" fill="rgba(255,0,0,0.98)"/><circle cx="576.4" cy="1152.2" r="1.8" fill="rgba(255,0,0,0.90)"/><line x1="582.8" y1="1158.6" x2="582.8" y2="1191.0" stroke="rgba(255,0,0,0.99)" stroke-width="3.5" stroke-linecap="round"/><circle cx="582.9" cy="1186.5" r="1.95" fill="rgba(255,0,0,0.99)"/><circle cx="583.2" cy="1179.0" r="1.95" fill="rgba(255,0,0,0.99)"/><circle cx="582.7" cy="1184.3" r="1.95" fill="rgba(255,0,0,0.99)"/><circle cx="582.6" cy="1186.4" r="1.95" fill="rgba(255,0,0,0.99)"/><circle cx="582.8" cy="1153.4" r="1.8" fill="rgba(255,0,0,0.93)"/><line x1="589.3" y1="1160.5" x2="589.3" y2="1190.9" stroke="rgba(255,0,0,1.00)" stroke-width="3.5" stroke-linecap="round"/><circle cx="589.6" cy="1171.6" r="1.95" fill="rgba(255,0,0,1.00)"/><circle cx="589.2" cy="1186.6" r="1.95" fill="rgba(255,0,0,1.00)"/><circle cx="589.4" cy="1169.1" r="1.95" fill="rgba(255,0,0,1.00)"/><circle cx="589.4" cy="1186.5" r="1.95" fill="rgba(255,0,0,1.00)"/><circle cx="589.3" cy="1155.3" r="1.8" fill="rgba(255,0,0,0.95)"/></g>
<circle cx="510.6" cy="1171.5" r="1.7" fill="rgba(255,0,0,0.9)"/>
<circle cx="516.4" cy="1177.4" r="1.7" fill="rgba(255,0,0,0.9)"/>
<circle cx="522.1" cy="1183.5" r="1.7" fill="rgba(255,0,0,0.9)"/>
<circle cx="535.1" cy="1190.8" r="1.7" fill="rgba(255,0,0,0.9)"/>
<circle cx="541.2" cy="1198.3" r="1.7" fill="rgba(255,0,0,0.9)"/>
<circle cx="548.6" cy="1192.3" r="1.7" fill="rgba(255,0,0,0.9)"/>
<circle cx="555.0" cy="1197.3" r="1.7" fill="rgba(255,0,0,0.9)"/>
<circle cx="561.5" cy="1197.3" r="1.7" fill="rgba(255,0,0,0.9)"/>
<circle cx="567.9" cy="1197.3" r="1.7" fill="rgba(255,0,0,0.9)"/>
<circle cx="574.3" cy="1198.0" r="1.7" fill="rgba(255,0,0,0.9)"/>
<circle cx="548.6" cy="1197.5" r="1.7" fill="rgba(255,0,0,0.9)"/>
<circle cx="555.0" cy="1190.5" r="1.7" fill="rgba(255,0,0,0.9)"/>
<circle cx="561.5" cy="1191.5" r="1.7" fill="rgba(255,0,0,0.9)"/>
<circle cx="567.9" cy="1195.5" r="1.7" fill="rgba(255,0,0,0.9)"/>
<line x1="381.8" y1="1251.2" x2="375.8" y2="1088.9" stroke="#000" stroke-width="1.5"/>
<polygon points="375.8,1088.9 378.6,1094.8 373.4,1095.0" fill="#000"/>
<line x1="457.5" y1="1189.4" x2="455.1" y2="1050.1" stroke="#000" stroke-width="1.5"/>
<polygon points="455.1,1050.1 457.8,1056.1 452.6,1056.1" fill="#000"/>
<line x1="380.5" y1="1199.4" x2="602.6" y2="1264.8" stroke="#000" stroke-width="1.5"/>
<polygon points="602.6,1264.8 596.1,1265.6 597.6,1260.6" fill="#000"/>
<line x1="456.1" y1="1138.0" x2="640.4" y2="1188.3" stroke="#000" stroke-width="1.5"/>
<polygon points="640.4,1188.3 633.9,1189.2 635.3,1184.2" fill="#000"/>
<polyline points="386.8,1201.5 393.6,1202.6 401.5,1205.2 410.7,1206.5 423.8,1210.4 431.7,1213.1 439.6,1215.7 444.3,1221.5 450.1,1220.4 458.0,1221.0 463.2,1226.7 469.8,1228.8 479.0,1232.0" fill="none" stroke="#2448d8" stroke-width="1" stroke-dasharray="2.2 1.2"/>
<path d="M385.6,1200.3l2.4,2.4m0,-2.4l-2.4,2.4M389.3,1200.9l2.4,2.4m0,-2.4l-2.4,2.4M393.0,1201.6l2.4,2.4m0,-2.4l-2.4,2.4M396.7,1202.8l2.4,2.4m0,-2.4l-2.4,2.4M400.4,1204.0l2.4,2.4m0,-2.4l-2.4,2.4M404.0,1204.5l2.4,2.4m0,-2.4l-2.4,2.4M407.7,1205.0l2.4,2.4m0,-2.4l-2.4,2.4M411.4,1205.9l2.4,2.4m0,-2.4l-2.4,2.4M415.1,1207.0l2.4,2.4m0,-2.4l-2.4,2.4M418.8,1208.1l2.4,2.4m0,-2.4l-2.4,2.4M422.5,1209.2l2.4,2.4m0,-2.4l-2.4,2.4M426.2,1210.4l2.4,2.4m0,-2.4l-2.4,2.4M429.9,1211.7l2.4,2.4m0,-2.4l-2.4,2.4M433.5,1212.9l2.4,2.4m0,-2.4l-2.4,2.4M437.2,1214.1l2.4,2.4m0,-2.4l-2.4,2.4M440.9,1217.6l2.4,2.4m0,-2.4l-2.4,2.4M444.6,1220.0l2.4,2.4m0,-2.4l-2.4,2.4M448.3,1219.3l2.4,2.4m0,-2.4l-2.4,2.4M452.0,1219.4l2.4,2.4m0,-2.4l-2.4,2.4M455.7,1219.7l2.4,2.4m0,-2.4l-2.4,2.4M459.4,1222.6l2.4,2.4m0,-2.4l-2.4,2.4M463.0,1225.8l2.4,2.4m0,-2.4l-2.4,2.4M466.7,1227.0l2.4,2.4m0,-2.4l-2.4,2.4M470.4,1228.2l2.4,2.4m0,-2.4l-2.4,2.4M474.1,1229.5l2.4,2.4m0,-2.4l-2.4,2.4M477.8,1230.8l2.4,2.4m0,-2.4l-2.4,2.4" stroke="#1c3cd4" stroke-width="1" fill="none"/>
<g fill="#111" stroke="#111" stroke-width="0.25"><text x="365.2" y="1067.4" font-size="16.8" text-anchor="start">(h)</text><text x="380.9" y="1107.3" font-size="14.5" text-anchor="start">Height/µm</text><text x="458.9" y="1069.9" font-size="14.5" text-anchor="start">Height/µm</text><text x="365.9" y="1274.8" font-size="14.5" text-anchor="start">6.7</text><text x="385.1" y="1280.0" font-size="14.5" text-anchor="start">34.8</text><text x="409.6" y="1289.3" font-size="14.5" text-anchor="start">62.9</text><text x="435.1" y="1295.8" font-size="14.5" text-anchor="start">91.0</text><text x="457.4" y="1305.0" font-size="14.5" text-anchor="start">119.2</text><text x="629.0" y="1126.0" font-size="14.5" text-anchor="end">0.8</text><text x="629.0" y="1140.2" font-size="14.5" text-anchor="end">0.6</text><text x="629.0" y="1152.8" font-size="14.5" text-anchor="end">0.4</text><text x="629.0" y="1166.2" font-size="14.5" text-anchor="end">0.2</text><text x="629.0" y="1178.9" font-size="14.5" text-anchor="end">0.0</text><text x="629.0" y="1195.4" font-size="14.5" text-anchor="end">-0.2</text><text x="629.0" y="1208.0" font-size="14.5" text-anchor="end">-0.4</text><text x="629.0" y="1220.7" font-size="14.5" text-anchor="end">-0.6</text></g>
<text x="574.2" y="1281.4" font-size="15" fill="#111" stroke="#111" stroke-width="0.25">x/10<tspan dy="-5" dx="0.3" font-size="14.5">−3</tspan><tspan dy="5" dx="0.8" font-size="15">µm</tspan></text>
<rect x="532.8" y="1047.5" width="150.7" height="64.0" rx="8" ry="8" fill="#fff" stroke="#4f73b8" stroke-width="1.1"/><circle cx="542.9" cy="1059.8" r="2.2" fill="#f43030"/><circle cx="542.9" cy="1059.8" r="0.8" fill="#f9a0a0"/><text x="556.3" y="1064.8" font-size="13.1" fill="#111" stroke="#111" stroke-width="0.15">Real Roughness Height</text><line x1="537.3" y1="1073.0" x2="549.3" y2="1073.0" stroke="#229022" stroke-width="1.1"/><text x="556.3" y="1078.2" font-size="13.1" fill="#111" stroke="#111" stroke-width="0.15">95% Range</text><line x1="537.3" y1="1087.2" x2="550.3" y2="1087.2" stroke="#4f7fdc" stroke-width="1.2" stroke-dasharray="2.6 1.2"/><text x="556.3" y="1091.6" font-size="13.1" fill="#111" stroke="#111" stroke-width="0.15">Mean Prediction</text><line x1="537.8" y1="1101.3" x2="549.8" y2="1101.3" stroke="#3a3a3a" stroke-width="1.8"/><text x="556.3" y="1105.0" font-size="13.1" fill="#111" stroke="#111" stroke-width="0.15">Zero Line</text>
<line x1="361.2" y1="1311.5" x2="628.3" y2="1311.5" stroke="#1a1a1a" stroke-width="1.3"/><line x1="361.2" y1="1339.3" x2="628.3" y2="1339.3" stroke="#1a1a1a" stroke-width="1.3"/><line x1="361.2" y1="1366.4" x2="628.3" y2="1366.4" stroke="#1a1a1a" stroke-width="1.3"/><g fill="#111" stroke="#111" stroke-width="0.15"><text x="461.6" y="1327.6" font-size="12.9" text-anchor="middle">feed</text><text x="528.0" y="1327.6" font-size="12.9" text-anchor="middle">velocity</text><text x="595.0" y="1327.6" font-size="12.9" text-anchor="middle">sequence</text><text x="394.9" y="1355.3" font-size="12.9" text-anchor="middle">parameter</text><text x="461.6" y="1355.3" font-size="12.9" text-anchor="middle">4mm/min</text><text x="528.0" y="1355.3" font-size="12.9" text-anchor="middle">28.25m/s</text><text x="595.0" y="1355.3" font-size="12.9" text-anchor="middle">NO.50</text></g>
<text x="132.2" y="674.3" font-size="12.7" fill="#1a1a1a" textLength="386.2" lengthAdjust="spacing">The Model Prediction Results with Bayesian Optimized Hyperparameters</text>
<text x="122.3" y="1388.7" font-size="17" fill="#1a1a1a" textLength="403.0" lengthAdjust="spacing">The Model Prediction Results with Initial Hyperparameters</text>
</svg>
</body></html>
